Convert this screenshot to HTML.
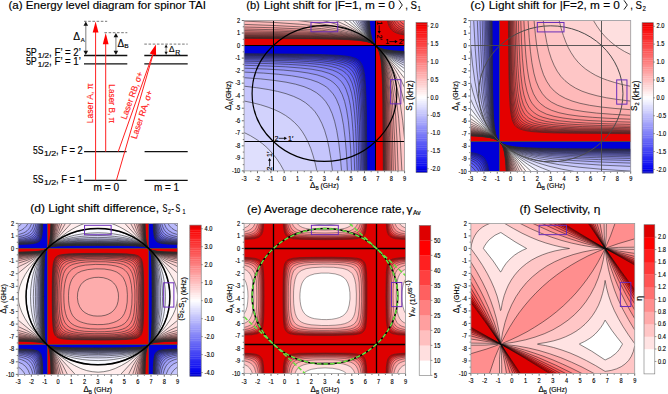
<!DOCTYPE html><html><head><meta charset="utf-8"><style>html,body{margin:0;padding:0;background:#fff}svg{display:block}</style></head><body><svg width="668" height="394" viewBox="0 0 668 394" font-family="Liberation Sans"><style>text{stroke:#000;stroke-width:.15px}.r{stroke:#ff1a1a}</style><rect width="668" height="394" fill="#fff"/><defs><clipPath id="cb"><rect x="244.10" y="20.50" width="160.50" height="150.40"/></clipPath><clipPath id="cc"><rect x="470.60" y="20.60" width="160.10" height="150.80"/></clipPath><clipPath id="cd"><rect x="18.10" y="223.40" width="159.50" height="151.00"/></clipPath><clipPath id="ce"><rect x="244.10" y="223.40" width="161.50" height="150.20"/></clipPath><clipPath id="cf"><rect x="470.90" y="223.40" width="163.80" height="150.00"/></clipPath></defs><g clip-path="url(#cb)"><rect x="244.10" y="45.57" width="131.53" height="125.33" fill="#0000d7"/><rect x="244.10" y="20.50" width="131.53" height="25.07" fill="#0000d7"/><rect x="375.63" y="45.57" width="28.97" height="125.33" fill="#0000d7"/><rect x="375.63" y="20.50" width="28.97" height="25.07" fill="#0000d7"/><g transform="scale(.1)"><path fill="#0606f0" d="M2441 1709h1228l-5-567-3-165-6-135-9-91-11-60-15-45-12-20-12-14-15-13-20-12-47-16-63-11-95-8-133-6-187-4-595-5z"/><path fill="#1313f1" d="M2441 1709h1223l-5-561-4-166-7-130-8-85-11-66-18-48-22-32-17-15-16-9-45-17-70-14-90-8-140-7-175-4-595-5z"/><path fill="#2020f2" d="M2441 1709h1218l-6-561-5-166-6-120-9-85-12-63-17-48-11-20-12-15-17-15-18-11-20-9-30-10-65-12-85-9-135-7-175-5-595-6z"/><path fill="#2d2df3" d="M2441 1709h1212l-7-549-5-161-6-117-10-90-14-70-17-46-12-20-12-15-17-15-17-11-20-9-30-11-70-14-95-10-125-7-175-5-580-6z"/><path fill="#3939f3" d="M2441 1709h1205l-7-526-6-166-7-120-10-90-15-72-19-49-11-17-14-18-33-25-48-20-67-15-93-11-140-8-175-6-560-7z"/><path fill="#4646f4" d="M2441 1709h1197l-8-501-5-166-9-130-10-86-15-71-20-52-10-17-16-20-16-15-23-15-48-20-66-15-91-11-127-9-163-6-570-8z"/><path fill="#5353f5" d="M2441 1709h1188l-9-486-6-166-9-125-11-90-16-70-10-31-12-24-26-36-16-15-22-15-51-22-70-17-90-12-128-9-162-6-550-9z"/><path fill="#6060f6" d="M2441 1709h1177l-10-486-7-151-10-125-12-90-17-70-22-51-14-21-15-18-17-16-23-15-25-13-30-11-65-16-100-14-125-9-155-7-530-10z"/><path fill="#6c6cf6" d="M2441 1709h1164l-11-456-8-161-10-116-13-89-17-70-11-30-14-29-14-22-16-19-17-16-23-15-27-15-28-11-74-19-96-14-130-11-160-8-495-10z"/><path fill="#7979f7" d="M2441 1709h1148l-5-256-7-200-10-151-11-109-15-89-18-67-25-55-31-41-21-19-23-16-53-25-72-20-92-15-120-12-155-9-215-7-275-6z"/><path fill="#8686f8" d="M2441 1709h1129l-6-236-8-188-10-144-12-109-16-90-20-70-25-55-16-25-17-20-22-21-22-16-25-14-33-15-72-21-95-17-115-13-155-10-212-9-248-6z"/><path fill="#9393f9" d="M2441 1709h1106l-7-206-9-175-11-140-14-116-17-90-23-73-27-57-17-25-17-20-24-22-25-18-55-29-70-23-91-19-118-15-146-11-185-10-250-7z"/><path fill="#9f9ff9" d="M2441 1709h1075l-9-211-11-155-12-125-15-106-19-85-24-71-30-59-34-45-21-21-25-19-30-19-30-15-75-26-89-21-111-16-144-14-166-10-230-9z"/><path fill="#acacfa" d="M2441 1709h1033l-10-175-13-151-14-120-17-95-22-86-25-70-32-58-35-45-22-22-25-20-28-19-31-16-74-30-85-22-105-19-135-16-166-14-194-10z"/><path fill="#b9b9fb" d="M2441 1709h974l-12-150-15-126-17-110-19-90-24-80-27-64-30-53-37-49-49-45-59-38-70-32-81-25-94-22-120-19-140-15-180-14z"/><path fill="#c6c6fc" d="M2441 1709h884l-15-115-17-106-20-90-21-75-23-65-28-60-33-56-35-45-47-45-55-40-64-35-76-30-90-27-105-23-120-19-135-16z"/><path fill="#d2d2fc" d="M2441 1709h728l-18-80-21-75-23-71-26-61-30-59-30-49-35-46-40-42-44-38-46-33-55-32-55-26-65-25-75-24-80-20-85-18z"/><path fill="#dfdffd" d="M2441 1709h399l-36-65-38-57-42-53-48-52-50-44-55-40-65-40-65-33z"/><path fill="#0606f0" d="M2441 456h1315v-4l-5-1-18-25-9-20-10-31-11-65-9-105h-1253z"/><path fill="#1313f1" d="M2441 456h1315v-4l-5-1-18-25-10-20-10-31-13-75-9-95h-1250z"/><path fill="#2020f2" d="M2441 456h1315v-3l-5-2-19-25-9-20-11-31-14-70-10-100h-1247z"/><path fill="#2d2df3" d="M2441 456h1315v-3l-5-2-22-30-11-26-9-25-14-75-9-90h-1245z"/><path fill="#3939f3" d="M2441 456h1315v-3l-5-2-22-30-10-20-11-31-15-70-11-95h-1241z"/><path fill="#4646f4" d="M2441 456h1315v-3l-5-2-23-30-14-31-9-25-15-70-11-90h-1238z"/><path fill="#5353f5" d="M2441 456h1315v-3l-5-2-23-30-13-26-12-30-15-65-13-95h-1234z"/><path fill="#6060f6" d="M2441 456h1315v-3l-6-2-23-30-13-26-11-25-19-75-13-90h-1230z"/><path fill="#6c6cf6" d="M2441 456h1315v-2l-6-3-26-35-24-51-21-75-13-85h-1225z"/><path fill="#7979f7" d="M2441 456h1315v-2l-6-3-27-35-25-51-20-65-17-95h-1220z"/><path fill="#8686f8" d="M2441 456h1315v-2l-6-3-28-35-15-26-13-30-21-65-18-90h-1214z"/><path fill="#9393f9" d="M2441 456h1315v-2l-6-3-32-40-29-56-21-60-20-90h-1207z"/><path fill="#9f9ff9" d="M2441 456l1315-2-6-3-26-30-20-31-16-30-25-65-22-90h-1200z"/><path fill="#acacfa" d="M2441 456l1315-2-6-3-30-35-20-31-17-30-29-70-22-80h-1191z"/><path fill="#b9b9fb" d="M2441 456l1315-1-6-4-31-35-22-31-18-30-30-65-28-85h-1180z"/><path fill="#c6c6fc" d="M2441 456l1315-1-6-4-36-40-41-61-34-65-30-80h-1168z"/><path fill="#d2d2fc" d="M2441 456l1315-1-6-4-41-45-44-61-37-65-33-75h-1154z"/><path fill="#dfdffd" d="M2441 456l1315-1-6-4-43-45-48-61-45-70-37-70h-1136z"/><path fill="#ececfe" d="M2441 456l1315-1-5-2-50-52-52-61-49-65-45-70h-1114z"/><path fill="#f9f9ff" d="M2441 456l1315-1-57-54-62-66-57-65-54-65h-1085z"/><path fill="#fff9f9" d="M2441 456h1315l-267-251h-693h-355z"/><path fill="#ffecec" d="M2441 456h1315l-75-68-80-65-80-60-85-58h-995z"/><path fill="#fedfdf" d="M2441 456h1315l-35-32-50-41-95-66-105-59-113-53h-917z"/><path fill="#fed2d2" d="M2441 456h1315l-50-43-50-37-55-33-65-34-70-31-70-25-80-25-86-23h-789z"/><path fill="#fec6c6" d="M2441 456h1315l-50-42-70-45-75-37-90-34-95-27-115-25-135-22-147-19h-538z"/><path fill="#feb9b9" d="M2441 456h1314l-24-22-50-36-45-25-45-20-50-19-55-17-130-30-160-25-200-20-260-18-295-13z"/><path fill="#fdacac" d="M2441 456h1314l-24-22-40-28-35-19-45-20-50-18-55-15-130-27-160-21-210-17-240-13-325-12z"/><path fill="#fd9f9f" d="M2441 456h1314l-24-22-40-26-40-20-35-14-50-17-55-13-120-22-170-19-205-13-260-12-315-8z"/><path fill="#fd9393" d="M2441 456h1314l-19-18-40-26-40-19-35-14-40-12-60-14-120-19-160-15-200-12-260-9-340-8z"/><path fill="#fd8686" d="M2441 456h1314l-19-18-30-19-35-18-40-15-45-13-50-11-125-18-145-12-205-11-270-8-350-7z"/><path fill="#fc7979" d="M2441 456h1314l-19-17-25-17-30-15-40-15-50-13-50-10-115-16-145-11-210-10-290-7-340-5z"/><path fill="#fc6c6c" d="M2441 456h1313l-18-17-25-16-30-14-35-13-80-18-120-16-140-11-215-9-260-6-390-5z"/><path fill="#fc6060" d="M2441 456h1313l-18-17-25-15-35-16-30-9-80-18-115-14-155-10-215-7-640-10z"/><path fill="#fc5353" d="M2441 456h1313l-18-17-20-12-30-14-35-11-90-18-105-11-155-10-195-6-665-9z"/><path fill="#fb4646" d="M2441 456h1313l-18-17-20-11-35-15-30-9-80-15-105-11-160-9-200-6-665-8z"/><path fill="#fb3939" d="M2441 456h1313l-18-16-20-12-55-20-80-15-105-11-160-8-200-6-675-7z"/><path fill="#fb2d2d" d="M2441 456h1313l-18-16-20-11-55-20-70-12-105-11-155-7-205-6-685-6z"/><path fill="#fb2020" d="M2441 456h1312l-17-16-15-9-20-8-35-11-80-14-105-9-145-7-205-4-690-6z"/><path fill="#fa1313" d="M2441 456h1312l-17-16-15-8-25-10-30-9-65-11-110-10-130-5-210-5-710-6z"/><path fill="#fa0606" d="M2441 456h1312l-17-16-15-8-25-10-30-8-75-11-105-8-160-7-210-3-675-5z"/><path fill="#e40000" d="M2441 456h1312l-17-15-15-9-45-14-65-11-110-9-140-6-210-4-710-4z"/><path fill="#0606f0" d="M3756 1709h290v-1194l-112-7-81-11-36-8-25-10-15-8-17-15h-4z"/><path fill="#1313f1" d="M3756 1709h290v-1191l-117-8-76-12-36-9-25-10-15-8-17-15h-4z"/><path fill="#2020f2" d="M3756 1709h290v-1189l-112-8-86-14-36-10-20-8-15-9-18-15h-3z"/><path fill="#2d2df3" d="M3756 1709h290v-1186l-117-9-81-14-36-11-25-11-15-10-13-12h-3z"/><path fill="#3939f3" d="M3756 1709h290v-1183l-107-9-86-15-56-19-20-11-18-16h-3z"/><path fill="#4646f4" d="M3756 1709h290v-1179l-112-11-81-15-56-20-20-12-18-16h-3z"/><path fill="#5353f5" d="M3756 1709h290v-1175l-102-11-81-15-36-11-30-13-20-12-18-16h-3z"/><path fill="#6060f6" d="M3756 1709h290v-1171l-112-13-76-17-31-10-30-13-20-13-18-16h-3z"/><path fill="#6c6cf6" d="M3756 1709h290v-1167l-107-13-76-17-36-12-25-12-25-15-19-17h-2z"/><path fill="#7979f7" d="M3756 1709h290v-1161l-102-15-81-19-30-11-31-14-25-16-19-17h-2z"/><path fill="#8686f8" d="M3756 1709h290v-1155l-97-15-81-21-35-14-31-15-25-16-19-17h-2z"/><path fill="#9393f9" d="M3756 1709h290v-1149l-102-18-81-23-36-15-25-14-25-17-19-17h-2z"/><path fill="#9f9ff9" d="M3756 1709h290v-1141l-97-19-81-26-61-29-30-21-19-17z"/><path fill="#acacfa" d="M3756 1709h290v-1132l-97-22-76-26-35-17-31-17-30-21-20-18z"/><path fill="#b9b9fb" d="M3756 1709h290v-1122l-91-24-82-31-61-33-35-25-20-18z"/><path fill="#c6c6fc" d="M3756 1709h290v-1109l-86-27-82-34-35-19-36-23-30-23-20-18z"/><path fill="#d2d2fc" d="M3756 1709h290v-1095l-86-31-82-39-71-46-50-42z"/><path fill="#dfdffd" d="M3756 1709h290v-1076l-86-39-77-42-71-49-55-47z"/><path fill="#ececfe" d="M3756 1709h290v-1053l-86-48-72-46-71-53-60-53z"/><path fill="#f9f9ff" d="M3756 1709h290v-1023l-81-57-71-55-67-54-71-64z"/><path fill="#fff9f9" d="M3756 1709h290v-982l-290-271z"/><path fill="#ffecec" d="M3756 1709h290v-923l-68-90-71-85-79-85-72-70z"/><path fill="#fedfdf" d="M3756 1709h290v-5v-827l-28-60-34-66-32-55-36-55-41-55-37-45-46-50-36-35z"/><path fill="#fed2d2" d="M3756 1709h290l-1-677-26-100-27-85-30-80-36-81-36-65-41-60-44-55-49-50z"/><path fill="#fec6c6" d="M3756 1709h290v-321l-16-155-17-126-19-120-20-95-21-80-20-66-23-60-25-55-31-55-31-45-32-40-35-35z"/><path fill="#feb9b9" d="M3756 1709h263l-15-291-17-230-24-201-26-150-30-121-21-60-20-45-26-50-26-40-28-35-30-29z"/><path fill="#fdacac" d="M3756 1709h226l-11-296-14-245-19-196-21-150-27-121-16-50-19-50-25-50-22-35-27-35-25-24z"/><path fill="#fd9f9f" d="M3756 1709h199l-9-311-13-256-15-195-18-140-24-121-14-50-16-45-21-45-22-35-22-30-19-20-6-4z"/><path fill="#fd9393" d="M3756 1709h177l-7-311-10-256-14-205-16-145-22-121-13-50-16-45-16-35-20-35-23-30-20-19z"/><path fill="#fd8686" d="M3756 1709h160l-6-316-9-266-11-190-14-155-20-121-12-45-14-45-15-35-20-35-19-25-15-16-5-3z"/><path fill="#fc7979" d="M3756 1709h146l-6-336-7-251-9-195-14-160-17-111-10-45-14-45-15-35-16-30-19-25-14-16-5-3z"/><path fill="#fc6c6c" d="M3756 1709h134l-5-351-7-276-9-180-12-151-16-110-21-80-14-35-16-30-15-20-14-16-5-2z"/><path fill="#fc6060" d="M3756 1709h124l-10-617-9-205-10-141-15-110-20-80-11-30-16-30-14-20-14-16-5-2z"/><path fill="#fc5353" d="M3756 1709h115l-9-637-7-185-10-146-13-110-18-75-11-30-15-30-13-20-14-16-5-2z"/><path fill="#fb4646" d="M3756 1709h108l-9-637-6-190-9-151-13-110-16-70-11-30-15-30-23-30-6-3z"/><path fill="#fb3939" d="M3756 1709h101l-7-637-6-195-9-151-11-100-15-75-10-30-15-30-10-15-13-15-5-3z"/><path fill="#fb2d2d" d="M3756 1709h95l-7-647-5-195-8-151-11-100-15-75-21-50-10-15-13-15-5-3z"/><path fill="#fb2020" d="M3756 1709h90l-6-667-6-195-7-146-11-100-13-60-8-25-12-25-9-15-13-15-5-2z"/><path fill="#fa1313" d="M3756 1709h85l-5-667-5-195-7-136-9-100-15-75-10-30-10-20-19-25-5-2z"/><path fill="#fa0606" d="M3756 1709h81l-6-692-4-200-6-121-10-100-12-60-10-30-9-20-6-10-18-17z"/><path fill="#e40000" d="M3756 1709h77l-4-662-4-200-6-146-9-100-12-65-9-30-9-20-6-10-18-17z"/><path fill="#0606f0" d="M3756 456h290v-251h-290z"/><path fill="#1313f1" d="M3756 456h290v-251h-290z"/><path fill="#2020f2" d="M3756 456h290v-251h-290z"/><path fill="#2d2df3" d="M3756 456h290v-251h-290z"/><path fill="#3939f3" d="M3756 456h290v-251h-290z"/><path fill="#4646f4" d="M3756 456h290v-251h-290z"/><path fill="#5353f5" d="M3756 456h290v-251h-290z"/><path fill="#6060f6" d="M3756 456h290v-251h-290z"/><path fill="#6c6cf6" d="M3756 456h290v-251h-290z"/><path fill="#7979f7" d="M3756 456h290v-251h-290z"/><path fill="#8686f8" d="M3756 456h290v-251h-290z"/><path fill="#9393f9" d="M3756 456h290v-251h-290z"/><path fill="#9f9ff9" d="M3756 456h290v-251h-290z"/><path fill="#acacfa" d="M3756 456h290v-251h-290z"/><path fill="#b9b9fb" d="M3756 456h290v-251h-290z"/><path fill="#c6c6fc" d="M3756 456h290v-251h-290z"/><path fill="#d2d2fc" d="M3756 456h290v-251h-290z"/><path fill="#dfdffd" d="M3756 456h290v-251h-290z"/><path fill="#ececfe" d="M3756 456h290v-251h-290z"/><path fill="#f9f9ff" d="M3756 456h290v-251h-290z"/><path fill="#fff9f9" d="M3756 456h290v-251h-290z"/><path fill="#ffecec" d="M3756 456h290v-251h-290z"/><path fill="#fedfdf" d="M3756 456h290v-251h-290z"/><path fill="#fed2d2" d="M3756 456h290v-251h-290z"/><path fill="#fec6c6" d="M3756 456h290v-251h-290z"/><path fill="#feb9b9" d="M3756 456h290v-251h-290z"/><path fill="#fdacac" d="M3756 456h290v-251h-290z"/><path fill="#fd9f9f" d="M3756 456h290v-251h-290z"/><path fill="#fd9393" d="M3756 456h290v-251h-290z"/><path fill="#fd8686" d="M3756 456h290v-251h-290z"/><path fill="#fc7979" d="M3756 456h290v-251h-290z"/><path fill="#fc6c6c" d="M3756 456h290v-251h-290z"/><path fill="#fc6060" d="M3756 456h290v-240l-13-11h-277z"/><path fill="#fc5353" d="M3756 456h290v-208l-27-18-26-25h-237z"/><path fill="#fb4646" d="M3756 456h290v-183l-26-13-22-15-18-17-17-23h-207z"/><path fill="#fb3939" d="M3756 456h290v-164l-36-15-30-20-21-22-19-30h-184z"/><path fill="#fb2d2d" d="M3756 456h290v-148l-46-17-33-21-27-30-19-35h-165z"/><path fill="#fb2020" d="M3756 456h290v-135l-51-16-20-10-20-14-16-15-12-16-11-20-10-25h-150z"/><path fill="#fa1313" d="M3756 456h290v-124l-60-17-21-10-22-15-15-15-14-19-10-21-11-30h-137z"/><path fill="#fa0606" d="M3756 456h290v-115l-36-7-30-9-25-11-21-14-15-15-15-22-11-23-10-35h-127z"/><path fill="#e40000" d="M3756 456h290v-107l-46-8-30-9-26-12-20-13-16-17-14-23-11-27-9-35h-118z"/></g><path transform="scale(.1)" fill="none" stroke="#2e2e2e" stroke-width="6" d="M3669 1709l-5-577-4-165-6-130-8-86-12-65-17-45-21-30-15-12-20-12-47-16-63-11-95-8-133-6-187-4-595-5M3664 1709l-5-567-4-170-7-125-9-91-13-63-16-42-9-15-15-18-31-22-49-18-67-12-93-8-143-7-172-4-590-5M3659 1709l-6-567-5-170-7-116-9-89-13-61-18-46-12-19-13-15-15-12-20-11-45-17-70-13-90-9-135-7-175-4-585-6M3653 1709l-7-549-5-161-7-127-10-85-13-66-10-29-9-21-13-20-14-15-19-15-18-10-47-17-65-13-96-10-124-7-175-5-580-6M3646 1709l-7-536-6-166-8-120-10-85-15-71-9-25-12-25-13-19-14-16-20-15-17-10-54-19-70-14-90-9-140-8-168-5-552-7M3638 1709l-8-511-6-166-8-125-11-90-16-71-21-50-12-17-16-18-18-15-21-13-50-19-70-15-95-11-115-7-180-6-550-8M3629 1709l-9-501-7-166-9-120-13-95-15-62-20-49-15-22-16-18-17-15-22-13-25-12-29-10-68-15-93-12-118-8-172-7-540-8M3618 1709l-10-486-7-151-10-125-13-95-17-66-11-30-13-25-13-20-18-19-19-16-21-13-25-12-30-10-70-17-100-13-130-9-155-7-515-9M3605 1709l-11-466-8-151-11-125-14-91-20-74-10-25-15-27-15-21-16-18-19-15-22-15-28-13-30-11-70-17-98-14-122-10-165-8-490-10M3589 1709l-5-256-7-200-10-151-11-109-15-89-20-72-25-53-15-23-20-21-23-19-22-14-55-24-70-18-95-15-120-12-155-8-215-7-265-6M3570 1709l-6-236-8-188-10-144-14-124-16-85-21-70-14-30-15-27-17-23-18-19-20-17-25-17-25-13-35-14-75-20-91-16-119-12-155-10-197-8-248-6M3547 1709l-8-221-9-175-12-145-14-111-18-85-25-76-15-31-15-25-17-23-19-20-24-20-23-16-28-15-34-14-70-21-95-18-115-13-150-12-180-8-235-7M3516 1709l-9-211-11-156-13-134-17-108-20-86-25-70-31-57-19-25-20-21-22-19-28-20-60-30-70-23-90-19-110-16-135-13-170-10-225-9M3474 1709l-10-180-13-147-15-124-20-108-22-83-28-69-17-31-18-28-40-45-25-22-25-17-60-32-74-26-81-20-110-19-130-15-151-12-194-10M3415 1709l-14-165-15-127-19-114-21-90-25-78-30-66-35-55-42-47-50-40-58-33-65-27-85-25-95-20-120-18-135-15-165-12M3325 1709l-16-120-18-108-20-93-25-85-28-70-32-62-36-54-44-47-50-42-55-34-65-30-75-27-85-23-95-19-115-18-125-15M3169 1709l-18-80-21-75-23-71-26-61-30-59-30-49-35-46-40-42-44-38-46-33-55-32-55-26-65-25-75-24-80-20-85-18M2840 1709l-36-65-38-57-42-53-48-52-50-44-55-40-65-40-65-33M3756 452l-5-1-18-25-9-20-10-31-11-65-9-105M3756 452l-5-1-18-25-10-20-10-31-13-75-9-95M3756 453l-5-2-19-25-9-20-11-31-14-70-10-100M3756 453l-5-2-22-30-11-26-9-25-14-75-9-90M3756 453l-5-2-22-30-10-20-11-31-15-70-11-95M3756 453l-5-2-23-30-14-31-9-25-15-70-11-90M3756 453l-5-2-23-30-13-26-12-30-15-65-13-95M3756 453l-6-2-23-30-13-26-11-25-19-75-13-90M3756 454l-6-3-26-35-24-51-21-75-13-85M3756 454l-6-3-27-35-25-51-20-65-17-95M3756 454l-6-3-28-35-15-26-13-30-21-65-18-90M3756 454l-6-3-32-40-29-56-21-60-20-90M3756 454l-6-3-26-30-20-31-16-30-25-65-22-90M3756 454l-6-3-30-35-20-31-17-30-29-70-22-80M3756 455l-6-4-31-35-22-31-18-30-30-65-28-85M3756 455l-6-4-36-40-41-61-34-65-30-80M3756 455l-6-4-41-45-44-61-37-65-33-75M3756 455l-6-4-43-45-48-61-45-70-37-70M3756 455l-5-2-50-52-52-61-49-65-45-70M3756 455l-57-54-62-66-57-65-54-65M3756 456l-267-251M3756 456l-75-68-80-65-80-60-85-58M3756 456l-35-32-50-41-95-66-105-59-113-53M3756 456l-50-43-50-37-55-33-65-34-70-31-70-25-80-25-86-23M3756 456l-50-42-70-45-75-37-90-34-95-27-115-25-135-22-147-19M3755 456l-24-22-50-36-45-25-45-20-50-19-55-17-130-30-160-25-200-20-260-18-295-13M3755 456l-24-22-40-28-35-19-45-20-50-18-55-15-130-27-160-21-210-17-240-13-325-12M3755 456l-24-22-40-26-40-20-35-14-50-17-55-13-120-22-170-19-205-13-260-12-315-8M3755 456l-19-18-40-26-40-19-35-14-40-12-60-14-120-19-160-15-200-12-260-9-340-8M3755 456l-19-18-30-19-35-18-40-15-45-13-50-11-125-18-145-12-205-11-270-8-350-7M3755 456l-19-17-25-17-30-15-40-15-50-13-50-10-115-16-145-11-210-10-290-7-340-5M3754 456l-18-17-25-16-30-14-35-13-80-18-120-16-140-11-215-9-260-6-390-5M3754 456l-18-17-25-15-35-16-30-9-80-18-115-14-155-10-215-7-640-10M3754 456l-18-17-20-12-30-14-35-11-90-18-105-11-155-10-195-6-665-9M3754 456l-18-17-20-11-35-15-30-9-80-15-105-11-160-9-200-6-665-8M3754 456l-18-16-20-12-55-20-80-15-105-11-160-8-200-6-675-7M3754 456l-18-16-20-11-55-20-70-12-105-11-155-7-205-6-685-6M3753 456l-17-16-15-9-20-8-35-11-80-14-105-9-145-7-205-4-690-6M3753 456l-17-16-15-8-25-10-30-9-65-11-110-10-130-5-210-5-710-6M3753 456l-17-16-15-8-25-10-30-8-75-11-105-8-160-7-210-3-675-5M3753 456l-17-15-15-9-45-14-65-11-110-9-140-6-210-4-710-4M4046 515l-112-7-81-11-36-8-25-10-15-8-17-15M4046 518l-117-8-76-12-36-9-25-10-15-8-17-15M4046 520l-112-8-86-14-36-10-20-8-15-9-18-15M4046 523l-117-9-81-14-36-11-25-11-15-10-13-12M4046 526l-107-9-86-15-56-19-20-11-18-16M4046 530l-112-11-81-15-56-20-20-12-18-16M4046 534l-102-11-81-15-36-11-30-13-20-12-18-16M4046 538l-112-13-76-17-31-10-30-13-20-13-18-16M4046 542l-107-13-76-17-36-12-25-12-25-15-19-17M4046 548l-102-15-81-19-30-11-31-14-25-16-19-17M4046 554l-97-15-81-21-35-14-31-15-25-16-19-17M4046 560l-102-18-81-23-36-15-25-14-25-17-19-17M4046 568l-97-19-81-26-61-29-30-21-19-17M4046 577l-97-22-76-26-35-17-31-17-30-21-20-18M4046 587l-91-24-82-31-61-33-35-25-20-18M4046 600l-86-27-82-34-35-19-36-23-30-23-20-18M4046 614l-86-31-82-39-71-46-50-42M4046 633l-86-39-77-42-71-49-55-47M4046 656l-86-48-72-46-71-53-60-53M4046 686l-81-57-71-55-67-54-71-64M4046 727l-290-271M4046 786l-68-90-71-85-79-85-72-70M4046 877l-28-60-34-66-32-55-36-55-41-55-37-45-46-50-36-35M4046 1037l-27-105-27-85-30-80-34-76-38-70-41-60-44-55-49-50M4046 1392l-19-184-24-166-26-135-31-120-36-101-20-45-24-45-25-40-25-35-30-35-30-30M4019 1709l-15-291-17-230-24-201-26-150-30-121-21-60-20-45-26-50-26-40-28-35-30-29M3982 1709l-11-296-14-245-19-196-21-150-27-121-16-50-19-50-25-50-22-35-27-35-25-24M3955 1709l-9-311-13-256-15-195-18-140-24-121-14-50-16-45-21-45-22-35-22-30-19-20-6-4M3933 1709l-7-311-10-256-14-205-16-145-22-121-13-50-16-45-16-35-20-35-23-30-20-19M3916 1709l-6-316-9-266-11-190-14-155-20-121-12-45-14-45-15-35-20-35-19-25-15-16-5-3M3902 1709l-6-336-7-251-9-195-14-160-17-111-10-45-14-45-15-35-16-30-19-25-14-16-5-3M3890 1709l-5-351-7-276-9-180-12-151-16-110-21-80-14-35-16-30-15-20-14-16-5-2M3880 1709l-10-617-9-205-10-141-15-110-20-80-11-30-16-30-14-20-14-16-5-2M3871 1709l-9-637-7-185-10-146-13-110-18-75-11-30-15-30-13-20-14-16-5-2M3864 1709l-9-637-6-190-9-151-13-110-16-70-11-30-15-30-23-30-6-3M3857 1709l-7-637-6-195-9-151-11-100-15-75-10-30-15-30-10-15-13-15-5-3M3851 1709l-7-647-5-195-8-151-11-100-15-75-21-50-10-15-13-15-5-3M3846 1709l-6-667-6-195-7-146-11-100-13-60-8-25-12-25-9-15-13-15-5-2M3841 1709l-5-667-5-195-7-136-9-100-15-75-10-30-10-20-19-25-5-2M3837 1709l-6-692-4-200-6-121-10-100-12-60-10-30-9-20-6-10-18-17M3833 1709l-4-662-4-200-6-146-9-100-12-65-9-30-9-20-6-10-18-17M4046 216l-13-11M4046 248l-27-18-26-25M4046 273l-26-13-22-15-18-17-17-23M4046 292l-36-15-30-20-21-22-19-30M4046 308l-46-17-33-21-27-30-19-35M4046 321l-51-16-20-10-20-14-16-15-12-16-11-20-10-25M4046 332l-60-17-21-10-22-15-15-15-14-19-10-21-11-30M4046 341l-36-7-30-9-25-11-21-14-15-15-15-22-11-23-10-35M4046 349l-46-8-30-9-26-12-20-13-16-17-14-23-11-27-9-35"/><path d="M244.10 45.50H404.60" stroke="#000" stroke-width="1"/><path d="M244.10 141.50H404.60" stroke="#000" stroke-width="1"/><path d="M273.50 20.50V170.90" stroke="#000" stroke-width="1"/><path d="M375.50 20.50V170.90" stroke="#000" stroke-width="1"/><ellipse cx="324.46" cy="93.51" rx="72.36" ry="67.81" fill="none" stroke="#000" stroke-width="1.2"/><rect x="310.98" y="22.38" width="26.75" height="9.40" fill="none" stroke="#6a2cb8" stroke-width="1"/><rect x="390.56" y="79.66" width="10.30" height="24.19" fill="none" stroke="#6a2cb8" stroke-width="1"/></g><path d="M244.10 170.90v2.3M250.79 170.90v1.3M257.48 170.90v2.3M264.16 170.90v1.3M270.85 170.90v2.3M277.54 170.90v1.3M284.23 170.90v2.3M290.91 170.90v1.3M297.60 170.90v2.3M304.29 170.90v1.3M310.98 170.90v2.3M317.66 170.90v1.3M324.35 170.90v2.3M331.04 170.90v1.3M337.73 170.90v2.3M344.41 170.90v1.3M351.10 170.90v2.3M357.79 170.90v1.3M364.48 170.90v2.3M371.16 170.90v1.3M377.85 170.90v2.3M384.54 170.90v1.3M391.23 170.90v2.3M397.91 170.90v1.3M404.60 170.90v2.3M244.10 170.90h-2.3M244.10 164.63h-1.3M244.10 158.37h-2.3M244.10 152.10h-1.3M244.10 145.83h-2.3M244.10 139.57h-1.3M244.10 133.30h-2.3M244.10 127.03h-1.3M244.10 120.77h-2.3M244.10 114.50h-1.3M244.10 108.23h-2.3M244.10 101.97h-1.3M244.10 95.70h-2.3M244.10 89.43h-1.3M244.10 83.17h-2.3M244.10 76.90h-1.3M244.10 70.63h-2.3M244.10 64.37h-1.3M244.10 58.10h-2.3M244.10 51.83h-1.3M244.10 45.57h-2.3M244.10 39.30h-1.3M244.10 33.03h-2.3M244.10 26.77h-1.3M244.10 20.50h-2.3" stroke="#444" stroke-width=".8" fill="none"/><rect x="244.10" y="20.50" width="160.50" height="150.40" fill="none" stroke="#999" stroke-width=".8"/><text x="241.58" y="180.90" font-size="6.90" textLength="5.03" lengthAdjust="spacingAndGlyphs">-3</text><text x="254.96" y="180.90" font-size="6.90" textLength="5.03" lengthAdjust="spacingAndGlyphs">-2</text><text x="268.33" y="180.90" font-size="6.90" textLength="5.03" lengthAdjust="spacingAndGlyphs">-1</text><text x="282.65" y="180.90" font-size="6.90" textLength="3.15" lengthAdjust="spacingAndGlyphs">0</text><text x="296.03" y="180.90" font-size="6.90" textLength="3.15" lengthAdjust="spacingAndGlyphs">1</text><text x="309.40" y="180.90" font-size="6.90" textLength="3.15" lengthAdjust="spacingAndGlyphs">2</text><text x="322.78" y="180.90" font-size="6.90" textLength="3.15" lengthAdjust="spacingAndGlyphs">3</text><text x="336.15" y="180.90" font-size="6.90" textLength="3.15" lengthAdjust="spacingAndGlyphs">4</text><text x="349.53" y="180.90" font-size="6.90" textLength="3.15" lengthAdjust="spacingAndGlyphs">5</text><text x="362.90" y="180.90" font-size="6.90" textLength="3.15" lengthAdjust="spacingAndGlyphs">6</text><text x="376.28" y="180.90" font-size="6.90" textLength="3.15" lengthAdjust="spacingAndGlyphs">7</text><text x="389.65" y="180.90" font-size="6.90" textLength="3.15" lengthAdjust="spacingAndGlyphs">8</text><text x="403.03" y="180.90" font-size="6.90" textLength="3.15" lengthAdjust="spacingAndGlyphs">9</text><text x="232.02" y="173.00" font-size="6.90" textLength="8.18" lengthAdjust="spacingAndGlyphs">-10</text><text x="235.17" y="160.47" font-size="6.90" textLength="5.03" lengthAdjust="spacingAndGlyphs">-9</text><text x="235.17" y="147.93" font-size="6.90" textLength="5.03" lengthAdjust="spacingAndGlyphs">-8</text><text x="235.17" y="135.40" font-size="6.90" textLength="5.03" lengthAdjust="spacingAndGlyphs">-7</text><text x="235.17" y="122.87" font-size="6.90" textLength="5.03" lengthAdjust="spacingAndGlyphs">-6</text><text x="235.17" y="110.33" font-size="6.90" textLength="5.03" lengthAdjust="spacingAndGlyphs">-5</text><text x="235.17" y="97.80" font-size="6.90" textLength="5.03" lengthAdjust="spacingAndGlyphs">-4</text><text x="235.17" y="85.27" font-size="6.90" textLength="5.03" lengthAdjust="spacingAndGlyphs">-3</text><text x="235.17" y="72.73" font-size="6.90" textLength="5.03" lengthAdjust="spacingAndGlyphs">-2</text><text x="235.17" y="60.20" font-size="6.90" textLength="5.03" lengthAdjust="spacingAndGlyphs">-1</text><text x="237.05" y="47.67" font-size="6.90" textLength="3.15" lengthAdjust="spacingAndGlyphs">0</text><text x="237.05" y="35.13" font-size="6.90" textLength="3.15" lengthAdjust="spacingAndGlyphs">1</text><text x="237.05" y="22.60" font-size="6.90" textLength="3.15" lengthAdjust="spacingAndGlyphs">2</text><text x="324.4" y="188.4" font-size="7.6" text-anchor="middle" textLength="28.6" lengthAdjust="spacingAndGlyphs"><tspan font-size="8.8">Δ</tspan><tspan font-size="5.4" dy="2.0">B</tspan><tspan dy="-2.0"> (GHz)</tspan></text><text transform="translate(231.4 95.7) rotate(-90)" font-size="7.6" text-anchor="middle" textLength="29.6" lengthAdjust="spacingAndGlyphs"><tspan font-size="8.8">Δ</tspan><tspan font-size="5.4" dy="2.0">A</tspan><tspan dy="-2.0">(GHz)</tspan></text><rect x="416.00" y="22.50" width="11.20" height="2.08" fill="#e40000"/><rect x="416.00" y="24.28" width="11.20" height="2.08" fill="#e40000"/><rect x="416.00" y="26.07" width="11.20" height="2.08" fill="#fa0303"/><rect x="416.00" y="27.85" width="11.20" height="2.08" fill="#fa0a0a"/><rect x="416.00" y="29.63" width="11.20" height="2.08" fill="#fa1010"/><rect x="416.00" y="31.42" width="11.20" height="2.08" fill="#fa1616"/><rect x="416.00" y="33.20" width="11.20" height="2.08" fill="#fb1d1d"/><rect x="416.00" y="34.98" width="11.20" height="2.08" fill="#fb2323"/><rect x="416.00" y="36.77" width="11.20" height="2.08" fill="#fb2929"/><rect x="416.00" y="38.55" width="11.20" height="2.08" fill="#fb3030"/><rect x="416.00" y="40.33" width="11.20" height="2.08" fill="#fb3636"/><rect x="416.00" y="42.12" width="11.20" height="2.08" fill="#fb3d3d"/><rect x="416.00" y="43.90" width="11.20" height="2.08" fill="#fb4343"/><rect x="416.00" y="45.68" width="11.20" height="2.08" fill="#fb4949"/><rect x="416.00" y="47.47" width="11.20" height="2.08" fill="#fc5050"/><rect x="416.00" y="49.25" width="11.20" height="2.08" fill="#fc5656"/><rect x="416.00" y="51.03" width="11.20" height="2.08" fill="#fc5c5c"/><rect x="416.00" y="52.82" width="11.20" height="2.08" fill="#fc6363"/><rect x="416.00" y="54.60" width="11.20" height="2.08" fill="#fc6969"/><rect x="416.00" y="56.38" width="11.20" height="2.08" fill="#fc7070"/><rect x="416.00" y="58.17" width="11.20" height="2.08" fill="#fc7676"/><rect x="416.00" y="59.95" width="11.20" height="2.08" fill="#fc7c7c"/><rect x="416.00" y="61.73" width="11.20" height="2.08" fill="#fd8383"/><rect x="416.00" y="63.52" width="11.20" height="2.08" fill="#fd8989"/><rect x="416.00" y="65.30" width="11.20" height="2.08" fill="#fd8f8f"/><rect x="416.00" y="67.08" width="11.20" height="2.08" fill="#fd9696"/><rect x="416.00" y="68.87" width="11.20" height="2.08" fill="#fd9c9c"/><rect x="416.00" y="70.65" width="11.20" height="2.08" fill="#fda3a3"/><rect x="416.00" y="72.43" width="11.20" height="2.08" fill="#fda9a9"/><rect x="416.00" y="74.22" width="11.20" height="2.08" fill="#fdafaf"/><rect x="416.00" y="76.00" width="11.20" height="2.08" fill="#feb6b6"/><rect x="416.00" y="77.78" width="11.20" height="2.08" fill="#febcbc"/><rect x="416.00" y="79.57" width="11.20" height="2.08" fill="#fec2c2"/><rect x="416.00" y="81.35" width="11.20" height="2.08" fill="#fec9c9"/><rect x="416.00" y="83.13" width="11.20" height="2.08" fill="#fecfcf"/><rect x="416.00" y="84.92" width="11.20" height="2.08" fill="#fed6d6"/><rect x="416.00" y="86.70" width="11.20" height="2.08" fill="#fedcdc"/><rect x="416.00" y="88.48" width="11.20" height="2.08" fill="#fee2e2"/><rect x="416.00" y="90.27" width="11.20" height="2.08" fill="#ffe9e9"/><rect x="416.00" y="92.05" width="11.20" height="2.08" fill="#ffefef"/><rect x="416.00" y="93.83" width="11.20" height="2.08" fill="#fff5f5"/><rect x="416.00" y="95.62" width="11.20" height="2.08" fill="#fffcfc"/><rect x="416.00" y="97.40" width="11.20" height="2.08" fill="#fcfcff"/><rect x="416.00" y="99.18" width="11.20" height="2.08" fill="#f5f5fe"/><rect x="416.00" y="100.97" width="11.20" height="2.08" fill="#efeffe"/><rect x="416.00" y="102.75" width="11.20" height="2.08" fill="#e9e9fe"/><rect x="416.00" y="104.53" width="11.20" height="2.08" fill="#e2e2fd"/><rect x="416.00" y="106.32" width="11.20" height="2.08" fill="#dcdcfd"/><rect x="416.00" y="108.10" width="11.20" height="2.08" fill="#d6d6fd"/><rect x="416.00" y="109.88" width="11.20" height="2.08" fill="#cfcffc"/><rect x="416.00" y="111.67" width="11.20" height="2.08" fill="#c9c9fc"/><rect x="416.00" y="113.45" width="11.20" height="2.08" fill="#c2c2fb"/><rect x="416.00" y="115.23" width="11.20" height="2.08" fill="#bcbcfb"/><rect x="416.00" y="117.02" width="11.20" height="2.08" fill="#b6b6fb"/><rect x="416.00" y="118.80" width="11.20" height="2.08" fill="#afaffa"/><rect x="416.00" y="120.58" width="11.20" height="2.08" fill="#a9a9fa"/><rect x="416.00" y="122.37" width="11.20" height="2.08" fill="#a3a3fa"/><rect x="416.00" y="124.15" width="11.20" height="2.08" fill="#9c9cf9"/><rect x="416.00" y="125.93" width="11.20" height="2.08" fill="#9696f9"/><rect x="416.00" y="127.72" width="11.20" height="2.08" fill="#8f8ff8"/><rect x="416.00" y="129.50" width="11.20" height="2.08" fill="#8989f8"/><rect x="416.00" y="131.28" width="11.20" height="2.08" fill="#8383f8"/><rect x="416.00" y="133.07" width="11.20" height="2.08" fill="#7c7cf7"/><rect x="416.00" y="134.85" width="11.20" height="2.08" fill="#7676f7"/><rect x="416.00" y="136.63" width="11.20" height="2.08" fill="#7070f7"/><rect x="416.00" y="138.42" width="11.20" height="2.08" fill="#6969f6"/><rect x="416.00" y="140.20" width="11.20" height="2.08" fill="#6363f6"/><rect x="416.00" y="141.98" width="11.20" height="2.08" fill="#5c5cf5"/><rect x="416.00" y="143.77" width="11.20" height="2.08" fill="#5656f5"/><rect x="416.00" y="145.55" width="11.20" height="2.08" fill="#5050f5"/><rect x="416.00" y="147.33" width="11.20" height="2.08" fill="#4949f4"/><rect x="416.00" y="149.12" width="11.20" height="2.08" fill="#4343f4"/><rect x="416.00" y="150.90" width="11.20" height="2.08" fill="#3d3df4"/><rect x="416.00" y="152.68" width="11.20" height="2.08" fill="#3636f3"/><rect x="416.00" y="154.47" width="11.20" height="2.08" fill="#3030f3"/><rect x="416.00" y="156.25" width="11.20" height="2.08" fill="#2929f2"/><rect x="416.00" y="158.03" width="11.20" height="2.08" fill="#2323f2"/><rect x="416.00" y="159.82" width="11.20" height="2.08" fill="#1d1df2"/><rect x="416.00" y="161.60" width="11.20" height="2.08" fill="#1616f1"/><rect x="416.00" y="163.38" width="11.20" height="2.08" fill="#1010f1"/><rect x="416.00" y="165.17" width="11.20" height="2.08" fill="#0a0af1"/><rect x="416.00" y="166.95" width="11.20" height="2.08" fill="#0303f0"/><rect x="416.00" y="168.73" width="11.20" height="2.08" fill="#0000d7"/><rect x="416.00" y="170.52" width="11.20" height="2.08" fill="#0000d7"/><rect x="416.00" y="22.50" width="11.20" height="149.80" fill="none" stroke="#777" stroke-width=".6"/><text x="430.50" y="28.27" font-size="6.90" textLength="7.87" lengthAdjust="spacingAndGlyphs">2.0</text><text x="430.50" y="46.10" font-size="6.90" textLength="7.87" lengthAdjust="spacingAndGlyphs">1.5</text><text x="430.50" y="63.93" font-size="6.90" textLength="7.87" lengthAdjust="spacingAndGlyphs">1.0</text><text x="430.50" y="81.77" font-size="6.90" textLength="7.87" lengthAdjust="spacingAndGlyphs">0.5</text><text x="430.50" y="99.60" font-size="6.90" textLength="7.87" lengthAdjust="spacingAndGlyphs">0.0</text><text x="430.50" y="117.43" font-size="6.90" textLength="9.75" lengthAdjust="spacingAndGlyphs">-0.5</text><text x="430.50" y="135.27" font-size="6.90" textLength="9.75" lengthAdjust="spacingAndGlyphs">-1.0</text><text x="430.50" y="153.10" font-size="6.90" textLength="9.75" lengthAdjust="spacingAndGlyphs">-1.5</text><text x="430.50" y="170.93" font-size="6.90" textLength="9.75" lengthAdjust="spacingAndGlyphs">-2.0</text><path d="M427.20 26.07h1.6M427.20 43.90h1.6M427.20 61.73h1.6M427.20 79.57h1.6M427.20 97.40h1.6M427.20 115.23h1.6M427.20 133.07h1.6M427.20 150.90h1.6M427.20 168.73h1.6" stroke="#555" stroke-width=".6"/><g clip-path="url(#cc)"><rect x="470.60" y="141.88" width="29.12" height="29.52" fill="#0000d7"/><rect x="470.60" y="20.60" width="29.12" height="121.28" fill="#0000d7"/><rect x="499.72" y="141.88" width="130.98" height="29.52" fill="#0000d7"/><rect x="499.72" y="20.60" width="130.98" height="121.28" fill="#0000d7"/><g transform="scale(.1)"><path fill="#0606f0" d="M4706 1714h181l-9-55-11-37-15-29-21-24-22-15-28-12-30-9-45-8z"/><path fill="#1313f1" d="M4706 1714h173l-7-41-12-39-13-28-17-22-19-15-27-15-33-11-45-10z"/><path fill="#2020f2" d="M4706 1714h164l-8-39-10-31-15-30-16-20-20-17-25-14-30-11-40-10z"/><path fill="#2d2df3" d="M4706 1714h153l-8-35-11-30-13-25-16-20-20-17-23-13-27-11-35-10z"/><path fill="#3939f3" d="M4706 1714h141l-10-34-10-24-13-22-17-20-17-15-24-14-50-19z"/><path fill="#4646f4" d="M4706 1714h125l-20-49-25-36-17-15-18-12-45-20z"/><path fill="#5353f5" d="M4706 1714h106l-18-40-23-30-30-25-35-18z"/><path fill="#6060f6" d="M4706 1714h83l-14-25-19-25-22-20-28-18z"/><path fill="#6c6cf6" d="M4706 1714h52l-23-30-29-26z"/><path fill="#7979f7" d="M4706 1714h11l-11-12z"/><path fill="#0606f0" d="M4706 1419h291v-4l-5-2-18-24-9-20-9-30-12-66-9-95-5-135-5-196-4-641h-215z"/><path fill="#1313f1" d="M4706 1419h291v-3l-5-3-18-24-10-20-10-30-11-61-10-95-5-115-5-195-6-667h-211z"/><path fill="#2020f2" d="M4706 1419h291v-3l-5-2-19-25-9-20-11-30-14-71-9-100-7-125-4-191-6-646h-207z"/><path fill="#2d2df3" d="M4706 1419h291v-3l-5-2-12-15-10-15-11-25-10-30-14-76-9-95-7-135-5-191-6-626h-202z"/><path fill="#3939f3" d="M4706 1419h291v-3l-5-2-13-15-9-15-21-50-15-71-11-100-8-145-5-186-7-626h-197z"/><path fill="#4646f4" d="M4706 1419h291v-3l-5-2-13-15-10-15-14-30-10-30-15-71-11-95-8-145-6-186-8-621h-191z"/><path fill="#5353f5" d="M4706 1419h291v-3l-5-2-13-15-10-15-13-25-11-30-17-71-14-110-9-145-6-181-8-616h-185z"/><path fill="#6060f6" d="M4706 1419h291l-18-20-14-20-15-30-10-30-17-71-14-105-9-140-7-181-10-616h-177z"/><path fill="#6c6cf6" d="M4706 1419h291l-18-20-14-20-16-30-13-35-18-76-15-105-10-135-8-201-11-591h-168z"/><path fill="#7979f7" d="M4706 1419h291l-19-20-17-25-16-30-12-30-20-81-17-115-12-145-8-196-7-245-5-326h-158z"/><path fill="#8686f8" d="M4706 1419h291l-19-20-18-25-16-30-15-35-14-46-10-45-16-105-14-150-9-191-8-240-5-326h-147z"/><path fill="#9393f9" d="M4706 1419h291l-23-25-18-25-17-30-15-35-15-46-10-40-19-115-15-150-11-181-9-255-6-311h-133z"/><path fill="#9f9ff9" d="M4706 1419h291l-24-25-18-25-20-35-16-35-15-41-15-55-20-110-16-140-14-196-10-245-7-306h-116z"/><path fill="#acacfa" d="M4706 1419h291l-24-25-23-30-21-35-21-46-14-40-15-50-24-120-20-155-14-191-12-230-9-291h-94z"/><path fill="#b9b9fb" d="M4706 1419h291l-29-30-23-30-21-35-21-41-18-45-16-50-15-55-15-70-21-145-19-191-14-235-12-286h-67z"/><path fill="#c6c6fc" d="M4706 1419h291l-29-30-28-35-26-40-24-46-21-50-20-55-31-120-28-160-21-181-17-215-15-281h-31z"/><path fill="#d2d2fc" d="M4706 1419l291-1-29-29-30-35-28-40-22-36-23-45-21-45-35-100-32-120-28-151-24-175-19-188z"/><path fill="#dfdffd" d="M4706 1419h291l-48-50-44-55-40-61-41-75-34-75-31-85-29-95-24-96z"/><path fill="#ececfe" d="M4706 1419h291l-40-40-41-45-41-51-40-55-35-55-32-55-34-65-28-61z"/><path fill="#f9f9ff" d="M4706 1419h291l-76-75-78-86-70-85-67-88z"/><path fill="#fff9f9" d="M4706 1419h291l-291-275z"/><path fill="#ffecec" d="M4706 1419h291l-70-64-65-54-71-54-85-61z"/><path fill="#fedfdf" d="M4706 1419h291l-60-53-75-57-76-48-80-44z"/><path fill="#fed2d2" d="M4706 1419h291l-55-48-75-51-81-44-80-36z"/><path fill="#fec6c6" d="M4706 1419h291l-50-42-70-46-81-39-90-33z"/><path fill="#feb9b9" d="M4706 1419h290l-19-18-30-23-35-23-35-19-81-34-90-28z"/><path fill="#fdacac" d="M4706 1419h290l-19-18-35-26-65-35-76-28-95-26z"/><path fill="#fd9f9f" d="M4706 1419h290l-19-18-30-21-30-18-35-16-76-26-100-23z"/><path fill="#fd9393" d="M4706 1419h290l-19-18-30-20-60-30-81-25-100-20z"/><path fill="#fd8686" d="M4706 1419h290l-19-18-25-16-25-14-35-15-45-15-41-10-100-17z"/><path fill="#fc7979" d="M4706 1419h290l-19-17-25-17-30-15-35-13-81-21-100-16z"/><path fill="#fc6c6c" d="M4706 1419h289l-18-17-25-16-30-14-30-11-81-20-105-15z"/><path fill="#fc6060" d="M4706 1419h289l-18-17-25-15-35-16-30-10-76-16-105-13z"/><path fill="#fc5353" d="M4706 1419h289l-18-17-20-12-30-14-30-10-76-16-115-14z"/><path fill="#fb4646" d="M4706 1419h289l-18-17-20-12-30-13-35-10-81-16-105-11z"/><path fill="#fb3939" d="M4706 1419h289l-18-16-20-12-55-20-81-15-115-12z"/><path fill="#fb2d2d" d="M4706 1419h289l-18-16-20-12-25-10-35-10-86-14-105-9z"/><path fill="#fb2020" d="M4706 1419h288l-17-16-15-9-20-8-35-11-80-14-121-10z"/><path fill="#fa1313" d="M4706 1419h288l-17-16-15-8-20-9-35-10-86-14-115-8z"/><path fill="#fa0606" d="M4706 1419h288l-17-16-15-8-25-10-35-9-75-11-121-9z"/><path fill="#e40000" d="M4706 1419h288l-17-15-15-9-25-9-35-9-81-11-115-7z"/><path fill="#0606f0" d="M4997 1714h1310v-223l-713-5-210-4-136-5-105-9-65-11-46-15-15-8-15-14-5-1z"/><path fill="#1313f1" d="M4997 1714h1310v-219l-677-5-211-4-156-6-105-8-70-12-31-8-25-10-15-8-15-14-5-1z"/><path fill="#2020f2" d="M4997 1714h1310v-215l-713-6-205-5-131-6-105-9-65-11-36-11-20-8-15-9-15-14-5-1z"/><path fill="#2d2df3" d="M4997 1714h1310v-211l-687-6-206-5-141-6-110-10-75-13-51-17-20-11-15-15-5-1z"/><path fill="#3939f3" d="M4997 1714h1310v-206l-672-6-206-6-146-6-105-10-80-13-36-11-25-10-20-11-15-15-5-1z"/><path fill="#4646f4" d="M4997 1714h1310v-201l-677-7-201-5-156-9-105-11-75-14-56-20-20-12-15-15-5-1z"/><path fill="#5353f5" d="M4997 1714h1310v-195l-667-7-201-6-156-9-100-11-80-15-35-11-31-13-20-12-15-15-5-1z"/><path fill="#6060f6" d="M4997 1714h1310v-187l-667-9-196-7-151-9-120-14-75-17-30-10-31-13-20-13-15-14-5-2z"/><path fill="#6c6cf6" d="M4997 1714h1310v-179l-642-10-216-8-151-10-115-14-75-17-30-10-36-15-25-15-15-15-5-2z"/><path fill="#7979f7" d="M4997 1714h1310v-170l-356-5-296-6-191-8-161-12-115-16-85-20-30-11-31-14-25-16-15-15-5-2z"/><path fill="#8686f8" d="M4997 1714h1310v-159l-346-5-286-8-206-9-146-12-115-16-50-10-45-12-30-11-36-17-30-19-15-15-5-2z"/><path fill="#9393f9" d="M4997 1714h1310v-145l-341-7-256-7-201-10-171-15-120-17-90-23-40-14-31-14-40-26-15-15-5-2z"/><path fill="#9f9ff9" d="M4997 1714h1310v-129l-346-8-256-9-196-12-155-15-126-20-95-26-40-15-36-17-35-23-25-21z"/><path fill="#acacfa" d="M4997 1714h1310v-109l-321-9-256-11-206-14-165-19-121-22-55-14-45-15-40-16-36-18-40-27-25-21z"/><path fill="#b9b9fb" d="M4997 1714h1310v-83l-306-11-261-14-211-18-155-21-126-25-55-16-45-16-45-20-35-19-46-30-25-22z"/><path fill="#c6c6fc" d="M4997 1714h1310v-50l-301-13-256-18-201-21-155-25-131-30-50-16-55-21-40-18-45-25-36-24-40-34z"/><path fill="#d2d2fc" d="M4997 1714h1310v-3l-291-18-226-21-196-25-165-31-75-18-61-18-55-19-60-24-50-25-50-30-51-37-30-26z"/><path fill="#dfdffd" d="M4997 1714h742l-125-23-125-29-105-31-96-34-80-35-80-44-76-52-54-47z"/><path fill="#ececfe" d="M4997 1714h510l-83-32-70-30-66-31-70-39-60-37-55-38-51-39-54-49z"/><path fill="#f9f9ff" d="M4997 1714h388l-112-73-95-69-95-77-86-76z"/><path fill="#fff9f9" d="M4997 1714h314l-314-295z"/><path fill="#ffecec" d="M4997 1714h263l-58-75-68-80-70-75-67-65z"/><path fill="#fedfdf" d="M4997 1714h227l-48-80-57-80-58-70-64-65z"/><path fill="#fed2d2" d="M4997 1714h199l-41-85-44-75-57-75-50-55-7-5z"/><path fill="#fec6c6" d="M4997 1714h177l-35-90-39-75-25-40-27-35-44-50-7-5z"/><path fill="#feb9b9" d="M4997 1714h160l-31-95-37-80-42-65-43-50-7-4z"/><path fill="#fdacac" d="M4997 1714h146l-27-95-32-80-19-35-20-30-23-30-20-21-5-3z"/><path fill="#fd9f9f" d="M4997 1714h134l-21-90-14-45-16-40-20-40-19-30-20-25-19-21-5-3z"/><path fill="#fd9393" d="M4997 1714h124l-21-100-26-80-14-30-20-35-19-25-18-20-6-4z"/><path fill="#fd8686" d="M4997 1714h115l-18-100-24-80-15-35-20-35-19-25-14-16-5-3z"/><path fill="#fc7979" d="M4997 1714h107l-18-110-21-75-14-35-17-30-18-25-14-16-5-3z"/><path fill="#fc6c6c" d="M4997 1714h101l-17-115-20-75-17-40-14-25-14-20-14-16-5-2z"/><path fill="#fc6060" d="M4997 1714h95l-14-105-9-45-10-40-14-35-15-30-14-20-14-16-5-2z"/><path fill="#fc5353" d="M4997 1714h90l-13-110-9-45-10-40-11-30-15-30-13-20-14-16-5-2z"/><path fill="#fb4646" d="M4997 1714h85l-12-110-16-80-13-40-12-25-14-20-13-16-5-2z"/><path fill="#fb3939" d="M4997 1714h81l-12-120-16-80-10-30-15-30-22-30-6-3z"/><path fill="#fb2d2d" d="M4997 1714h77l-10-110-15-85-11-35-13-30-23-30-5-3z"/><path fill="#fb2020" d="M4997 1714h74l-10-120-16-85-9-30-12-25-22-30-5-2z"/><path fill="#fa1313" d="M4997 1714h70l-8-115-14-85-10-35-11-25-9-15-13-15-5-2z"/><path fill="#fa0606" d="M4997 1714h68l-9-120-12-80-8-30-10-25-12-20-12-15-5-2z"/><path fill="#e40000" d="M4997 1714h65l-8-120-13-85-10-35-11-25-18-24-5-3z"/><path fill="#0606f0" d="M4997 1419h1310v-1213h-1310z"/><path fill="#1313f1" d="M4997 1419h1310v-1213h-1310z"/><path fill="#2020f2" d="M4997 1419h1310v-1213h-1310z"/><path fill="#2d2df3" d="M4997 1419h1310v-1213h-1310z"/><path fill="#3939f3" d="M4997 1419h1310v-1213h-1310z"/><path fill="#4646f4" d="M4997 1419h1310v-1213h-1310z"/><path fill="#5353f5" d="M4997 1419h1310v-1213h-1310z"/><path fill="#6060f6" d="M4997 1419h1310v-1213h-1310z"/><path fill="#6c6cf6" d="M4997 1419h1310v-1213h-1310z"/><path fill="#7979f7" d="M4997 1419h1310v-1213h-1310z"/><path fill="#8686f8" d="M4997 1419h1310v-1213h-1310z"/><path fill="#9393f9" d="M4997 1419h1310v-1213h-1310z"/><path fill="#9f9ff9" d="M4997 1419h1310v-1213h-1310z"/><path fill="#acacfa" d="M4997 1419h1310v-1213h-1310z"/><path fill="#b9b9fb" d="M4997 1419h1310v-1213h-1310z"/><path fill="#c6c6fc" d="M4997 1419h1310v-1213h-1310z"/><path fill="#d2d2fc" d="M4997 1419h1310v-1213h-1310z"/><path fill="#dfdffd" d="M4997 1419h1310v-1213h-1310z"/><path fill="#ececfe" d="M4997 1419h1310v-1213h-1310z"/><path fill="#f9f9ff" d="M4997 1419h1310v-1213h-1310z"/><path fill="#fff9f9" d="M4997 1419h1310v-1213h-1310z"/><path fill="#ffecec" d="M4997 1419h1310v-1213h-1310z"/><path fill="#fedfdf" d="M4997 1419h1310v-1213h-1310z"/><path fill="#fed2d2" d="M4997 1419h1310v-873l-60-30-57-34-49-35-50-42-44-44-41-48-37-52-34-55h-938z"/><path fill="#fec6c6" d="M4997 1419h1310v-556l-85-18-76-20-70-22-60-22-60-28-50-29-48-32-42-35-36-36-36-44-33-50-28-50-25-56-24-65-22-70-20-80h-595z"/><path fill="#feb9b9" d="M4997 1419h1310v-408l-130-16-111-17-95-20-81-22-70-24-65-31-55-34-50-40-41-43-37-52-32-60-27-65-24-75-21-85-19-106-16-115h-436z"/><path fill="#fdacac" d="M4997 1419h1310v-322l-146-11-125-13-105-14-87-16-79-19-65-21-58-25-53-31-30-22-25-22-23-25-22-29-36-62-32-80-27-95-20-108-18-138-15-160h-344z"/><path fill="#fd9f9f" d="M4997 1419h1310v-266l-178-10-138-10-131-14-100-15-85-19-71-21-60-26-49-30-26-21-24-24-21-26-20-29-32-66-26-80-22-100-17-120-14-146-12-190h-284z"/><path fill="#fd9393" d="M4997 1419h1310v-227l-211-8-155-10-131-11-110-14-86-16-75-21-60-25-50-31-25-21-21-22-19-25-19-30-28-65-23-86-19-105-15-130-12-166-9-200h-242z"/><path fill="#fd8686" d="M4997 1419h1310v-198l-226-7-170-8-141-10-119-13-89-15-77-20-61-25-48-30-22-20-21-23-15-22-17-30-13-30-14-40-20-86-16-107-13-138-9-170-8-221h-211z"/><path fill="#fc7979" d="M4997 1419h1310v-175l-231-6-201-7-145-9-121-12-90-14-75-18-60-24-46-28-20-18-20-23-15-22-16-30-24-68-19-87-14-116-11-145-9-180-6-231h-187z"/><path fill="#fc6c6c" d="M4997 1419h1310v-157l-462-12-150-8-121-11-91-13-79-18-55-22-26-14-20-15-20-19-17-22-16-25-12-26-21-64-17-90-12-106-10-148-8-192-6-251h-167z"/><path fill="#fc6060" d="M4997 1419h1310v-143l-482-10-161-8-125-10-95-13-70-16-54-21-42-26-19-19-16-19-25-46-20-65-17-90-11-116-9-150-7-205-5-256h-152z"/><path fill="#fc5353" d="M4997 1419h1310v-131l-507-9-150-6-131-9-85-11-75-15-58-20-23-12-20-14-20-19-15-19-15-26-10-23-19-67-13-80-11-116-8-150-6-205-5-281h-139z"/><path fill="#fb4646" d="M4997 1419h1310v-120l-517-9-176-6-115-8-95-11-71-14-52-18-23-12-20-14-15-14-16-20-14-24-10-23-18-63-13-85-10-110-7-166-10-496h-128z"/><path fill="#fb3939" d="M4997 1419h1310v-112l-542-7-176-6-115-8-90-9-71-14-55-19-20-11-19-15-16-15-14-20-21-45-17-65-12-90-9-120-6-161-8-496h-119z"/><path fill="#fb2d2d" d="M4997 1419h1310v-104l-533-6-174-5-136-8-95-9-73-14-48-15-20-11-20-14-16-15-14-19-12-21-10-25-15-60-12-90-7-110-7-166-7-521h-111z"/><path fill="#fb2020" d="M4997 1419h1310v-98l-572-6-176-5-122-6-93-10-61-11-50-16-20-10-19-14-26-30-11-20-10-25-14-57-12-88-8-125-5-158-7-534h-104z"/><path fill="#fa1313" d="M4997 1419h1310v-92l-572-5-171-5-135-6-91-8-70-12-50-16-35-22-25-30-11-20-10-25-14-64-10-88-7-113-5-166-6-541h-98z"/><path fill="#fa0606" d="M4997 1419h1310v-87l-572-5-177-3-139-7-101-8-61-10-48-16-19-10-17-12-13-13-12-16-19-44-12-55-10-85-7-120-5-166-6-556h-92z"/><path fill="#e40000" d="M4997 1419h1310v-82l-582-5-186-3-130-6-101-8-65-11-48-16-32-20-14-15-10-15-17-40-13-65-9-80-6-125-4-161-6-561h-87z"/></g><path transform="scale(.1)" fill="none" stroke="#2e2e2e" stroke-width="6" d="M4887 1714l-8-50-12-40-15-30-15-20-21-16-29-14-34-10-47-9M4879 1714l-7-41-12-39-13-28-17-22-19-15-27-15-33-11-45-10M4870 1714l-8-39-10-31-15-30-16-20-20-17-25-14-30-11-40-10M4859 1714l-8-35-11-30-13-25-16-20-20-17-23-13-27-11-35-10M4847 1714l-10-34-10-24-13-22-17-20-17-15-24-14-50-19M4831 1714l-20-49-25-36-17-15-18-12-45-20M4812 1714l-18-40-23-30-30-25-35-18M4789 1714l-14-25-19-25-22-20-28-18M4758 1714l-23-30-29-26M4717 1714l-11-12M4997 1415l-5-2-18-24-9-20-9-30-12-66-9-95-5-135-5-196-4-641M4997 1416l-5-3-18-24-10-20-10-30-11-61-10-95-5-115-5-195-6-667M4997 1416l-5-2-19-25-9-20-11-30-14-71-9-100-7-125-4-191-6-646M4997 1416l-5-2-22-30-11-25-10-30-14-76-9-95-7-135-5-191-6-626M4997 1416l-5-2-22-30-21-50-15-71-10-95-9-145-5-186-7-631M4997 1416l-5-2-23-30-14-30-10-30-15-71-11-95-8-145-6-186-8-621M4997 1416l-5-2-23-30-13-25-11-30-17-71-14-110-9-145-6-181-8-616M4997 1417l-5-3-13-15-14-20-15-30-10-30-17-71-14-105-9-140-7-181-10-616M4997 1417l-5-3-13-15-14-20-16-30-10-25-10-36-10-45-15-105-11-140-8-196-6-250-5-346M4997 1417l-6-3-27-35-14-25-17-40-19-76-16-105-13-150-9-196-7-250-5-331M4997 1417l-5-2-14-16-18-25-16-30-15-35-14-46-10-45-16-105-14-150-9-191-8-240-5-326M4997 1417l-5-2-14-16-19-25-20-35-15-35-15-46-10-40-19-115-15-150-11-181-9-255-6-311M4997 1417l-6-3-18-20-18-25-20-35-16-35-15-41-15-55-20-110-16-140-14-196-10-245-7-306M4997 1418l-5-3-19-21-23-30-21-35-19-41-16-45-15-50-24-120-20-155-14-191-12-230-9-291M4997 1418l-5-3-19-21-28-35-21-35-21-41-18-45-16-50-15-55-15-70-21-145-19-191-14-235-12-286M4997 1418l-6-4-23-25-28-35-26-40-24-46-21-50-20-55-31-120-28-160-21-181-17-215-15-281M4997 1418l-29-29-30-35-28-40-22-36-23-45-21-45-35-100-32-120-28-151-24-175-19-188M4997 1418l-6-4-42-45-44-55-40-61-41-75-34-75-31-85-29-95-24-96M4997 1418l-35-34-46-50-41-51-40-55-35-55-32-55-34-65-28-61M4997 1419l-76-75-78-86-70-85-67-88M4997 1419l-291-275M4997 1419l-70-64-65-54-71-54-85-61M4997 1419l-60-53-75-57-76-48-80-44M4997 1419l-55-48-75-51-81-44-80-36M4997 1419l-50-42-70-46-81-39-90-33M4996 1419l-19-18-30-23-35-23-35-19-81-34-90-28M4996 1419l-19-18-35-26-65-35-76-28-95-26M4996 1419l-19-18-30-21-30-18-35-16-76-26-100-23M4996 1419l-19-18-30-20-60-30-81-25-100-20M4996 1419l-19-18-25-16-25-14-35-15-45-15-41-10-100-17M4996 1419l-19-17-25-17-30-15-35-13-81-21-100-16M4995 1419l-18-17-25-16-30-14-30-11-81-20-105-15M4995 1419l-18-17-25-15-35-16-30-10-76-16-105-13M4995 1419l-18-17-20-12-30-14-30-10-76-16-115-14M4995 1419l-18-17-20-12-30-13-35-10-81-16-105-11M4995 1419l-18-16-20-12-55-20-81-15-115-12M4995 1419l-18-16-20-12-25-10-35-10-86-14-105-9M4994 1419l-17-16-15-9-20-8-35-11-80-14-121-10M4994 1419l-17-16-15-8-20-9-35-10-86-14-115-8M4994 1419l-17-16-15-8-25-10-35-9-75-11-121-9M4994 1419l-17-15-15-9-25-9-35-9-81-11-115-7M6307 1491l-713-5-210-4-136-5-105-9-65-11-46-15-15-8-16-15M6307 1495l-677-5-211-4-156-6-105-8-70-12-31-8-25-10-15-8-17-15M6307 1499l-713-6-205-5-131-6-105-9-65-11-36-11-20-8-15-9-17-15M6307 1503l-687-6-206-5-141-6-110-10-75-13-36-11-25-11-15-10-12-12M6307 1508l-687-7-206-5-151-8-105-10-65-13-56-19-20-11-17-16M6307 1513l-677-7-201-5-156-9-105-11-75-14-56-20-20-12-17-16M6307 1519l-667-7-201-6-156-9-100-11-80-15-35-11-31-13-20-12-17-16M6307 1527l-667-9-196-7-151-9-120-14-75-17-30-10-31-13-20-13-18-16M6307 1535l-642-10-216-8-151-10-115-14-75-17-30-10-36-15-25-15-18-17M6307 1544l-356-5-296-6-191-8-161-12-115-16-85-20-30-11-31-14-25-16-18-17M6307 1555l-346-5-286-8-206-9-146-12-115-16-50-10-45-12-40-16-31-15-25-16-18-17M6307 1569l-341-7-256-7-201-10-171-15-125-18-50-12-45-13-40-16-31-15-30-20-18-17M6307 1585l-346-8-256-9-196-12-155-15-126-20-95-26-40-15-36-17-40-27-18-17M6307 1605l-321-9-256-11-206-14-165-19-121-22-55-14-45-15-40-16-36-18-40-27-24-21M6307 1631l-306-11-261-14-211-18-155-21-126-25-55-16-45-16-45-20-35-19-46-30-24-22M6307 1664l-301-13-256-18-201-21-155-25-131-30-50-16-55-21-40-18-45-25-46-32-29-26M6307 1711l-291-18-226-21-196-25-165-31-75-18-61-18-55-19-60-24-50-25-50-30-51-37-29-26M5739 1714l-125-23-125-29-105-31-96-34-80-35-80-44-76-52-54-47M5507 1714l-83-32-70-30-66-31-70-39-60-37-55-38-51-39-54-49M5385 1714l-112-73-95-69-95-77-86-76M5311 1714l-314-295M5260 1714l-58-75-68-80-70-75-67-65M5224 1714l-48-80-57-80-58-70-64-65M5196 1714l-41-85-44-75-57-75-50-55-7-5M5174 1714l-35-90-39-75-25-40-27-35-44-50-7-5M5157 1714l-31-95-37-80-42-65-43-50-7-4M5143 1714l-27-95-32-80-19-35-20-30-23-30-20-21-5-3M5131 1714l-21-90-14-45-16-40-20-40-19-30-20-25-19-21-5-3M5121 1714l-21-100-26-80-14-30-20-35-19-25-18-20-6-4M5112 1714l-18-100-24-80-15-35-20-35-19-25-14-16-5-3M5104 1714l-18-110-21-75-14-35-17-30-18-25-14-16-5-3M5098 1714l-17-115-20-75-17-40-14-25-14-20-14-16-5-2M5092 1714l-14-105-9-45-10-40-14-35-15-30-14-20-14-16-5-2M5087 1714l-13-110-9-45-10-40-11-30-15-30-13-20-14-16-5-2M5082 1714l-12-110-16-80-13-40-12-25-14-20-13-16-5-2M5078 1714l-12-120-16-80-10-30-15-30-22-30-6-3M5074 1714l-10-110-15-85-11-35-13-30-23-30-5-3M5071 1714l-10-120-16-85-9-30-12-25-22-30-5-2M5067 1714l-8-115-14-85-10-35-11-25-9-15-13-15-5-2M5065 1714l-9-120-12-80-8-30-10-25-12-20-12-15-5-2M5062 1714l-8-120-13-85-10-35-11-25-18-24-5-3M6307 546l-60-30-57-34-49-35-50-42-44-44-41-48-37-52-34-55M6307 863l-85-18-76-20-70-22-60-22-60-28-50-29-48-32-42-35-36-36-36-44-33-50-28-50-25-56-24-65-22-70-20-80M6307 1011l-130-16-111-17-95-20-81-22-70-24-65-31-55-34-50-40-41-43-37-52-32-60-27-65-24-75-21-85-19-106-16-115M6307 1097l-166-13-130-14-114-17-97-20-80-23-67-27-59-32-50-39-41-44-37-56-31-65-25-75-22-90-19-110-15-124-13-142M6307 1153l-181-10-160-12-126-15-110-18-82-20-74-26-60-31-50-38-40-46-35-58-28-67-22-80-20-105-15-115-12-136-11-170M6307 1192l-218-9-165-10-134-12-110-15-91-19-74-24-61-30-47-35-20-20-20-25-32-55-26-70-21-86-16-100-14-133-10-148-9-195M6307 1221l-241-7-176-9-150-11-110-14-91-17-75-22-58-28-23-15-24-20-36-42-15-24-15-31-23-68-19-86-14-105-13-140-9-171-7-205M6307 1244l-236-6-206-8-150-10-119-12-92-15-75-20-35-14-25-13-25-17-20-16-19-20-17-22-27-53-22-70-16-80-15-121-10-139-8-181-6-221M6307 1262l-266-6-211-7-155-9-121-11-95-15-70-19-56-25-40-30-20-22-14-20-26-53-20-70-15-86-11-107-10-145-7-190-6-241M6307 1276l-482-10-161-8-125-10-100-14-70-16-31-11-28-14-22-13-20-17-18-20-14-20-24-50-19-70-14-85-11-121-8-145-11-446M6307 1288l-512-9-155-7-126-9-100-13-70-16-53-21-23-13-20-17-15-16-15-21-12-23-12-30-17-65-14-90-10-121-7-145-10-466M6307 1299l-527-9-173-7-118-8-98-12-68-14-52-21-38-25-15-15-15-21-13-24-10-25-17-67-12-83-10-116-7-160-9-486M6307 1307l-552-8-169-5-122-8-100-12-66-15-50-20-35-26-15-17-12-18-12-25-9-25-16-70-11-85-9-126-6-160-7-481M6307 1315l-547-7-171-5-140-8-95-10-66-14-49-18-21-12-16-13-14-15-15-22-20-48-14-65-10-85-8-115-6-161-7-511M6307 1321l-572-6-176-5-122-6-98-10-66-13-48-18-17-10-19-15-14-15-13-20-19-48-13-62-10-85-7-118-5-150-7-534M6307 1327l-582-6-176-4-130-7-91-8-70-14-45-16-20-12-15-12-13-15-12-18-17-42-13-59-10-88-7-113-5-166-6-541M6307 1332l-577-5-172-3-144-7-97-8-64-12-50-16-33-23-24-30-18-44-13-61-9-80-6-120-5-166-6-551M6307 1337l-582-5-186-3-130-6-101-8-65-11-48-16-32-20-14-15-10-15-17-40-13-65-9-80-6-125-4-161-6-561"/><path d="M470.60 45.50H630.70" stroke="#4a4a4a" stroke-width="0.9"/><path d="M470.60 141.50H630.70" stroke="#4a4a4a" stroke-width="0.9"/><path d="M499.50 20.60V171.40" stroke="#4a4a4a" stroke-width="0.9"/><path d="M601.50 20.60V171.40" stroke="#4a4a4a" stroke-width="0.9"/><ellipse cx="550.76" cy="93.81" rx="72.18" ry="67.99" fill="none" stroke="#4a4a4a" stroke-width="1"/><rect x="537.31" y="22.48" width="26.68" height="9.43" fill="none" stroke="#6a2cb8" stroke-width="1"/><rect x="616.69" y="79.91" width="10.27" height="24.25" fill="none" stroke="#6a2cb8" stroke-width="1"/></g><path d="M470.60 171.40v2.3M477.27 171.40v1.3M483.94 171.40v2.3M490.61 171.40v1.3M497.28 171.40v2.3M503.95 171.40v1.3M510.62 171.40v2.3M517.30 171.40v1.3M523.97 171.40v2.3M530.64 171.40v1.3M537.31 171.40v2.3M543.98 171.40v1.3M550.65 171.40v2.3M557.32 171.40v1.3M563.99 171.40v2.3M570.66 171.40v1.3M577.33 171.40v2.3M584.00 171.40v1.3M590.68 171.40v2.3M597.35 171.40v1.3M604.02 171.40v2.3M610.69 171.40v1.3M617.36 171.40v2.3M624.03 171.40v1.3M630.70 171.40v2.3M470.60 171.40h-2.3M470.60 165.12h-1.3M470.60 158.83h-2.3M470.60 152.55h-1.3M470.60 146.27h-2.3M470.60 139.98h-1.3M470.60 133.70h-2.3M470.60 127.42h-1.3M470.60 121.13h-2.3M470.60 114.85h-1.3M470.60 108.57h-2.3M470.60 102.28h-1.3M470.60 96.00h-2.3M470.60 89.72h-1.3M470.60 83.43h-2.3M470.60 77.15h-1.3M470.60 70.87h-2.3M470.60 64.58h-1.3M470.60 58.30h-2.3M470.60 52.02h-1.3M470.60 45.73h-2.3M470.60 39.45h-1.3M470.60 33.17h-2.3M470.60 26.88h-1.3M470.60 20.60h-2.3" stroke="#444" stroke-width=".8" fill="none"/><rect x="470.60" y="20.60" width="160.10" height="150.80" fill="none" stroke="#999" stroke-width=".8"/><text x="468.08" y="181.40" font-size="6.90" textLength="5.03" lengthAdjust="spacingAndGlyphs">-3</text><text x="481.43" y="181.40" font-size="6.90" textLength="5.03" lengthAdjust="spacingAndGlyphs">-2</text><text x="494.77" y="181.40" font-size="6.90" textLength="5.03" lengthAdjust="spacingAndGlyphs">-1</text><text x="509.05" y="181.40" font-size="6.90" textLength="3.15" lengthAdjust="spacingAndGlyphs">0</text><text x="522.39" y="181.40" font-size="6.90" textLength="3.15" lengthAdjust="spacingAndGlyphs">1</text><text x="535.73" y="181.40" font-size="6.90" textLength="3.15" lengthAdjust="spacingAndGlyphs">2</text><text x="549.08" y="181.40" font-size="6.90" textLength="3.15" lengthAdjust="spacingAndGlyphs">3</text><text x="562.42" y="181.40" font-size="6.90" textLength="3.15" lengthAdjust="spacingAndGlyphs">4</text><text x="575.76" y="181.40" font-size="6.90" textLength="3.15" lengthAdjust="spacingAndGlyphs">5</text><text x="589.10" y="181.40" font-size="6.90" textLength="3.15" lengthAdjust="spacingAndGlyphs">6</text><text x="602.44" y="181.40" font-size="6.90" textLength="3.15" lengthAdjust="spacingAndGlyphs">7</text><text x="615.78" y="181.40" font-size="6.90" textLength="3.15" lengthAdjust="spacingAndGlyphs">8</text><text x="629.13" y="181.40" font-size="6.90" textLength="3.15" lengthAdjust="spacingAndGlyphs">9</text><text x="458.52" y="173.50" font-size="6.90" textLength="8.18" lengthAdjust="spacingAndGlyphs">-10</text><text x="461.67" y="160.93" font-size="6.90" textLength="5.03" lengthAdjust="spacingAndGlyphs">-9</text><text x="461.67" y="148.37" font-size="6.90" textLength="5.03" lengthAdjust="spacingAndGlyphs">-8</text><text x="461.67" y="135.80" font-size="6.90" textLength="5.03" lengthAdjust="spacingAndGlyphs">-7</text><text x="461.67" y="123.23" font-size="6.90" textLength="5.03" lengthAdjust="spacingAndGlyphs">-6</text><text x="461.67" y="110.67" font-size="6.90" textLength="5.03" lengthAdjust="spacingAndGlyphs">-5</text><text x="461.67" y="98.10" font-size="6.90" textLength="5.03" lengthAdjust="spacingAndGlyphs">-4</text><text x="461.67" y="85.53" font-size="6.90" textLength="5.03" lengthAdjust="spacingAndGlyphs">-3</text><text x="461.67" y="72.97" font-size="6.90" textLength="5.03" lengthAdjust="spacingAndGlyphs">-2</text><text x="461.67" y="60.40" font-size="6.90" textLength="5.03" lengthAdjust="spacingAndGlyphs">-1</text><text x="463.55" y="47.83" font-size="6.90" textLength="3.15" lengthAdjust="spacingAndGlyphs">0</text><text x="463.55" y="35.27" font-size="6.90" textLength="3.15" lengthAdjust="spacingAndGlyphs">1</text><text x="463.55" y="22.70" font-size="6.90" textLength="3.15" lengthAdjust="spacingAndGlyphs">2</text><text x="550.7" y="188.4" font-size="7.6" text-anchor="middle" textLength="28.6" lengthAdjust="spacingAndGlyphs"><tspan font-size="8.8">Δ</tspan><tspan font-size="5.4" dy="2.0">B</tspan><tspan dy="-2.0"> (GHz)</tspan></text><text transform="translate(457.6 96.0) rotate(-90)" font-size="7.6" text-anchor="middle" textLength="29.6" lengthAdjust="spacingAndGlyphs"><tspan font-size="8.8">Δ</tspan><tspan font-size="5.4" dy="2.0">A</tspan><tspan dy="-2.0"> (GHz)</tspan></text><rect x="642.10" y="22.70" width="11.20" height="2.09" fill="#e40000"/><rect x="642.10" y="24.49" width="11.20" height="2.09" fill="#e40000"/><rect x="642.10" y="26.28" width="11.20" height="2.09" fill="#fa0303"/><rect x="642.10" y="28.07" width="11.20" height="2.09" fill="#fa0a0a"/><rect x="642.10" y="29.86" width="11.20" height="2.09" fill="#fa1010"/><rect x="642.10" y="31.65" width="11.20" height="2.09" fill="#fa1616"/><rect x="642.10" y="33.44" width="11.20" height="2.09" fill="#fb1d1d"/><rect x="642.10" y="35.23" width="11.20" height="2.09" fill="#fb2323"/><rect x="642.10" y="37.01" width="11.20" height="2.09" fill="#fb2929"/><rect x="642.10" y="38.80" width="11.20" height="2.09" fill="#fb3030"/><rect x="642.10" y="40.59" width="11.20" height="2.09" fill="#fb3636"/><rect x="642.10" y="42.38" width="11.20" height="2.09" fill="#fb3d3d"/><rect x="642.10" y="44.17" width="11.20" height="2.09" fill="#fb4343"/><rect x="642.10" y="45.96" width="11.20" height="2.09" fill="#fb4949"/><rect x="642.10" y="47.75" width="11.20" height="2.09" fill="#fc5050"/><rect x="642.10" y="49.54" width="11.20" height="2.09" fill="#fc5656"/><rect x="642.10" y="51.33" width="11.20" height="2.09" fill="#fc5c5c"/><rect x="642.10" y="53.12" width="11.20" height="2.09" fill="#fc6363"/><rect x="642.10" y="54.91" width="11.20" height="2.09" fill="#fc6969"/><rect x="642.10" y="56.70" width="11.20" height="2.09" fill="#fc7070"/><rect x="642.10" y="58.49" width="11.20" height="2.09" fill="#fc7676"/><rect x="642.10" y="60.28" width="11.20" height="2.09" fill="#fc7c7c"/><rect x="642.10" y="62.06" width="11.20" height="2.09" fill="#fd8383"/><rect x="642.10" y="63.85" width="11.20" height="2.09" fill="#fd8989"/><rect x="642.10" y="65.64" width="11.20" height="2.09" fill="#fd8f8f"/><rect x="642.10" y="67.43" width="11.20" height="2.09" fill="#fd9696"/><rect x="642.10" y="69.22" width="11.20" height="2.09" fill="#fd9c9c"/><rect x="642.10" y="71.01" width="11.20" height="2.09" fill="#fda3a3"/><rect x="642.10" y="72.80" width="11.20" height="2.09" fill="#fda9a9"/><rect x="642.10" y="74.59" width="11.20" height="2.09" fill="#fdafaf"/><rect x="642.10" y="76.38" width="11.20" height="2.09" fill="#feb6b6"/><rect x="642.10" y="78.17" width="11.20" height="2.09" fill="#febcbc"/><rect x="642.10" y="79.96" width="11.20" height="2.09" fill="#fec2c2"/><rect x="642.10" y="81.75" width="11.20" height="2.09" fill="#fec9c9"/><rect x="642.10" y="83.54" width="11.20" height="2.09" fill="#fecfcf"/><rect x="642.10" y="85.33" width="11.20" height="2.09" fill="#fed6d6"/><rect x="642.10" y="87.11" width="11.20" height="2.09" fill="#fedcdc"/><rect x="642.10" y="88.90" width="11.20" height="2.09" fill="#fee2e2"/><rect x="642.10" y="90.69" width="11.20" height="2.09" fill="#ffe9e9"/><rect x="642.10" y="92.48" width="11.20" height="2.09" fill="#ffefef"/><rect x="642.10" y="94.27" width="11.20" height="2.09" fill="#fff5f5"/><rect x="642.10" y="96.06" width="11.20" height="2.09" fill="#fffcfc"/><rect x="642.10" y="97.85" width="11.20" height="2.09" fill="#fcfcff"/><rect x="642.10" y="99.64" width="11.20" height="2.09" fill="#f5f5fe"/><rect x="642.10" y="101.43" width="11.20" height="2.09" fill="#efeffe"/><rect x="642.10" y="103.22" width="11.20" height="2.09" fill="#e9e9fe"/><rect x="642.10" y="105.01" width="11.20" height="2.09" fill="#e2e2fd"/><rect x="642.10" y="106.80" width="11.20" height="2.09" fill="#dcdcfd"/><rect x="642.10" y="108.59" width="11.20" height="2.09" fill="#d6d6fd"/><rect x="642.10" y="110.38" width="11.20" height="2.09" fill="#cfcffc"/><rect x="642.10" y="112.16" width="11.20" height="2.09" fill="#c9c9fc"/><rect x="642.10" y="113.95" width="11.20" height="2.09" fill="#c2c2fb"/><rect x="642.10" y="115.74" width="11.20" height="2.09" fill="#bcbcfb"/><rect x="642.10" y="117.53" width="11.20" height="2.09" fill="#b6b6fb"/><rect x="642.10" y="119.32" width="11.20" height="2.09" fill="#afaffa"/><rect x="642.10" y="121.11" width="11.20" height="2.09" fill="#a9a9fa"/><rect x="642.10" y="122.90" width="11.20" height="2.09" fill="#a3a3fa"/><rect x="642.10" y="124.69" width="11.20" height="2.09" fill="#9c9cf9"/><rect x="642.10" y="126.48" width="11.20" height="2.09" fill="#9696f9"/><rect x="642.10" y="128.27" width="11.20" height="2.09" fill="#8f8ff8"/><rect x="642.10" y="130.06" width="11.20" height="2.09" fill="#8989f8"/><rect x="642.10" y="131.85" width="11.20" height="2.09" fill="#8383f8"/><rect x="642.10" y="133.64" width="11.20" height="2.09" fill="#7c7cf7"/><rect x="642.10" y="135.43" width="11.20" height="2.09" fill="#7676f7"/><rect x="642.10" y="137.21" width="11.20" height="2.09" fill="#7070f7"/><rect x="642.10" y="139.00" width="11.20" height="2.09" fill="#6969f6"/><rect x="642.10" y="140.79" width="11.20" height="2.09" fill="#6363f6"/><rect x="642.10" y="142.58" width="11.20" height="2.09" fill="#5c5cf5"/><rect x="642.10" y="144.37" width="11.20" height="2.09" fill="#5656f5"/><rect x="642.10" y="146.16" width="11.20" height="2.09" fill="#5050f5"/><rect x="642.10" y="147.95" width="11.20" height="2.09" fill="#4949f4"/><rect x="642.10" y="149.74" width="11.20" height="2.09" fill="#4343f4"/><rect x="642.10" y="151.53" width="11.20" height="2.09" fill="#3d3df4"/><rect x="642.10" y="153.32" width="11.20" height="2.09" fill="#3636f3"/><rect x="642.10" y="155.11" width="11.20" height="2.09" fill="#3030f3"/><rect x="642.10" y="156.90" width="11.20" height="2.09" fill="#2929f2"/><rect x="642.10" y="158.69" width="11.20" height="2.09" fill="#2323f2"/><rect x="642.10" y="160.47" width="11.20" height="2.09" fill="#1d1df2"/><rect x="642.10" y="162.26" width="11.20" height="2.09" fill="#1616f1"/><rect x="642.10" y="164.05" width="11.20" height="2.09" fill="#1010f1"/><rect x="642.10" y="165.84" width="11.20" height="2.09" fill="#0a0af1"/><rect x="642.10" y="167.63" width="11.20" height="2.09" fill="#0303f0"/><rect x="642.10" y="169.42" width="11.20" height="2.09" fill="#0000d7"/><rect x="642.10" y="171.21" width="11.20" height="2.09" fill="#0000d7"/><rect x="642.10" y="22.70" width="11.20" height="150.30" fill="none" stroke="#777" stroke-width=".6"/><text x="656.50" y="28.48" font-size="6.90" textLength="7.87" lengthAdjust="spacingAndGlyphs">2.0</text><text x="656.50" y="46.37" font-size="6.90" textLength="7.87" lengthAdjust="spacingAndGlyphs">1.5</text><text x="656.50" y="64.26" font-size="6.90" textLength="7.87" lengthAdjust="spacingAndGlyphs">1.0</text><text x="656.50" y="82.16" font-size="6.90" textLength="7.87" lengthAdjust="spacingAndGlyphs">0.5</text><text x="656.50" y="100.05" font-size="6.90" textLength="7.87" lengthAdjust="spacingAndGlyphs">0.0</text><text x="656.50" y="117.94" font-size="6.90" textLength="9.75" lengthAdjust="spacingAndGlyphs">-0.5</text><text x="656.50" y="135.84" font-size="6.90" textLength="9.75" lengthAdjust="spacingAndGlyphs">-1.0</text><text x="656.50" y="153.73" font-size="6.90" textLength="9.75" lengthAdjust="spacingAndGlyphs">-1.5</text><text x="656.50" y="171.62" font-size="6.90" textLength="9.75" lengthAdjust="spacingAndGlyphs">-2.0</text><path d="M653.30 26.28h1.6M653.30 44.17h1.6M653.30 62.06h1.6M653.30 79.96h1.6M653.30 97.85h1.6M653.30 115.74h1.6M653.30 133.64h1.6M653.30 151.53h1.6M653.30 169.42h1.6" stroke="#555" stroke-width=".6"/><g clip-path="url(#cd)"><rect x="18.10" y="344.84" width="29.02" height="29.56" fill="#0000d7"/><rect x="18.10" y="248.57" width="29.02" height="96.28" fill="#0000d7"/><rect x="18.10" y="223.40" width="29.02" height="25.17" fill="#0000d7"/><rect x="47.12" y="344.84" width="101.69" height="29.56" fill="#0000d7"/><rect x="47.12" y="248.57" width="101.69" height="96.28" fill="#0000d7"/><rect x="47.12" y="223.40" width="101.69" height="25.17" fill="#0000d7"/><rect x="148.81" y="344.84" width="28.79" height="29.56" fill="#0000d7"/><rect x="148.81" y="248.57" width="28.79" height="96.28" fill="#0000d7"/><rect x="148.81" y="223.40" width="28.79" height="25.17" fill="#0000d7"/><g transform="scale(.1)"><path fill="#0606f0" d="M181 3744h247l-3-95-5-65-9-39-5-11-10-14-20-12-37-9-53-6-105-3z"/><path fill="#1313f1" d="M181 3744h244l-3-105-6-56-10-39-14-20-11-9-15-6-35-8-60-6-90-3z"/><path fill="#2020f2" d="M181 3744h242l-4-95-6-60-9-35-7-15-8-10-23-15-40-10-52-5-93-4z"/><path fill="#2d2df3" d="M181 3744h239l-4-87-6-58-9-39-8-16-8-10-22-15-35-10-52-7-95-4z"/><path fill="#3939f3" d="M181 3744h235l-4-90-6-51-10-39-15-25-22-15-38-12-60-7-80-4z"/><path fill="#4646f4" d="M181 3744h231l-4-85-7-55-13-40-17-24-25-14-35-10-60-7-70-4z"/><path fill="#5353f5" d="M181 3744h227l-6-85-7-50-11-35-8-15-10-11-25-16-35-11-55-7-70-4z"/><path fill="#6060f6" d="M181 3744h221l-6-82-8-48-12-36-18-24-24-15-33-11-50-8-70-5z"/><path fill="#6c6cf6" d="M181 3744h215l-6-70-9-51-12-34-18-26-25-17-35-11-45-8-65-6z"/><path fill="#7979f7" d="M181 3744h207l-7-68-9-47-12-30-19-26-25-18-32-11-48-10-55-5z"/><path fill="#8686f8" d="M181 3744h197l-7-60-10-45-15-34-20-24-25-17-28-10-42-10-50-6z"/><path fill="#9393f9" d="M181 3744h185l-9-60-11-38-15-30-19-22-22-15-29-13-35-9-45-7z"/><path fill="#9f9ff9" d="M181 3744h170l-10-49-10-31-15-30-15-19-20-16-30-15-32-10-38-8z"/><path fill="#acacfa" d="M181 3744h148l-8-33-10-27-13-25-17-22-20-17-20-12-25-11-35-10z"/><path fill="#b9b9fb" d="M181 3744h117l-17-43-25-36-32-26-43-20z"/><path fill="#c6c6fc" d="M181 3744h69l-14-23-15-19-19-18-21-15z"/><path fill="#0606f0" d="M181 3448h290v-4l-11-11-6-15-6-25-5-45-4-135-2-246 2-246 4-135 5-45 6-25 6-15 11-11v-4h-290z"/><path fill="#1313f1" d="M181 3448h290v-3l-11-12-9-25-9-60-5-130-1-251 1-251 5-130 9-60 9-25 11-11v-4h-290z"/><path fill="#2020f2" d="M181 3448h290v-3l-11-12-7-15-5-20-6-45-6-120-2-266 2-266 6-120 6-45 5-20 7-15 11-12v-3h-290z"/><path fill="#2d2df3" d="M181 3448h290v-3l-12-12-10-25-5-30-5-40-5-140-2-231 2-231 5-140 5-40 5-30 10-25 12-12v-3h-290z"/><path fill="#3939f3" d="M181 3448h290v-3l-12-12-10-25-11-65-5-130-3-246 3-246 5-130 11-65 10-25 12-12v-3h-290z"/><path fill="#4646f4" d="M181 3448h290v-3l-12-12-11-25-6-25-5-40-7-145-2-231 2-231 7-145 5-40 6-25 11-25 12-12v-3h-290z"/><path fill="#5353f5" d="M181 3448h290v-3l-12-12-11-25-8-35-6-45-6-135-2-226 2-226 6-135 6-45 8-35 11-25 12-12v-3h-290z"/><path fill="#6060f6" d="M181 3448h290v-2l-12-13-12-25-9-35-5-40-7-145-3-221 3-221 7-145 5-40 9-35 12-25 12-13v-2h-290z"/><path fill="#6c6cf6" d="M181 3448h290v-2l-16-18-11-25-7-30-7-50-7-135-3-221 3-221 7-135 7-50 7-30 11-25 16-18v-2h-290z"/><path fill="#7979f7" d="M181 3448h290l-16-20-11-25-9-35-7-40-8-145-3-216 3-216 8-145 7-40 9-35 11-25 16-20h-290z"/><path fill="#8686f8" d="M181 3448h290l-16-20-12-25-10-35-8-50-8-125-4-226 4-226 8-125 8-50 10-35 12-25 16-20h-290z"/><path fill="#9393f9" d="M181 3448h290l-17-20-14-30-10-35-7-40-6-55-5-80-4-221 4-221 5-80 6-55 7-40 10-35 14-30 17-20h-290z"/><path fill="#9f9ff9" d="M181 3448h290l-17-20-16-30-10-35-10-50-6-55-5-80-4-211 4-211 5-80 6-55 10-50 10-35 16-30 17-20h-290z"/><path fill="#acacfa" d="M181 3448h290l-18-20-18-35-11-35-10-50-7-55-5-75-5-211 5-211 5-75 7-55 10-50 11-35 18-35 18-20h-290z"/><path fill="#b9b9fb" d="M181 3448h290l-18-20-20-35-14-40-10-50-9-65-6-75-5-196 5-196 6-75 9-65 10-50 14-40 20-35 18-20h-290z"/><path fill="#c6c6fc" d="M181 3448h290l-22-25-20-35-15-40-12-50-9-65-7-80-6-186 6-185 7-81 9-65 12-50 15-40 20-35 22-25h-290z"/><path fill="#d2d2fc" d="M181 3448h290l-23-25-24-40-16-40-14-55-11-65-8-75-5-91-1-90 1-90 5-90 8-76 11-65 14-55 16-40 24-40 23-25h-290z"/><path fill="#dfdffd" d="M181 3448h290l-27-30-25-40-20-45-16-55-13-65-8-70-6-86-2-90 2-90 6-85 8-71 13-65 16-55 20-45 25-40 27-30h-290z"/><path fill="#ececfe" d="M181 3448h290l-32-35-27-40-24-50-19-55-15-65-11-70-7-86-3-80 3-80 7-85 11-71 15-65 19-55 24-50 27-40 32-35h-290z"/><path fill="#f9f9ff" d="M181 3448h290l-37-40-36-50-24-45-25-60-19-65-13-66-9-75-3-80 3-80 9-75 13-66 19-65 25-60 24-45 36-50 37-40h-290z"/><path fill="#fff9f9" d="M181 3448h290l-48-50-39-50-36-55-33-65-23-60-18-71-10-65-3-65 3-65 10-65 18-71 23-60 33-65 36-55 39-50 48-50h-290z"/><path fill="#ffecec" d="M181 3448h290l-65-65-63-70-52-65-39-60-32-61-21-55-12-50-4-55 4-55 12-50 21-55 32-61 39-60 52-65 63-70 65-65h-290z"/><path fill="#fedfdf" d="M181 3448h290l-115-103-175-144zM181 2731v2l170-140 120-107h-290z"/><path fill="#fed2d2" d="M181 3448h290l-55-47-70-50-80-46-85-40zM181 2666v3l65-30 90-50 75-52 60-51h-290z"/><path fill="#fec6c6" d="M181 3448h290l-25-22-35-26-60-35-80-35-90-28zM181 2631l30-7 50-16 85-36 65-38 35-26 25-22h-290z"/><path fill="#feb9b9" d="M181 3448h289l-19-17-35-25-60-31-40-15-45-14-90-20zM181 2606v2l20-4 65-14 50-16 40-15 60-31 35-24 19-18h-289z"/><path fill="#fdacac" d="M181 3448h289l-19-17-30-20-30-15-35-15-75-21-100-17zM181 2591l100-17 75-21 35-14 30-16 30-20 19-17h-289z"/><path fill="#fd9f9f" d="M181 3448h289l-14-13-30-20-30-14-30-11-80-20-105-14zM181 2576v2l10-1 90-12 85-21 30-11 30-14 30-20 14-13h-289z"/><path fill="#fd9393" d="M181 3448h289l-14-13-25-16-30-13-30-11-75-16-115-13zM181 2566v2l95-10 55-9 40-10 30-11 30-13 25-16 14-13h-289z"/><path fill="#fd8686" d="M181 3448h289l-14-13-25-15-55-20-80-15-115-11zM181 2556v4l75-6 55-7 50-9 35-10 35-14 25-15 14-13h-289z"/><path fill="#fc7979" d="M181 3448h288l-13-12-25-15-30-11-30-8-75-12-115-10zM181 2551v3l85-7 100-14 35-9 30-11 25-15 13-12h-288z"/><path fill="#fc6c6c" d="M181 3448h288l-13-12-20-11-25-10-35-9-75-12-120-8zM181 2546v2l95-6 100-13 35-10 25-10 20-11 13-12h-288z"/><path fill="#fc6060" d="M181 3448h288l-13-12-20-11-50-15-75-11-130-8zM181 2541v2l90-4 100-12 35-8 30-10 20-11 13-12h-288z"/><path fill="#fc5353" d="M181 3448h288l-13-12-20-10-55-15-80-10-120-6zM181 2536v3l95-4 105-12 55-15 20-10 13-12h-288z"/><path fill="#fb4646" d="M181 3448h287l-12-12-10-5-25-10-30-7-80-9-130-7zM181 2531v5l60-2 80-5 55-7 40-8 20-7 20-9 12-12h-287z"/><path fill="#fb3939" d="M181 3448h287l-12-11-10-6-30-10-25-5-85-9-125-6zM181 2531v2l110-5 95-9 30-6 25-8 15-8 12-11h-287z"/><path fill="#fb2d2d" d="M181 3448h287l-12-11-15-7-25-8-30-6-70-7-135-5zM181 2526v4l65-2 80-4 55-5 30-6 30-9 15-7 12-11h-287z"/><path fill="#fb2020" d="M181 3448h287l-12-11-10-5-20-7-30-6-85-8-130-5zM181 2526v2l105-4 95-7 30-5 30-8 15-7 12-11h-287z"/><path fill="#fa1313" d="M181 3448h287l-12-11-15-7-45-10-90-8-125-3zM181 2521v4l65-1 95-4 50-5 50-11 15-7 12-11h-287z"/><path fill="#fa0606" d="M181 3448h286l-11-11-15-6-45-10-75-6-140-4zM181 2521v3l80-2 130-8 50-11 15-6 11-11h-286z"/><path fill="#e40000" d="M181 3448h286l-11-10-15-7-50-10-80-5-130-4zM181 2521l120-2 90-6 50-10 15-6 11-11h-286z"/><path fill="#0606f0" d="M181 2440v4h20l85-3 45-4 40-9 24-13 14-20 8-30 6-50 4-81h-246z"/><path fill="#1313f1" d="M181 2440v2l60-2 85-6 41-9 24-14 15-21 10-35 5-51 3-70h-243z"/><path fill="#2020f2" d="M181 2435v4l85-3 50-4 40-8 28-14 10-10 7-12 10-31 6-42 5-81h-241z"/><path fill="#2d2df3" d="M181 2435l75-2 65-6 35-9 24-13 16-20 11-30 7-51 4-70h-237z"/><path fill="#3939f3" d="M181 2430v3l45-2 80-7 42-9 28-15 16-20 10-30 8-51 5-65h-234z"/><path fill="#4646f4" d="M181 2425v4h10l108-9 43-10 28-15 16-20 11-30 9-51 4-60h-229z"/><path fill="#5353f5" d="M181 2420v5l111-10 42-10 28-15 17-20 12-29 9-47 5-60h-224z"/><path fill="#6060f6" d="M181 2415v4l20-1 90-10 40-11 25-15 18-22 12-30 8-41 6-55h-219z"/><path fill="#6c6cf6" d="M181 2410v3l38-3 67-9 35-11 25-15 18-20 12-26 10-42 7-53h-212z"/><path fill="#7979f7" d="M181 2405l55-5 50-10 28-10 23-15 18-20 12-25 10-36 7-50h-203z"/><path fill="#8686f8" d="M181 2395l48-5 42-9 30-11 24-15 18-20 13-26 10-33 8-42h-193z"/><path fill="#9393f9" d="M181 2380v4l70-13 31-11 25-15 19-20 15-25 10-27 9-39h-179z"/><path fill="#9f9ff9" d="M181 2365v3l58-13 27-11 25-16 15-15 15-21 10-23 11-35h-161z"/><path fill="#acacfa" d="M181 2345v2l10-3 35-11 20-10 21-14 17-15 12-15 11-20 10-25h-136z"/><path fill="#b9b9fb" d="M181 2315l30-13 30-19 20-20 20-29h-100z"/><path fill="#c6c6fc" d="M181 2264l20-13 18-17h-38z"/><path fill="#0606f0" d="M471 3744h1017v-296h-4l-11 11-20 7-30 5-45 4-155 4-241 2-245-2-156-4-45-4-30-5-20-7-11-11h-4z"/><path fill="#1313f1" d="M471 3744h1017v-296h-4l-11 11-20 7-30 6-45 4-145 5-251 1-255-1-146-5-45-4-30-6-20-7-11-11h-4z"/><path fill="#2020f2" d="M471 3744h1017v-296h-4l-11 11-15 6-30 7-45 5-140 5-261 1-265-1-141-5-45-5-30-7-15-6-11-11h-4z"/><path fill="#2d2df3" d="M471 3744h1017v-296h-3l-12 11-15 7-25 6-50 6-125 5-276 2-275-2-131-5-50-6-25-6-15-7-11-11h-4z"/><path fill="#3939f3" d="M471 3744h1017v-296h-3l-12 11-30 11-75 10-145 5-241 2-240-2-151-5-75-10-30-11-12-11h-3z"/><path fill="#4646f4" d="M471 3744h1017v-296h-3l-12 12-30 11-70 10-140 6-251 2-255-2-141-6-70-10-30-11-12-12h-3z"/><path fill="#5353f5" d="M471 3744h1017v-296l-5 2-10 10-25 10-30 7-45 5-155 7-241 2-235-2-156-7-45-5-30-7-25-10-10-10-5-2z"/><path fill="#6060f6" d="M471 3744h1017v-296l-5 2-10 10-30 12-40 8-40 5-140 6-241 3-235-2-146-7-45-5-40-8-30-12-10-10-5-2z"/><path fill="#6c6cf6" d="M471 3744h1017v-296l-5 2-10 10-25 11-40 10-45 6-155 7-226 3-230-3-156-7-45-6-40-10-25-11-10-10-5-2z"/><path fill="#7979f7" d="M471 3744h1017v-296l-25 18-25 9-30 7-55 8-140 7-236 3-230-3-141-7-55-8-30-7-25-9-25-18z"/><path fill="#8686f8" d="M471 3744h1017v-296l-25 18-25 10-40 10-40 5-150 10-226 2-230-2-151-10-40-5-40-10-25-10-25-18z"/><path fill="#9393f9" d="M471 3744h1017v-296l-25 19-25 10-35 10-55 8-150 10-216 3-215-3-85-4-71-6-55-8-35-10-25-10-25-19z"/><path fill="#9f9ff9" d="M471 3744h1017v-296l-25 19-30 13-40 11-40 6-75 8-80 4-216 4-220-4-80-4-76-8-40-6-40-11-30-13-25-19z"/><path fill="#acacfa" d="M471 3744h1017v-296l-25 19-30 15-35 10-55 10-70 8-80 5-211 4-210-4-80-5-76-8-55-10-35-10-30-15-25-19z"/><path fill="#b9b9fb" d="M471 3744h1017v-296l-30 23-30 14-40 12-50 10-70 9-75 5-211 5-210-5-80-5-71-9-50-10-40-12-30-14-30-23z"/><path fill="#c6c6fc" d="M471 3744h1017v-296l-30 24-40 19-45 14-50 10-60 8-91 7-190 5-195-5-90-7-61-8-50-10-45-14-40-19-30-24z"/><path fill="#d2d2fc" d="M471 3744h1017v-296l-30 24-35 19-45 17-55 13-70 11-81 7-95 5-95 1-95-1-95-4-85-8-66-10-60-14-45-17-35-19-30-24z"/><path fill="#dfdffd" d="M471 3744h1017v-296l-35 28-35 20-50 20-55 15-65 12-81 9-85 5-100 3-100-2-85-6-70-7-75-13-61-16-50-20-35-20-35-28z"/><path fill="#ececfe" d="M471 3744h1017v-296l-40 33-45 26-55 23-55 16-70 15-76 10-80 6-85 2-85-2-85-6-75-10-70-15-56-16-55-23-45-26-40-33z"/><path fill="#f9f9ff" d="M471 3744h1017v-296l-45 38-50 31-50 25-65 23-65 17-76 13-75 8-80 3-85-3-75-8-75-13-65-17-66-23-50-25-50-31-45-38z"/><path fill="#fff9f9" d="M471 3744h1017v-296l-50 44-55 39-60 34-70 32-70 23-66 15-70 10-70 3-65-3-70-10-65-15-70-23-71-32-60-34-55-39-50-44z"/><path fill="#ffecec" d="M471 3744h1017v-296l-70 64-75 60-70 49-60 35-61 29-60 21-55 11-55 5-60-5-55-11-60-21-60-29-60-35-71-49-75-60-70-64z"/><path fill="#fedfdf" d="M471 3744h281l-175-190-106-105zM1207 3744h281v-295l-105 105z"/><path fill="#fed2d2" d="M471 3744h203l-45-90-47-75-54-70-57-60zM1285 3744h203v-295l-57 60-54 70-47 75z"/><path fill="#fec6c6" d="M471 3744h161l-33-100-36-75-42-65-25-31-25-24zM1327 3744h161v-295l-25 24-25 31-42 65-36 75z"/><path fill="#feb9b9" d="M471 3744h134l-22-95-29-80-20-40-19-30-20-26-24-24zM1354 3744h134v-295l-24 24-19 26-19 30-21 40-28 80z"/><path fill="#fdacac" d="M471 3744h115l-18-100-24-80-15-35-20-35-19-26-19-19zM1374 3744h114v-295l-19 19-19 26-20 35-15 35-24 80z"/><path fill="#fd9f9f" d="M471 3744h100l-16-115-20-75-12-30-19-35-14-21-19-18zM1388 3744h100v-294l-19 18-14 21-19 35-12 30-19 75z"/><path fill="#fd9393" d="M471 3744h89l-12-110-9-45-10-40-11-30-15-30-13-21-19-18zM1399 3744h89v-294l-18 18-14 21-15 30-11 30-10 40-8 45z"/><path fill="#fd8686" d="M471 3744h80l-11-120-15-75-11-35-15-31-14-20-14-13zM1408 3744h80v-294l-14 13-14 20-14 31-12 35-14 75z"/><path fill="#fc7979" d="M471 3744h73l-10-120-15-85-9-30-12-26-13-20-14-13zM1415 3744h73v-294l-14 13-13 20-11 26-10 30-15 85z"/><path fill="#fc6c6c" d="M471 3744h67l-8-120-12-80-8-30-10-25-11-21-18-18zM1421 3744h67v-294l-17 18-11 21-10 25-8 30-13 80z"/><path fill="#fc6060" d="M471 3744h62l-8-130-11-75-9-35-11-26-10-15-13-12zM1426 3744h62v-293l-13 12-10 15-10 26-10 35-11 75z"/><path fill="#fc5353" d="M471 3744h58l-6-115-10-85-8-35-9-26-12-20-13-12zM1431 3744h57v-293l-13 12-11 20-10 26-8 35-9 85z"/><path fill="#fb4646" d="M471 3744h54l-6-130-10-80-5-25-11-31-9-15-13-12zM1434 3744h54v-293l-13 12-8 15-11 31-6 25-9 80z"/><path fill="#fb3939" d="M471 3744h50l-4-115-9-90-4-25-10-31-10-20-13-12zM1438 3744h50v-293l-12 12-11 20-9 31-5 25-9 90z"/><path fill="#fb2d2d" d="M471 3744h48l-5-130-9-85-6-30-10-26-6-10-12-11zM1441 3744h47v-292l-12 11-6 10-9 26-7 30-8 85z"/><path fill="#fb2020" d="M471 3744h45l-4-125-8-90-6-30-9-26-6-10-12-11zM1443 3744h45v-292l-12 11-6 10-8 26-7 30-7 90z"/><path fill="#fa1313" d="M471 3744h43l-5-135-6-75-5-30-9-31-6-10-12-11zM1446 3744h42v-292l-12 11-5 10-10 31-5 30-6 75z"/><path fill="#fa0606" d="M471 3744h40l-3-135-8-90-12-46-5-10-12-11zM1448 3744h40v-292l-11 11-6 10-12 46-7 90z"/><path fill="#e40000" d="M471 3744h39l-5-150-5-70-6-30-6-21-6-10-11-11zM1450 3744h38v-292l-11 11-6 10-6 21-5 30-6 70z"/><path fill="#0606f0" d="M471 3448h1017v-962h-1017z"/><path fill="#1313f1" d="M471 3448h1017v-962h-1017z"/><path fill="#2020f2" d="M471 3448h1017v-962h-1017z"/><path fill="#2d2df3" d="M471 3448h1017v-962h-1017z"/><path fill="#3939f3" d="M471 3448h1017v-962h-1017z"/><path fill="#4646f4" d="M471 3448h1017v-962h-1017z"/><path fill="#5353f5" d="M471 3448h1017v-962h-1017z"/><path fill="#6060f6" d="M471 3448h1017v-962h-1017z"/><path fill="#6c6cf6" d="M471 3448h1017v-962h-1017z"/><path fill="#7979f7" d="M471 3448h1017v-962h-1017z"/><path fill="#8686f8" d="M471 3448h1017v-962h-1017z"/><path fill="#9393f9" d="M471 3448h1017v-962h-1017z"/><path fill="#9f9ff9" d="M471 3448h1017v-962h-1017z"/><path fill="#acacfa" d="M471 3448h1017v-962h-1017z"/><path fill="#b9b9fb" d="M471 3448h1017v-962h-1017z"/><path fill="#c6c6fc" d="M471 3448h1017v-962h-1017z"/><path fill="#d2d2fc" d="M471 3448h1017v-962h-1017z"/><path fill="#dfdffd" d="M471 3448h1017v-962h-1017z"/><path fill="#ececfe" d="M471 3448h1017v-962h-1017z"/><path fill="#f9f9ff" d="M471 3448h1017v-962h-1017z"/><path fill="#fff9f9" d="M471 3448h1017v-962h-1017z"/><path fill="#ffecec" d="M471 3448h1017v-962h-1017z"/><path fill="#fedfdf" d="M471 3448h1017v-962h-1017z"/><path fill="#fed2d2" d="M471 3448h1017v-962h-1017z"/><path fill="#fec6c6" d="M471 3448h1017v-962h-1017z"/><path fill="#feb9b9" d="M471 3448h1017v-962h-1017z"/><path fill="#fdacac" d="M471 3448h1017v-962h-1017z"/><path fill="#fd9f9f" d="M471 3448h1017v-962h-1017zM932 3158l-45-12-37-19-30-25-23-34-16-41-7-50 3-50 13-45 17-33 23-27 32-23 35-14 45-10 45-2 45 4 45 13 33 17 27 23 21 27 14 32 11 42 2 41-4 40-11 40-16 30-20 25-24 20-28 15-30 11-40 7-40 1z"/><path fill="#fd9393" d="M471 3448h1017v-962h-1017zM912 3243l-40-5-35-9-30-10-25-12-21-14-21-20-15-20-13-26-12-35-9-40-5-45-1-50 2-45 7-45 9-35 14-35 25-37 33-29 42-20 60-15 80-8 85 2 68 11 32 10 25 10 37 25 29 33 20 43 15 55 6 70-2 75-11 65-18 50-20 31-25 25-31 19-35 14-46 12-54 7-60 1z"/><path fill="#fd8686" d="M471 3448h1017v-962h-1017zM907 3288l-90-11-36-9-34-13-25-15-21-17-19-25-14-25-13-40-10-51-5-60-2-65 3-65 7-55 10-45 15-41 14-22 14-18 17-15 19-12 25-11 25-9 66-13 104-7 110 3 45 5 45 8 36 11 24 10 17 10 19 15 15 16 13 19 12 25 8 26 13 60 7 95-3 100-11 75-9 33-12 28-19 30-24 24-30 18-41 15-55 11-63 7-72 2z"/><path fill="#fc7979" d="M471 3448h1017v-962h-1017zM972 3318l-125-5-50-7-45-9-35-12-25-14-22-18-19-25-16-35-13-50-8-61-4-70-1-85 5-80 9-60 13-51 12-25 13-20 16-16 18-14 18-10 26-10 68-15 50-5 65-4 135 1 105 10 41 8 32 10 38 21 17 14 13 16 11 19 11 25 14 61 10 100v125l-9 100-7 38-10 33-18 35-21 25-28 20-33 14-45 12-61 8-70 5z"/><path fill="#fc6c6c" d="M471 3448h1017v-962h-1017zM847 3333l-58-5-42-7-35-8-30-12-21-13-21-20-14-20-12-30-13-50-8-76-4-90 1-100 4-80 8-61 13-50 16-33 13-17 18-16 20-12 25-10 65-15 90-8 150-3 135 7 51 6 35 7 30 10 28 14 17 13 15 16 10 16 11 25 15 60 9 90 2 136-6 125-6 46-8 35-10 30-12 24-20 23-25 18-36 15-49 11-71 8-85 4-100 1z"/><path fill="#fc6060" d="M471 3448h1017v-962h-1017zM842 3348l-106-10-44-10-28-10-23-13-17-17-14-20-13-30-12-55-8-81-3-105 1-115 5-85 8-61 11-45 17-35 12-15 18-15 18-10 27-10 71-14 95-7 170-2 145 7 51 6 35 7 30 10 25 13 15 12 15 17 10 18 10 26 12 62 8 91 2 155-6 136-6 47-7 33-10 30-13 25-20 23-28 17-37 13-45 9-71 7-90 4h-110z"/><path fill="#fc5353" d="M471 3448h1017v-962h-1017zM807 3358l-100-10-40-10-25-10-21-13-15-17-15-25-8-25-12-62-6-84-3-125 2-125 5-81 7-57 11-43 19-35 13-15 17-12 21-10 27-8 78-12 115-6 175-1 146 7 45 6 35 7 30 9 25 14 15 14 12 17 10 20 8 25 11 70 7 111 1 165-8 136-6 45-6 30-9 25-14 25-20 20-27 15-39 12-53 8-78 6-110 3h-115z"/><path fill="#fb4646" d="M471 3448h1017v-962h-1017zM817 3368l-115-9-35-7-29-9-22-11-16-14-14-20-10-25-12-55-8-87-3-124 1-135 4-95 7-71 11-47 15-32 14-16 16-12 20-9 26-8 71-11 99-6 195-2 166 6 50 5 41 7 32 10 22 11 15 13 12 16 10 20 8 25 10 61 6 100 2 180-5 151-6 50-7 40-10 30-10 19-20 21-27 15-33 10-55 9-86 6-95 3h-125z"/><path fill="#fb3939" d="M471 3448h1017v-962h-1017zM942 3378l-180-5-95-10-36-9-22-11-19-15-14-20-8-20-7-25-9-65-5-101-2-130 2-130 5-101 9-65 7-25 8-20 10-15 10-11 15-11 20-9 56-12 85-8 200-4 206 4 105 9 31 7 29 11 15 9 15 15 17 30 12 55 8 81 4 180-4 191-9 100-8 35-10 25-15 21-20 16-30 12-35 8-55 6-71 4z"/><path fill="#fb2d2d" d="M471 3448h1017v-962h-1017zM862 3383l-145-6-45-5-41-8-25-9-18-12-16-20-10-20-11-45-8-85-3-126v-160l2-105 6-81 8-50 6-20 10-20 11-15 13-11 18-9 22-7 66-11 105-6 225-2 186 5 55 5 39 6 31 9 20 10 13 11 12 15 9 20 6 20 10 65 5 91 2 200-4 171-10 90-8 33-10 22-17 20-23 14-35 11-40 6-65 6-101 3z"/><path fill="#fb2020" d="M471 3448h1017v-962h-1017zM857 3388l-142-5-52-5-32-5-29-10-18-10-15-15-13-25-11-50-7-85-4-136v-170l3-106 6-80 9-50 14-35 12-15 14-10 19-9 23-6 68-9 95-5 235-2 191 5 55 4 40 5 26 7 24 10 13 10 12 14 8 16 7 21 10 64 5 87 2 214-4 186-9 90-9 35-10 20-15 18-21 12-32 10-47 7-65 5-101 3z"/><path fill="#fa1313" d="M471 3448h1017v-962h-1017zM917 3393l-190-4-96-10-25-6-25-11-15-14-12-20-13-46-7-69-4-111-1-170 2-139 5-99 8-58 12-36 10-14 10-10 17-10 18-7 51-9 90-6 230-3 231 3 100 8 35 7 25 10 15 11 9 11 9 15 7 20 9 60 5 80 3 211-3 201-9 104-5 26-10 26-14 19-21 14-30 10-34 6-58 5-84 3z"/><path fill="#fa0606" d="M471 3448h1017v-962h-1017zM727 3393l-91-7-30-6-20-7-16-10-14-15-10-19-7-26-8-65-4-111-2-175 2-165 4-91 5-48 10-42 13-25 12-11 15-9 20-7 30-6 90-7 131-3h240l166 4 80 10 30 9 17 10 13 14 8 16 12 45 6 75 4 126v240l-5 151-10 75-9 25-9 15-18 15-24 11-45 8-55 5-251 5z"/><path fill="#e40000" d="M471 3448h1017v-962h-1017zM772 3398l-111-5-41-5-29-6-20-9-15-13-10-15-8-22-8-55-5-90-3-171 1-190 3-106 5-62 9-43 11-26 10-11 15-10 20-8 24-5 67-7 115-4 270-1 191 5 85 8 29 9 18 10 10 10 9 15 7 20 5 25 7 75 3 111 1 225-4 176-4 55-6 35-5 20-10 21-15 16-25 12-30 7-50 5-201 6z"/><path fill="#0606f0" d="M471 2486h4l11-11 20-7 30-5 45-4 156-4 245-2 241 2 155 4 45 4 30 5 20 7 11 11h4v-252h-1017z"/><path fill="#1313f1" d="M471 2486h4l11-11 20-7 30-6 45-4 146-4 250-2 251 1 150 5 45 4 30 6 20 7 11 11h4v-252h-1017z"/><path fill="#2020f2" d="M471 2486h4l11-11 20-7 25-6 45-5 141-5 260-1 266 1 140 5 45 5 25 6 20 7 11 11h4v-252h-1017z"/><path fill="#2d2df3" d="M471 2486h4l11-11 20-8 25-5 45-6 131-5 275-2 271 2 130 5 45 6 25 5 20 8 12 11h3v-252h-1017z"/><path fill="#3939f3" d="M471 2486h3l12-11 30-11 35-6 40-4 151-5 240-2 241 2 145 5 40 4 35 6 30 11 12 11h3v-252h-1017z"/><path fill="#4646f4" d="M471 2486l5-2 10-10 30-11 70-10 141-6 250-2 251 2 140 6 45 4 30 6 30 11 10 10 5 2v-252h-1017z"/><path fill="#5353f5" d="M471 2486l5-2 10-10 30-11 70-11 156-7 235-2 241 2 155 7 70 11 30 11 10 10 5 2v-252h-1017z"/><path fill="#6060f6" d="M471 2486l5-2 10-10 30-12 40-8 45-5 141-6 235-3 236 2 145 7 45 5 40 8 30 12 10 10 5 2v-252h-1017z"/><path fill="#6c6cf6" d="M471 2486l5-2 10-10 25-11 40-10 45-6 156-7 225-3 231 3 155 7 45 6 40 10 25 11 10 10 5 2v-252h-1017z"/><path fill="#7979f7" d="M471 2486l25-18 25-9 30-7 55-8 141-7 235-3 231 3 140 7 55 8 30 7 25 9 25 18v-252h-1017z"/><path fill="#8686f8" d="M471 2486l25-18 25-10 40-10 40-5 151-9 225-3 231 3 150 9 40 5 40 10 25 10 25 18v-252h-1017z"/><path fill="#9393f9" d="M471 2486l25-19 25-10 35-10 55-8 151-10 215-3 216 3 85 4 70 6 55 8 35 10 25 10 25 19v-252h-1017z"/><path fill="#9f9ff9" d="M471 2486l25-19 30-13 40-11 40-6 136-11 235-5 236 5 70 4 70 7 40 6 40 11 30 13 25 19v-252h-1017z"/><path fill="#acacfa" d="M471 2486l25-19 30-14 35-11 55-10 76-8 80-5 205-4 211 4 80 5 75 8 55 10 35 11 30 14 25 19v-252h-1017z"/><path fill="#b9b9fb" d="M471 2486l30-23 30-14 40-12 50-10 71-9 80-5 210-5 206 5 80 5 70 9 50 10 40 12 30 14 30 23v-252h-1017z"/><path fill="#c6c6fc" d="M471 2486l30-23 30-16 45-15 50-11 61-8 80-7 95-5 115-1 195 4 86 7 65 8 45 9 50 15 40 20 30 23v-252h-1017z"/><path fill="#d2d2fc" d="M471 2486l30-24 35-19 45-16 60-15 66-10 85-8 185-5 185 5 86 8 70 10 60 15 45 16 35 19 30 24v-252h-1017z"/><path fill="#dfdffd" d="M471 2486l35-28 35-20 50-20 61-16 60-11 85-9 85-6 95-2 95 2 90 6 86 9 60 11 60 16 50 20 35 20 35 28v-252h-1017z"/><path fill="#ececfe" d="M471 2486l40-33 45-26 50-21 61-18 70-14 75-10 80-7 85-2 85 2 85 7 76 10 70 14 60 18 50 21 45 26 40 33v-252h-1017z"/><path fill="#f9f9ff" d="M471 2486l45-38 50-31 50-25 66-23 65-17 80-14 75-7 80-3 80 3 75 8 76 13 65 17 65 23 50 25 50 31 45 38v-252h-1017z"/><path fill="#fff9f9" d="M471 2486l50-44 55-39 65-37 66-29 65-22 70-16 65-9 70-4 70 3 70 10 71 16 65 22 65 29 65 37 55 39 50 44v-252h-1017z"/><path fill="#ffecec" d="M471 2486l100-89 101-74 50-31 40-22 40-19 46-17h-377zM1482 2481l6 5v-252h-377l46 17 41 19 40 22 50 31 100 74 60 52z"/><path fill="#fedfdf" d="M471 2481v5l82-81 158-171h-240zM1482 2481l6 5v-252h-240l129 141z"/><path fill="#fed2d2" d="M471 2481v4l40-40 54-65 44-65 45-81h-183zM1482 2481l6 4v-251h-182l38 70 43 66 44 55z"/><path fill="#fec6c6" d="M471 2481v4l38-40 23-30 23-35 34-65 30-81h-148zM1482 2481l6 4v-251h-148l31 81 30 60 33 50z"/><path fill="#feb9b9" d="M471 2481v4l33-35 21-30 20-35 29-70 22-81h-125zM1482 2481l6 4v-251h-124l22 81 24 60 31 55z"/><path fill="#fdacac" d="M471 2481v4l28-30 20-30 15-30 25-70 20-91h-108zM1482 2481l6 4v-251h-108l19 86 22 65 29 55z"/><path fill="#fd9f9f" d="M471 2481v3l27-29 15-25 17-35 19-65 17-96h-95zM1483 2481l5 3v-250h-95l13 81 20 70 10 25 16 30z"/><path fill="#fd9393" d="M471 2481v3l6-3 23-31 14-25 10-25 11-35 8-40 13-91h-85zM1483 2481l5 3v-250h-85l12 86 15 65 21 50 15 25z"/><path fill="#fd8686" d="M471 2481v3l5-3 17-21 16-30 10-25 16-65 13-106h-77zM1483 2481l5 3v-250h-77l10 86 15 70 19 50 15 26z"/><path fill="#fc7979" d="M471 2481v3l5-3 19-26 13-25 10-30 14-75 9-91h-70zM1483 2481l5 3v-250h-70l9 91 13 70 16 45 14 26z"/><path fill="#fc6c6c" d="M471 2481v3l5-3 19-26 9-20 10-30 14-75 8-96h-65zM1483 2481l5 3v-250h-64l8 96 12 70 15 45 12 21z"/><path fill="#fc6060" d="M471 2481v2l5-3 18-25 11-25 8-30 11-70 7-96h-60zM1483 2481l5 2v-249h-60l7 96 11 70 14 45 11 21z"/><path fill="#fc5353" d="M471 2481v2l5-3 17-25 16-45 11-70 7-106h-56zM1484 2481l4 2v-249h-56l8 106 9 65 7 25 10 25z"/><path fill="#fb4646" d="M471 2481v2l4-2 9-10 9-16 8-20 7-30 10-75 5-96h-52zM1484 2481l4 2v-249h-52l5 96 10 75 13 45 8 16z"/><path fill="#fb3939" d="M471 2481v2l5-4 14-19 8-20 7-25 9-70 6-111h-49zM1485 2481l3 2v-249h-49l6 111 9 65 11 40 7 16z"/><path fill="#fb2d2d" d="M471 2481v2l5-4 14-19 13-45 9-75 5-106h-46zM1485 2481l3 2v-249h-46l5 101 8 75 10 40 8 16z"/><path fill="#fb2020" d="M471 2481v1l5-4 13-18 9-25 5-25 7-65 5-111h-44zM1485 2481l3 1v-248h-44l5 111 7 65 5 25 9 25z"/><path fill="#fa1313" d="M471 2481v1l3-1 9-10 6-11 11-40 8-75 5-111h-42zM1486 2481l2 1v-248h-41l3 101 7 70 4 25 9 30z"/><path fill="#fa0606" d="M471 2481l12-10 5-11 11-40 8-80 4-106h-40zM1486 2481l2 1v-248h-39l3 101 7 80 12 45z"/><path fill="#e40000" d="M471 2481l11-10 6-11 11-45 6-65 4-116h-38zM1486 2481l2 1v-248h-38l4 116 6 65 11 45 6 11z"/><path fill="#0606f0" d="M1531 3744h245v-254l-104 4-52 5-36 8-20 13-8 9-7 14-9 41-6 70z"/><path fill="#1313f1" d="M1534 3744h242v-252l-91 4-61 5-35 9-22 14-14 20-9 35-6 55z"/><path fill="#2020f2" d="M1537 3744h239v-249l-90 4-56 5-36 10-15 7-10 9-10 14-5 12-9 38-5 65z"/><path fill="#2d2df3" d="M1540 3744h236v-246l-91 4-54 7-35 10-22 15-15 24-10 41-5 50z"/><path fill="#3939f3" d="M1543 3744h233v-243l-86 5-55 7-35 11-21 15-15 23-10 37-7 55z"/><path fill="#4646f4" d="M1547 3744h229v-239l-81 5-55 8-34 11-22 15-15 24-10 36-7 55z"/><path fill="#5353f5" d="M1552 3744h224v-234l-76 5-55 8-31 11-15 9-10 9-15 24-10 35-7 53z"/><path fill="#6060f6" d="M1557 3744h219v-229l-71 5-50 9-36 12-22 18-8 10-10 19-10 36-7 50z"/><path fill="#6c6cf6" d="M1564 3744h212v-223l-71 7-45 9-31 12-25 19-15 23-11 33-9 54z"/><path fill="#7979f7" d="M1571 3744h205v-215l-61 7-45 9-33 14-23 18-15 22-13 35-8 45z"/><path fill="#8686f8" d="M1581 3744h195v-206l-56 8-40 10-30 13-25 20-16 23-12 32-9 40z"/><path fill="#9393f9" d="M1593 3744h183v-194l-49 9-36 10-31 15-20 17-17 23-14 33-10 42z"/><path fill="#9f9ff9" d="M1609 3744h167v-178l-40 9-36 12-25 14-20 18-15 21-14 29-10 35z"/><path fill="#acacfa" d="M1630 3744h146v-156l-35 10-24 11-22 13-19 17-15 20-11 21-10 27z"/><path fill="#b9b9fb" d="M1661 3744h115v-124l-40 19-31 25-25 34z"/><path fill="#c6c6fc" d="M1709 3744h67v-73l-20 14-20 19-15 20z"/><path fill="#0606f0" d="M1488 3448h288v-962h-288v4l11 11 6 15 6 25 5 45 5 135 1 246-1 246-5 135-5 45-6 25-6 15-11 11z"/><path fill="#1313f1" d="M1488 3448h288v-962h-288v4l11 11 7 15 6 25 5 45 5 130 1 251-1 251-5 130-5 45-6 25-7 15-11 12z"/><path fill="#2020f2" d="M1488 3448h288v-962h-288v3l12 12 6 15 6 25 6 40 5 120 2 266-2 266-5 120-6 40-6 25-6 15-12 12z"/><path fill="#2d2df3" d="M1488 3448h288v-962h-288v3l12 12 10 25 6 30 4 40 5 140 2 231-2 231-5 140-4 40-6 30-10 25-12 12z"/><path fill="#3939f3" d="M1488 3448h288v-962h-288v3l12 12 10 25 7 30 4 40 6 130 2 241-2 241-6 130-4 40-7 30-10 25-12 12z"/><path fill="#4646f4" d="M1488 3448h288v-962h-288v3l12 12 11 25 6 25 5 40 7 145 2 231-2 231-7 145-5 40-6 25-11 25-12 12z"/><path fill="#5353f5" d="M1488 3448h288v-962h-288v3l13 12 11 25 8 40 5 40 6 135 2 226-2 226-6 135-5 40-8 40-11 25-13 12z"/><path fill="#6060f6" d="M1488 3448h288v-962h-288v2l13 13 11 25 9 35 5 40 7 125 3 241-3 241-7 125-5 40-9 35-11 25-13 13z"/><path fill="#6c6cf6" d="M1488 3448h288v-962h-288v2l13 13 10 20 10 35 7 40 8 140 3 231-3 231-8 140-7 40-10 35-10 20-13 13z"/><path fill="#7979f7" d="M1488 3448h288v-962h-288l16 20 12 25 10 40 5 40 9 145 2 211-2 211-9 145-5 40-10 40-12 25z"/><path fill="#8686f8" d="M1488 3448h288v-962h-288l17 20 12 25 10 35 7 50 9 130 3 221-3 221-9 130-7 50-10 35-12 25z"/><path fill="#9393f9" d="M1488 3448h288v-962h-288l17 20 13 25 9 30 9 50 6 55 5 80 4 221-4 221-5 80-6 55-9 50-9 30-13 25z"/><path fill="#9f9ff9" d="M1488 3448h288v-962h-288l17 20 16 30 11 35 9 50 6 55 5 80 4 211-4 211-5 80-6 55-9 50-11 35-16 30z"/><path fill="#acacfa" d="M1488 3448h288v-962h-288l18 20 16 30 14 40 9 50 7 55 6 80 4 206-4 206-6 80-7 55-9 50-14 40-16 30z"/><path fill="#b9b9fb" d="M1488 3448h288v-962h-288l18 20 20 35 15 45 10 45 9 70 5 76 5 190-5 191-5 75-9 70-10 45-15 45-20 35z"/><path fill="#c6c6fc" d="M1488 3448h288v-962h-288l22 25 20 35 16 45 11 45 9 60 7 75 4 91 2 105-2 105-4 91-7 75-9 60-11 45-16 45-20 35z"/><path fill="#d2d2fc" d="M1488 3448h288v-962h-288l23 25 24 40 16 40 15 55 10 60 7 71 6 85 2 105-2 105-6 86-7 70-10 60-15 55-16 40-24 40z"/><path fill="#dfdffd" d="M1488 3448h288v-962h-288l27 30 25 40 22 50 14 50 12 60 10 76 5 80 3 95-3 95-5 81-10 75-12 60-14 50-22 50-25 40z"/><path fill="#ececfe" d="M1488 3448h288v-962h-288l32 35 27 40 24 50 20 60 15 65 11 71 6 75 3 85-3 85-6 75-11 71-15 65-20 60-24 50-27 40z"/><path fill="#f9f9ff" d="M1488 3448h288v-962h-288l38 40 35 50 27 50 24 60 19 65 12 66 9 75 2 75-2 75-9 75-12 66-19 65-24 60-27 50-35 50z"/><path fill="#fff9f9" d="M1488 3448h288v-962h-288l48 50 40 50 35 55 33 65 23 60 17 66 11 65 4 70-4 70-11 65-17 66-23 60-33 65-35 55-40 50z"/><path fill="#ffecec" d="M1488 3448h288v-461l-7 50-15 55-24 56-32 55-41 60-44 55-59 65zM1776 2942v5v-461h-288l66 65 59 65 44 55 41 60 32 56 24 55 14 50z"/><path fill="#fedfdf" d="M1488 3448h288v-245l-172 141zM1770 2726l6 5v-245h-288l116 104z"/><path fill="#fed2d2" d="M1488 3448h288v-182l-86 41-76 43-70 50zM1772 2666l4 2v-182h-288l56 48 70 50 76 44z"/><path fill="#fec6c6" d="M1489 3448h287v-146l-91 29-76 33-40 23-30 20-31 23zM1774 2631l2 1v-146h-287l19 18 31 23 30 20 40 23 76 33z"/><path fill="#feb9b9" d="M1489 3448h287v-122l-91 21-81 28-60 31-36 24zM1766 2606l10 2v-122h-287l19 18 26 18 35 21 30 14 76 27z"/><path fill="#fdacac" d="M1489 3448h287v-105l-101 18-81 24-55 26-31 20zM1743 2586l33 5v-105h-287l14 13 26 18 30 17 30 13 66 21z"/><path fill="#fd9f9f" d="M1489 3448h287v-92l-106 15-76 19-30 11-30 14-31 20zM1757 2576l19 2v-92h-287l14 13 31 20 55 24 76 19z"/><path fill="#fd9393" d="M1489 3448h287v-82l-111 13-76 16-30 10-30 14-26 16zM1752 2566l24 2v-82h-287l14 13 26 16 55 22 71 17z"/><path fill="#fd8686" d="M1490 3448h286v-74l-116 11-76 15-55 20-26 15zM1724 2556l52 4v-74h-286l13 13 15 9 51 22 61 14z"/><path fill="#fc7979" d="M1490 3448h286v-67l-111 9-76 12-35 9-25 10-26 15zM1736 2551l40 2v-67h-286l13 13 15 9 26 11 30 10 76 14z"/><path fill="#fc6c6c" d="M1490 3448h286v-62l-116 8-76 11-35 10-26 9-20 12zM1738 2546l38 2v-62h-286l13 12 15 9 46 17 76 14z"/><path fill="#fc6060" d="M1490 3448h286v-57l-131 8-71 11-51 15-20 11zM1726 2541l50 2v-57h-286l13 12 20 11 46 14 66 11z"/><path fill="#fc5353" d="M1491 3448h285v-53l-116 6-81 10-56 15-20 10zM1701 2536l75 3v-53h-285l12 12 10 6 46 15 55 10z"/><path fill="#fb4646" d="M1491 3448h285v-50l-131 7-76 9-30 7-26 10-10 5zM1668 2531l108 5v-50h-285l12 12 10 5 31 11 50 10z"/><path fill="#fb3939" d="M1491 3448h285v-47l-121 5-86 10-25 5-31 10-10 5zM1720 2531l56 2v-47h-285l12 12 10 5 26 9 25 6 55 7z"/><path fill="#fb2d2d" d="M1491 3448h285v-44l-131 5-71 7-30 6-26 8-15 7zM1663 2526l113 4v-44h-285l12 11 10 5 36 12 40 6z"/><path fill="#fb2020" d="M1491 3448h285v-42l-131 5-81 8-30 6-21 7-10 5zM1712 2526l64 2v-42h-285l12 11 10 5 41 12 70 8z"/><path fill="#fa1313" d="M1492 3448h284v-39l-121 3-91 8-30 6-21 6-10 5zM1639 2521l137 4v-39h-284l11 11 31 11 35 7z"/><path fill="#fa0606" d="M1492 3448h284v-37l-136 4-76 6-46 10-15 6zM1674 2521l102 3v-38h-284l11 11 36 12 60 8z"/><path fill="#e40000" d="M1492 3448h284v-36l-126 4-81 5-51 10-15 6zM1731 2521l45 1v-36h-284l11 11 15 6 46 9 71 6z"/><path fill="#0606f0" d="M1668 2440l108 4v-210h-244l7 116 8 35 9 20 15 15 23 10 25 5z"/><path fill="#1313f1" d="M1722 2440l54 2v-208h-241l4 77 5 44 7 30 13 22 17 13 30 10 39 6z"/><path fill="#2020f2" d="M1682 2435l94 4v-205h-238l3 65 5 46 8 33 10 20 15 15 25 11 29 6z"/><path fill="#2d2df3" d="M1746 2435l30 1v-202h-235l4 65 7 51 9 30 13 21 21 14 34 10 41 6z"/><path fill="#3939f3" d="M1717 2430l59 3v-199h-231l4 62 6 44 9 32 14 23 21 15 25 9 36 6z"/><path fill="#4646f4" d="M1707 2425l69 4v-195h-227l5 60 5 37 9 34 12 20 17 15 22 11 41 9z"/><path fill="#5353f5" d="M1709 2420l67 4v-190h-222l5 57 6 39 9 28 13 22 17 15 21 10 40 10z"/><path fill="#6060f6" d="M1720 2415l56 4v-185h-216l5 55 8 41 11 27 12 18 18 15 23 10 38 9z"/><path fill="#6c6cf6" d="M1740 2410l36 3v-179h-209l6 50 7 36 12 30 15 20 21 15 24 10 38 9z"/><path fill="#7979f7" d="M1775 2405l1-171h-201l8 50 9 36 13 25 17 20 24 15 29 10 45 9z"/><path fill="#8686f8" d="M1769 2395l7 1v-162h-190l8 46 10 32 13 23 18 20 23 15 27 10 40 9z"/><path fill="#9393f9" d="M1750 2380l26 4v-150h-177l8 35 11 30 12 21 15 18 20 15 25 12z"/><path fill="#9f9ff9" d="M1760 2365l16 3v-134h-159l7 26 11 25 15 24 14 16 21 14 20 10z"/><path fill="#acacfa" d="M1770 2345l6 1v-112h-134l18 40 26 30 34 23z"/><path fill="#b9b9fb" d="M1764 2309l12 5v-80h-97l16 25 19 20 22 16z"/><path fill="#c6c6fc" d="M1770 2259l6 4v-29h-36z"/></g><path transform="scale(.1)" fill="none" stroke="#2e2e2e" stroke-width="6" d="M428 3744l-3-95-5-65-9-39-5-11-10-14-20-12-37-9-53-6-105-3M425 3744l-3-105-6-56-10-39-14-20-11-9-15-6-35-8-60-6-90-3M423 3744l-4-95-6-60-9-35-7-15-8-10-23-15-40-10-52-5-93-4M420 3744l-4-87-6-58-9-39-8-16-8-10-22-15-35-10-52-7-95-4M416 3744l-4-90-6-51-10-39-15-25-22-15-38-12-60-7-80-4M412 3744l-4-85-7-52-10-37-17-26-23-16-35-11-60-8-75-4M408 3744l-5-80-7-50-12-40-17-25-22-15-34-11-55-9-75-4M402 3744l-6-80-7-45-13-40-15-22-25-17-32-11-53-9-70-5M396 3744l-6-70-9-51-12-34-18-25-25-18-35-11-45-8-65-6M388 3744l-7-68-9-47-12-30-18-25-26-19-32-11-48-10-55-5M378 3744l-7-60-10-45-13-30-17-24-22-16-33-14-45-11-50-6M366 3744l-7-50-10-40-13-30-19-25-21-17-28-13-36-10-51-9M351 3744l-10-49-10-31-15-30-15-19-20-16-30-15-32-10-38-8M329 3744l-8-33-10-27-13-25-17-22-20-17-20-12-25-11-35-10M298 3744l-17-43-25-36-32-26-43-20M250 3744l-14-23-15-19-19-18-21-15M471 3444l-11-11-6-15-6-25-5-45-4-135-2-246 2-246 4-135 5-45 6-25 6-15 11-11M471 3445l-11-12-5-10-7-25-5-45-5-130-2-256 2-256 5-130 5-45 7-25 5-10 11-11M471 3445l-11-12-7-15-5-20-6-45-6-120-2-266 2-266 6-120 6-45 5-20 7-15 11-12M471 3445l-12-12-10-25-5-30-5-40-5-140-2-231 2-231 5-140 5-40 5-30 10-25 12-12M471 3445l-12-12-10-25-11-65-5-130-3-246 3-246 5-130 11-65 10-25 12-12M471 3445l-12-12-11-25-6-25-5-40-7-145-2-231 2-231 7-145 5-40 6-25 11-25 12-12M471 3445l-12-12-11-25-8-35-5-40-7-135-2-231 2-231 7-135 5-40 8-35 11-25 12-12M471 3446l-12-13-10-20-10-35-6-45-7-145-3-221 3-221 7-145 6-45 10-35 10-20 12-13M471 3446l-13-13-14-30-7-30-7-50-7-135-3-221 3-221 7-135 7-50 7-30 14-30 13-13M471 3446l-13-13-14-30-9-35-7-40-8-145-3-216 3-216 8-145 7-40 9-35 14-30 13-13M471 3446l-16-18-12-25-10-35-8-50-8-125-4-226 4-226 8-125 8-50 10-35 12-25 16-18M471 3446l-17-18-14-30-10-35-7-40-6-55-5-80-4-221 4-221 5-80 6-55 7-40 10-35 14-30 17-18M471 3447l-17-19-16-30-10-35-10-50-6-55-5-80-4-211 4-211 5-80 6-55 10-50 10-35 16-30 17-19M471 3447l-18-19-16-30-13-40-10-50-7-55-5-75-5-211 5-211 5-75 7-55 10-50 13-40 16-30 18-19M471 3447l-18-19-20-35-14-40-10-50-9-65-6-75-5-196 5-196 6-75 9-65 10-50 14-40 20-35 18-19M471 3447l-22-24-20-35-15-40-12-50-9-65-7-80-6-186 6-185 7-81 9-65 12-50 15-40 20-35 22-24M471 3447l-23-24-24-40-16-40-14-55-11-65-8-75-5-91-1-90 1-90 5-90 8-76 11-65 14-55 16-40 24-40 23-24M471 3448l-27-30-25-40-20-45-16-55-13-65-8-70-6-86-2-90 2-90 6-85 8-71 13-65 16-55 20-45 25-40 27-29M471 3448l-28-30-31-45-24-50-19-55-15-65-11-70-7-86-3-80 3-80 7-85 11-71 15-65 19-55 24-50 31-45 28-30M471 3448l-37-40-36-50-24-45-25-60-19-65-13-66-9-75-3-80 3-80 9-75 13-66 19-65 25-60 24-45 36-50 37-40M471 3448l-48-50-39-50-36-55-33-65-23-60-18-71-10-65-3-65 3-65 10-65 18-71 23-60 33-65 36-55 39-50 48-50M471 3448l-65-65-63-70-52-65-39-60-32-61-21-55-12-50-4-55 4-55 12-50 21-55 32-61 39-60 52-65 63-70 65-65M471 3448l-115-103-175-144M181 2733l175-144 115-103M471 3448l-55-47-70-50-80-46-85-40M181 2669l85-40 80-46 70-50 55-47M471 3448l-25-22-35-26-60-35-80-35-90-28M181 2632l90-28 80-35 60-35 35-26 25-22M470 3448l-19-17-35-25-60-31-40-15-45-14-90-20M181 2608l90-20 45-14 40-15 60-31 35-24 19-18M470 3448l-19-17-30-20-30-15-35-15-75-21-100-17M181 2591l100-17 75-21 35-14 30-16 30-20 19-17M470 3448l-14-13-30-20-30-14-30-11-80-20-105-14M181 2578l105-14 80-20 30-11 30-14 30-20 14-13M470 3448l-14-13-25-16-30-13-30-11-75-16-115-13M181 2568l115-13 75-16 30-11 30-13 25-16 14-13M470 3448l-14-13-25-15-55-20-80-15-115-11M181 2560l115-11 80-15 55-20 25-15 14-13M469 3448l-13-12-25-15-30-11-30-8-75-12-115-10M181 2554l115-10 75-12 30-8 30-11 25-15 13-12M469 3448l-13-12-20-11-25-10-35-9-75-12-120-8M181 2548l120-8 75-11 35-10 25-10 20-11 13-12M469 3448l-13-12-20-11-50-15-75-11-130-8M181 2543l130-8 75-11 50-15 20-11 13-12M469 3448l-13-12-20-10-55-15-80-10-120-6M181 2539l120-6 80-10 55-15 20-10 13-12M468 3448l-12-12-10-5-25-10-30-7-80-9-130-7M181 2536l130-6 80-10 30-7 25-10 10-5 12-12M468 3448l-12-11-10-6-30-10-25-5-85-9-125-6M181 2533l125-5 85-10 25-5 30-10 10-6 12-11M468 3448l-12-11-15-7-25-8-30-6-70-7-135-5M181 2530l135-5 70-7 30-6 25-8 15-7 12-11M468 3448l-12-11-10-5-20-7-30-6-85-8-130-5M181 2528l130-5 85-8 30-6 20-7 10-5 12-11M468 3448l-12-11-15-7-45-10-90-8-125-3M181 2525l125-3 90-8 45-10 15-7 12-11M467 3448l-11-11-15-6-45-10-75-6-140-4M181 2524l140-5 75-6 45-10 15-6 11-11M467 3448l-11-10-15-7-50-10-80-5-130-4M181 2522l130-4 80-5 50-10 15-6 11-11M181 2444l105-3 55-6 35-9 19-11 14-20 8-30 6-50 4-81M181 2442l90-3 60-6 36-8 24-14 15-21 10-35 5-51 3-70M181 2439l95-4 50-5 40-10 20-12 15-20 10-31 6-42 5-81M181 2436l85-4 55-5 35-9 25-13 15-20 11-30 7-51 4-70M181 2433l75-4 60-6 35-9 25-14 16-20 10-30 8-51 5-65M181 2429l71-4 54-6 36-9 28-15 16-20 11-30 9-51 4-60M181 2425l69-5 51-6 35-10 26-14 17-20 12-29 9-47 5-60M181 2419l65-4 55-9 34-11 21-13 18-22 12-30 8-41 6-55M181 2413l60-5 47-8 33-10 25-15 18-20 12-26 10-42 7-53M181 2405l55-5 50-10 28-10 23-15 18-20 12-25 10-36 7-50M181 2396l50-6 44-10 26-10 24-15 18-20 13-26 10-33 8-42M181 2384l45-7 35-9 30-13 20-14 16-16 14-25 10-27 9-39M181 2368l40-8 25-8 25-11 20-13 15-15 15-21 10-23 11-35M181 2347l53-17 19-10 18-13 15-15 13-18 18-40M181 2315l35-15 25-17 20-20 20-29M181 2265l20-14 18-17M1484 3448l-11 11-15 5-35 7-45 4-155 4-241 2-245-2-156-4-45-4-35-7-15-5-11-11M1484 3448l-11 11-15 6-30 6-50 5-145 5-256 1-250-1-146-5-50-5-30-6-15-6-11-11M1484 3448l-11 11-15 6-30 7-45 5-140 5-261 1-265-1-141-5-45-5-30-7-15-6-11-11M1485 3448l-12 11-15 7-25 6-50 6-125 5-276 2-275-2-131-5-50-6-25-6-15-7-11-11M1485 3448l-12 11-30 11-75 10-145 5-241 2-240-2-151-5-75-10-30-11-12-11M1485 3448l-12 12-30 11-70 10-140 6-251 2-255-2-141-6-70-10-30-11-12-12M1485 3448l-12 12-25 10-30 7-45 5-155 7-241 2-235-2-156-7-45-5-30-7-25-10-12-12M1485 3448l-12 12-25 11-40 9-45 5-140 6-241 3-235-2-146-7-45-5-40-8-30-12-12-12M1486 3448l-13 12-25 11-40 10-45 6-155 7-226 3-230-3-156-7-45-6-40-10-25-11-12-12M1486 3448l-13 12-35 15-30 7-55 8-140 7-236 3-230-3-141-7-55-8-30-7-35-15-12-12M1486 3448l-13 13-35 15-40 10-40 5-150 10-226 2-230-2-151-10-40-5-40-10-35-15-13-13M1486 3448l-13 13-35 16-35 10-55 8-150 10-216 3-215-3-85-4-71-6-55-8-35-10-35-16-13-13M1486 3448l-13 13-30 15-35 11-55 10-75 8-80 4-216 4-220-4-80-4-76-8-55-10-35-11-30-15-13-13M1486 3448l-23 19-30 15-35 10-55 10-70 8-80 5-211 4-210-4-80-5-76-8-55-10-35-10-30-15-23-19M1487 3448l-24 20-35 17-40 12-50 10-70 9-75 5-211 5-210-5-80-5-71-9-50-10-40-12-35-17-23-20M1487 3448l-14 14-15 10-30 15-45 15-60 13-60 8-91 7-190 5-195-5-90-7-61-8-60-13-45-15-30-15-15-10-14-14M1487 3448l-29 24-35 19-45 17-55 13-70 11-81 7-95 5-95 1-95-1-95-4-85-8-66-10-60-14-45-17-35-19-29-24M1487 3448l-14 14-20 14-35 20-50 20-55 15-65 12-81 9-85 5-100 3-100-2-85-6-70-7-75-13-61-16-50-20-35-20-20-14-14-14M1487 3448l-14 14-25 19-45 26-55 23-55 16-70 15-76 10-80 6-85 2-85-2-85-6-75-10-70-15-56-16-55-23-45-26-25-19-14-14M1488 3448l-45 38-50 31-50 25-65 23-65 17-76 13-75 8-80 3-85-3-75-8-75-13-65-17-66-23-50-25-50-31-44-38M1488 3448l-50 44-55 39-60 34-70 32-70 23-66 15-70 10-70 3-65-3-70-10-65-15-70-23-71-32-60-34-55-39-50-44M1488 3448l-70 64-75 60-70 49-60 35-61 29-60 21-55 11-55 5-60-5-55-11-60-21-60-29-60-35-71-49-75-60-70-64M752 3744l-175-190-106-105M1488 3449l-105 105-176 190M674 3744l-45-90-47-75-54-70-57-60M1488 3449l-57 60-54 70-47 75-45 90M632 3744l-33-100-36-75-42-65-25-31-25-24M1488 3449l-25 24-25 31-42 65-36 75-33 100M605 3744l-22-95-29-80-20-40-19-30-20-26-24-24M1488 3449l-24 24-19 26-19 30-21 40-28 80-23 95M586 3744l-18-100-24-80-15-35-20-35-19-26-19-19M1488 3449l-19 19-19 26-20 35-15 35-24 80-17 100M571 3744l-16-115-20-75-12-30-19-35-14-21-19-18M1488 3450l-19 18-14 21-19 35-12 30-19 75-17 115M560 3744l-12-110-9-45-10-40-11-30-15-30-13-21-19-18M1488 3450l-18 18-14 21-15 30-11 30-10 40-8 45-13 110M551 3744l-11-120-15-75-11-35-15-31-14-20-14-13M1488 3450l-14 13-14 20-14 31-12 35-14 75-12 120M544 3744l-10-120-15-85-9-30-12-26-13-20-14-13M1488 3450l-14 13-13 20-11 26-10 30-15 85-10 120M538 3744l-8-120-12-80-8-30-10-25-11-21-18-18M1488 3450l-17 18-11 21-10 25-8 30-13 80-8 120M533 3744l-8-130-11-75-9-35-11-26-10-15-13-12M1488 3451l-13 12-10 15-10 26-10 35-11 75-8 130M529 3744l-6-115-10-85-8-35-9-26-12-20-13-12M1488 3451l-13 12-11 20-10 26-8 35-9 85-6 115M525 3744l-6-130-10-80-5-25-11-31-9-15-13-12M1488 3451l-13 12-8 15-11 31-6 25-9 80-7 130M521 3744l-4-115-9-90-4-25-10-31-10-20-13-12M1488 3451l-12 12-11 20-9 31-5 25-9 90-4 115M519 3744l-5-130-9-85-6-30-10-26-6-10-12-11M1488 3452l-12 11-6 10-9 26-7 30-8 85-5 130M516 3744l-4-125-8-90-6-30-9-26-6-10-12-11M1488 3452l-12 11-6 10-8 26-7 30-7 90-5 125M514 3744l-5-135-6-75-5-30-9-31-6-10-12-11M1488 3452l-12 11-5 10-10 31-5 30-6 75-4 135M511 3744l-3-135-8-90-12-46-5-10-12-11M1488 3452l-11 11-6 10-12 46-7 90-4 135M510 3744l-5-150-5-70-6-30-6-21-6-10-11-11M1488 3452l-11 11-6 10-6 21-5 30-6 70-4 150M932 3158l-45-12-37-19-30-25-23-34-16-41-7-50 3-50 13-45 17-33 23-27 32-23 35-14 45-10 45-2 45 4 45 13 33 17 27 23 21 27 14 32 11 42 2 41-4 40-11 40-16 30-20 25-24 20-28 15-30 11-40 7-40 1zM912 3243l-40-5-35-9-30-10-25-12-21-14-21-20-15-20-13-26-12-35-9-40-5-45-1-50 2-45 7-45 9-35 14-35 25-37 33-29 42-20 60-15 80-8 85 2 68 11 32 10 25 10 37 25 29 33 20 43 15 55 6 70-2 75-11 65-18 50-20 31-25 25-31 19-35 14-46 12-54 7-60 1zM907 3288l-90-11-36-9-34-13-25-15-21-17-19-25-14-25-13-40-10-51-5-60-2-65 3-65 7-55 10-45 15-41 14-22 14-18 17-15 19-12 25-11 25-9 66-13 104-7 110 3 45 5 45 8 36 11 24 10 17 10 19 15 15 16 13 19 12 25 8 26 13 60 7 95-3 100-11 75-9 33-12 28-19 30-24 24-30 18-41 15-55 11-63 7-72 2zM972 3318l-125-5-50-7-45-9-35-12-25-14-22-18-19-25-16-35-13-50-8-61-4-70-1-85 5-80 9-60 13-51 12-25 13-20 16-16 18-14 18-10 26-10 68-15 50-5 65-4 135 1 105 10 41 8 32 10 38 21 17 14 13 16 11 19 11 25 14 61 10 100v125l-9 100-7 38-10 33-18 35-21 25-28 20-33 14-45 12-61 8-70 5zM847 3333l-58-5-42-7-35-8-30-12-21-13-21-20-14-20-12-30-13-50-8-76-4-90 1-100 4-80 8-61 13-50 16-33 13-17 18-16 20-12 25-10 65-15 90-8 150-3 135 7 51 6 35 7 30 10 28 14 17 13 15 16 10 16 11 25 15 60 9 90 2 136-6 125-6 46-8 35-10 30-12 24-20 23-25 18-36 15-49 11-71 8-85 4-100 1zM842 3348l-106-10-44-10-28-10-23-13-17-17-14-20-13-30-12-55-8-81-3-105 1-115 5-85 8-61 11-45 17-35 12-15 18-15 18-10 27-10 71-14 95-7 170-2 145 7 51 6 35 7 30 10 25 13 15 12 15 17 10 18 10 26 12 62 8 91 2 155-6 136-6 47-7 33-10 30-13 25-20 23-28 17-37 13-45 9-71 7-90 4h-110zM807 3358l-100-10-40-10-25-10-21-13-15-17-15-25-8-25-12-62-6-84-3-125 2-125 5-81 7-57 11-43 19-35 13-15 17-12 21-10 27-8 78-12 115-6 175-1 146 7 45 6 35 7 30 9 25 14 15 14 12 17 10 20 8 25 11 70 7 111 1 165-8 136-6 45-6 30-9 25-14 25-20 20-27 15-39 12-53 8-78 6-110 3h-115zM817 3368l-115-9-35-7-29-9-22-11-16-14-14-20-10-25-12-55-8-87-3-124 1-135 4-95 7-71 11-47 15-32 14-16 16-12 20-9 26-8 71-11 99-6 195-2 166 6 50 5 41 7 32 10 22 11 15 13 12 16 10 20 8 25 10 61 6 100 2 180-5 151-6 50-7 40-10 30-10 19-20 21-27 15-33 10-55 9-86 6-95 3h-125zM942 3378l-180-5-95-10-36-9-22-11-19-15-14-20-8-20-7-25-9-65-5-101-2-130 2-130 5-101 9-65 7-25 8-20 10-15 10-11 15-11 20-9 56-12 85-8 200-4 206 4 105 9 31 7 29 11 15 9 15 15 17 30 12 55 8 81 4 180-4 191-9 100-8 35-10 25-15 21-20 16-30 12-35 8-55 6-71 4zM862 3383l-145-6-45-5-41-8-25-9-18-12-16-20-10-20-11-45-8-85-3-126v-160l2-105 6-81 8-50 6-20 10-20 11-15 13-11 18-9 22-7 66-11 105-6 225-2 186 5 55 5 39 6 31 9 20 10 13 11 12 15 9 20 6 20 10 65 5 91 2 200-4 171-10 90-8 33-10 22-17 20-23 14-35 11-40 6-65 6-101 3zM857 3388l-142-5-52-5-32-5-29-10-18-10-15-15-13-25-11-50-7-85-4-136v-170l3-106 6-80 9-50 14-35 12-15 14-10 19-9 23-6 68-9 95-5 235-2 191 5 55 4 40 5 26 7 24 10 13 10 12 14 8 16 7 21 10 64 5 87 2 214-4 186-9 90-9 35-10 20-15 18-21 12-32 10-47 7-65 5-101 3zM917 3393l-190-4-96-10-25-6-25-11-15-14-12-20-13-46-7-69-4-111-1-170 2-139 5-99 8-58 12-36 10-14 10-10 17-10 18-7 51-9 90-6 230-3 231 3 100 8 35 7 25 10 15 11 9 11 9 15 7 20 9 60 5 80 3 211-3 201-9 104-5 26-10 26-14 19-21 14-30 10-34 6-58 5-84 3zM727 3393l-91-7-30-6-20-7-16-10-14-15-10-19-7-26-8-65-4-111-2-175 2-165 4-91 5-48 10-42 13-25 12-11 15-9 20-7 30-6 90-7 131-3h240l166 4 80 10 30 9 17 10 13 14 8 16 12 45 6 75 4 126v240l-5 151-10 75-9 25-9 15-18 15-24 11-45 8-55 5-251 5zM772 3398l-111-5-41-5-29-6-20-9-15-13-10-15-8-22-8-55-5-90-3-171 1-190 3-106 5-62 9-43 11-26 10-11 15-10 20-8 24-5 67-7 115-4 270-1 191 5 85 8 29 9 18 10 10 10 9 15 7 20 5 25 7 75 3 111 1 225-4 176-4 55-6 35-5 20-10 21-15 16-25 12-30 7-50 5-201 6zM475 2486l11-11 20-7 30-5 45-4 156-4 245-2 241 2 155 4 45 4 30 5 20 7 11 11M475 2486l11-11 20-7 30-6 45-4 146-4 250-2 251 1 150 5 45 4 30 6 20 7 11 11M475 2486l11-11 15-6 30-7 45-5 141-5 260-1 266 1 140 5 45 5 30 7 15 6 11 11M475 2486l11-11 15-7 30-6 45-6 131-5 275-2 271 2 130 5 45 6 30 6 15 7 12 11M474 2486l12-11 30-11 35-6 40-4 151-5 240-2 241 2 145 5 40 4 35 6 30 11 12 11M474 2486l12-12 30-11 70-10 141-6 250-2 251 2 140 6 45 4 30 6 30 11 12 12M474 2486l12-12 25-10 30-7 45-5 156-7 235-2 241 2 155 7 45 5 30 7 25 10 12 12M474 2486l12-12 30-12 40-8 45-5 141-6 235-3 236 2 145 7 45 5 40 8 30 12 12 12M474 2486l12-12 25-11 40-10 45-6 156-7 225-3 231 3 155 7 45 6 40 10 25 11 13 12M474 2486l12-12 35-15 30-7 55-8 141-7 235-3 231 3 140 7 55 8 30 7 35 15 13 12M473 2486l13-13 35-15 40-10 40-5 151-9 225-3 231 3 150 9 40 5 40 10 35 15 13 13M473 2486l13-13 35-16 35-10 55-8 151-10 215-3 216 3 85 4 70 6 55 8 35 10 35 16 13 13M473 2486l13-13 30-15 35-11 55-10 136-11 235-5 236 5 70 4 70 7 55 10 35 11 30 15 13 13M473 2486l23-19 30-14 35-11 55-10 76-8 80-5 205-4 211 4 80 5 75 8 55 10 35 11 30 14 23 19M473 2486l23-20 35-17 40-12 50-10 71-9 80-5 210-5 206 5 80 5 70 9 50 10 40 12 35 17 24 20M472 2486l14-14 15-9 30-16 45-15 50-11 61-8 80-7 95-5 115-1 115 1 101 5 80 7 60 8 50 11 45 15 30 16 15 9 14 14M472 2486l29-24 35-19 45-16 60-15 66-10 85-8 185-5 185 5 86 8 70 10 60 15 45 16 35 19 29 24M472 2486l14-14 20-14 35-20 50-20 61-16 60-11 85-9 85-6 95-2 95 2 90 6 86 9 60 11 60 16 50 20 35 20 20 14 14 14M472 2486l14-14 25-19 45-26 50-21 61-18 70-14 75-10 80-7 85-2 85 2 85 7 76 10 70 14 60 18 50 21 45 26 25 19 14 14M472 2486l44-38 50-31 50-25 66-23 65-17 80-14 75-7 80-3 80 3 75 8 76 13 65 17 65 23 50 25 50 31 45 38M471 2486l50-44 55-39 65-37 66-29 65-22 70-16 65-9 70-4 70 3 70 10 71 16 65 22 65 29 65 37 55 39 50 44M471 2486l100-89 101-74 50-31 40-22 40-19 46-17M1111 2234l46 17 41 19 40 22 50 31 100 74 100 89M471 2486l101-101 139-151M1248 2234l139 151 101 101M471 2485l49-50 48-60 47-71 39-70M1306 2234l38 70 47 71 48 60 49 50M471 2485l42-45 42-60 34-65 30-81M1340 2234l31 81 33 65 42 60 42 45M471 2485l36-40 21-30 17-30 29-70 22-81M1364 2234l22 81 29 70 16 30 21 30 36 40M471 2485l19-19 19-26 30-55 22-65 18-86M1380 2234l19 86 22 65 29 55 19 26 19 19M471 2484l19-18 14-21 26-50 19-65 17-96M1393 2234l17 96 20 65 25 50 14 21 19 18M471 2484l19-18 10-16 14-25 10-25 11-35 8-40 13-91M1403 2234l13 91 9 40 10 35 11 25 13 25 11 16 18 18M471 2484l14-13 14-21 15-30 8-25 16-70 10-91M1411 2234l11 91 15 70 9 25 14 30 14 21 14 13M471 2484l14-13 13-21 12-25 8-25 14-75 9-91M1418 2234l9 91 14 75 9 25 11 25 13 21 14 13M471 2484l14-13 10-16 9-20 10-30 14-75 8-96M1424 2234l8 96 13 75 10 30 10 20 10 16 13 13M471 2483l13-12 10-16 11-25 8-30 11-70 7-96M1428 2234l7 96 11 70 9 30 10 25 10 16 13 12M471 2483l13-12 9-16 16-45 11-70 7-106M1432 2234l8 106 10 70 16 45 9 16 13 12M471 2483l13-12 9-16 8-20 7-30 10-75 5-96M1436 2234l5 96 10 75 8 30 7 20 9 16 13 12M471 2483l13-12 6-11 8-20 7-25 9-70 6-111M1439 2234l6 111 10 70 6 25 8 20 7 11 12 12M471 2483l12-12 7-11 9-25 5-25 9-75 4-101M1442 2234l5 101 8 75 6 25 9 25 6 11 12 12M471 2482l12-11 6-11 9-25 5-25 7-65 5-111M1444 2234l5 111 7 65 5 25 9 25 6 11 12 11M471 2482l12-11 6-11 11-40 8-75 5-111M1447 2234l4 111 8 75 11 40 6 11 12 11M471 2482l12-11 5-11 11-40 8-80 4-106M1449 2234l3 106 8 80 11 40 6 11 11 11M471 2482l11-11 6-11 11-45 6-65 4-116M1450 2234l4 116 6 65 11 45 6 11 11 11M1776 3490l-104 4-52 5-36 8-20 13-8 9-7 14-9 41-6 70-3 90M1776 3492l-91 4-61 5-35 9-22 14-14 20-9 35-6 55-4 110M1776 3495l-90 4-56 5-36 10-15 7-10 9-10 14-5 12-9 38-5 65-3 85M1776 3498l-91 4-54 7-35 10-22 15-15 24-10 41-5 50-4 95M1776 3501l-86 5-55 7-35 11-21 15-15 23-10 37-7 55-4 90M1776 3505l-81 5-55 8-34 11-22 15-15 24-10 36-7 55-5 85M1776 3510l-76 5-55 8-31 11-15 9-10 9-15 24-10 35-7 53-5 80M1776 3515l-71 5-50 9-36 12-22 18-8 10-10 19-10 36-7 50-5 70M1776 3521l-71 7-45 9-31 12-25 19-15 23-11 33-9 54-5 66M1776 3529l-61 7-45 9-33 14-23 18-15 22-13 35-8 45-7 65M1776 3538l-56 8-40 10-30 13-25 20-16 23-12 32-9 40-7 60M1776 3550l-49 9-36 10-31 15-20 17-17 23-14 33-10 42-6 45M1776 3566l-40 9-36 12-25 14-20 18-15 21-14 29-10 35-7 40M1776 3588l-35 10-24 11-22 13-19 17-15 20-11 21-10 27-10 37M1776 3620l-40 19-31 25-25 34-19 46M1776 3671l-20 14-20 19-15 20-12 20M1488 2490l11 11 6 15 6 25 5 45 5 135 1 246-1 246-5 135-5 45-6 25-6 15-11 11M1488 2490l11 11 7 15 6 25 5 45 5 130 1 251-1 251-5 130-5 45-6 25-7 15-11 12M1488 2489l12 12 6 15 6 25 6 40 5 120 2 266-2 266-5 120-6 40-6 25-6 15-12 12M1488 2489l12 12 10 25 6 30 4 40 5 140 2 231-2 231-5 140-4 40-6 30-10 25-12 12M1488 2489l12 12 10 25 7 30 4 40 6 130 2 241-2 241-6 130-4 40-7 30-10 25-12 12M1488 2489l12 12 11 25 6 25 5 40 7 145 2 231-2 231-7 145-5 40-6 25-11 25-12 12M1488 2489l13 12 11 25 8 40 5 40 6 135 2 226-2 226-6 135-5 40-8 40-11 25-13 12M1488 2488l13 13 11 25 9 35 5 40 7 125 3 241-3 241-7 125-5 40-9 35-11 25-13 13M1488 2488l13 13 10 20 10 35 7 40 8 140 3 231-3 231-8 140-7 40-10 35-10 20-13 13M1488 2488l13 13 15 30 9 35 6 40 9 145 2 216-2 216-9 145-6 40-9 35-15 30-13 13M1488 2488l13 13 16 30 10 35 7 50 9 130 3 221-3 221-9 130-7 50-10 35-16 30-13 13M1488 2488l17 18 13 25 9 30 9 50 6 55 5 80 4 221-4 221-5 80-6 55-9 50-9 30-13 25-17 18M1488 2487l17 19 16 30 11 35 9 50 6 55 5 80 4 211-4 211-5 80-6 55-9 50-11 35-16 30-17 19M1488 2487l18 19 16 30 14 40 9 50 7 55 6 80 4 206-4 206-6 80-7 55-9 50-14 40-16 30-18 19M1488 2487l18 19 20 35 15 45 10 45 9 70 5 76 5 190-5 191-5 75-9 70-10 45-15 45-20 35-18 19M1488 2487l22 24 20 35 16 45 11 45 9 60 7 75 4 91 2 105-2 105-4 91-7 75-9 60-11 45-16 45-20 35-22 24M1488 2487l23 24 24 40 16 40 15 55 10 60 7 71 6 85 2 105-2 105-6 86-7 70-10 60-15 55-16 40-24 40-23 24M1488 2487l27 29 25 40 22 50 14 50 12 60 10 76 5 80 3 95-3 95-5 81-10 75-12 60-14 50-22 50-25 40-27 30M1488 2486l28 30 31 45 24 50 20 60 15 65 11 71 6 75 3 85-3 85-6 75-11 71-15 65-20 60-24 50-31 45-28 30M1488 2486l38 40 35 50 27 50 24 60 19 65 12 66 9 75 2 75-2 75-9 75-12 66-19 65-24 60-27 50-35 50-38 40M1488 2486l44 45 44 55 35 55 33 65 23 60 17 66 11 65 4 70-4 70-11 65-17 66-23 60-33 65-35 55-44 55-44 45M1776 2987l-7 50-15 55-24 56-32 55-41 60-44 55-59 65-66 65M1488 2486l66 65 59 65 44 55 41 60 32 56 24 55 15 55 7 50M1776 3203l-172 141-116 104M1488 2486l116 104 172 141M1776 3266l-86 41-76 43-70 50-56 48M1488 2486l56 48 70 50 76 44 86 40M1776 3302l-91 29-76 33-40 23-30 20-31 23-19 18M1489 2486l19 18 31 23 30 20 40 23 76 33 91 29M1776 3326l-91 21-81 28-60 31-36 24-19 18M1489 2486l19 18 36 24 60 32 81 27 91 21M1776 3343l-101 18-81 24-55 26-31 20-19 17M1489 2486l19 17 31 20 55 26 81 24 101 18M1776 3356l-106 15-76 19-30 11-30 14-31 20-14 13M1489 2486l14 13 31 20 30 14 30 11 76 19 106 15M1776 3366l-111 13-76 16-30 10-30 14-26 16-14 13M1489 2486l14 13 26 16 30 14 30 10 76 16 111 13M1776 3374l-116 11-76 15-55 20-26 15-13 13M1490 2486l13 13 26 15 55 20 76 15 116 11M1776 3381l-111 9-76 12-35 9-25 10-26 15-13 12M1490 2486l13 13 26 14 25 10 35 9 76 13 111 8M1776 3386l-116 8-76 11-35 10-26 9-20 12-13 12M1490 2486l13 12 20 12 26 9 35 10 76 11 116 8M1776 3391l-131 8-71 11-51 15-20 11-13 12M1490 2486l13 12 20 11 51 15 71 11 131 8M1776 3395l-116 6-81 10-56 15-20 10-12 12M1491 2486l12 12 20 10 56 16 81 9 116 6M1776 3398l-131 7-76 9-30 7-26 10-10 5-12 12M1491 2486l12 12 10 5 26 10 30 7 76 9 131 7M1776 3401l-121 5-86 10-25 5-31 10-10 5-12 12M1491 2486l12 12 10 5 31 10 25 6 86 9 121 5M1776 3404l-131 5-71 7-30 6-26 8-15 7-12 11M1491 2486l12 11 15 8 26 7 30 6 71 7 131 5M1776 3406l-131 5-81 8-30 6-21 7-10 5-12 11M1491 2486l12 11 10 5 21 7 30 6 81 8 131 5M1776 3409l-121 3-91 8-30 6-21 6-10 5-11 11M1492 2486l11 11 10 5 21 6 30 6 91 8 121 3M1776 3411l-136 4-76 6-46 10-15 6-11 11M1492 2486l11 11 15 6 46 10 76 6 136 5M1776 3412l-126 4-81 5-51 10-15 6-11 11M1492 2486l11 11 15 6 51 10 81 6 126 3M1532 2234l4 81 6 50 9 30 14 20 19 12 35 8 51 5 106 4M1535 2234l4 77 5 44 10 36 15 21 24 13 37 8 60 6 86 3M1538 2234l4 81 7 44 10 31 15 19 20 12 39 9 49 5 94 4M1541 2234l4 70 8 51 10 30 16 20 20 12 36 9 55 6 86 4M1545 2234l4 65 8 51 11 30 16 20 25 14 36 9 55 6 76 4M1549 2234l5 63 8 48 11 30 16 20 25 14 36 9 55 7 71 4M1554 2234l5 60 10 50 11 26 17 20 27 15 36 9 49 6 67 4M1560 2234l5 55 9 43 11 28 19 23 20 12 36 11 50 8 66 5M1567 2234l7 58 10 38 11 25 18 20 25 15 33 10 44 7 61 6M1575 2234l8 50 9 36 13 25 17 20 24 15 29 10 45 9 56 6M1586 2234l8 46 10 32 13 23 18 20 23 15 27 10 46 10 45 6M1599 2234l10 40 10 29 14 22 17 18 20 13 30 12 31 8 45 8M1617 2234l9 30 11 25 13 20 15 16 20 14 22 11 31 10 38 8M1642 2234l18 40 15 20 15 14 36 22 50 16M1679 2234l16 25 25 25 26 17 30 13M1740 2234l16 15 20 14"/><path d="M18.10 248.50H177.60" stroke="#4a4a4a" stroke-width="0.8"/><path d="M18.10 344.50H177.60" stroke="#4a4a4a" stroke-width="0.8"/><path d="M47.50 223.40V374.40" stroke="#4a4a4a" stroke-width="0.8"/><path d="M148.50 223.40V374.40" stroke="#4a4a4a" stroke-width="0.8"/><ellipse cx="97.96" cy="296.70" rx="71.91" ry="68.08" fill="none" stroke="#000" stroke-width="1.5"/><rect x="84.56" y="225.29" width="26.58" height="9.44" fill="none" stroke="#6a2cb8" stroke-width="1"/><rect x="163.64" y="282.79" width="10.23" height="24.29" fill="none" stroke="#6a2cb8" stroke-width="1"/></g><path d="M18.10 374.40v2.3M24.75 374.40v1.3M31.39 374.40v2.3M38.04 374.40v1.3M44.68 374.40v2.3M51.33 374.40v1.3M57.98 374.40v2.3M64.62 374.40v1.3M71.27 374.40v2.3M77.91 374.40v1.3M84.56 374.40v2.3M91.20 374.40v1.3M97.85 374.40v2.3M104.50 374.40v1.3M111.14 374.40v2.3M117.79 374.40v1.3M124.43 374.40v2.3M131.08 374.40v1.3M137.72 374.40v2.3M144.37 374.40v1.3M151.02 374.40v2.3M157.66 374.40v1.3M164.31 374.40v2.3M170.95 374.40v1.3M177.60 374.40v2.3M18.10 374.40h-2.3M18.10 368.11h-1.3M18.10 361.82h-2.3M18.10 355.52h-1.3M18.10 349.23h-2.3M18.10 342.94h-1.3M18.10 336.65h-2.3M18.10 330.36h-1.3M18.10 324.07h-2.3M18.10 317.77h-1.3M18.10 311.48h-2.3M18.10 305.19h-1.3M18.10 298.90h-2.3M18.10 292.61h-1.3M18.10 286.32h-2.3M18.10 280.02h-1.3M18.10 273.73h-2.3M18.10 267.44h-1.3M18.10 261.15h-2.3M18.10 254.86h-1.3M18.10 248.57h-2.3M18.10 242.28h-1.3M18.10 235.98h-2.3M18.10 229.69h-1.3M18.10 223.40h-2.3" stroke="#444" stroke-width=".8" fill="none"/><rect x="18.10" y="223.40" width="159.50" height="151.00" fill="none" stroke="#999" stroke-width=".8"/><text x="15.58" y="384.40" font-size="6.90" textLength="5.03" lengthAdjust="spacingAndGlyphs">-3</text><text x="28.88" y="384.40" font-size="6.90" textLength="5.03" lengthAdjust="spacingAndGlyphs">-2</text><text x="42.17" y="384.40" font-size="6.90" textLength="5.03" lengthAdjust="spacingAndGlyphs">-1</text><text x="56.40" y="384.40" font-size="6.90" textLength="3.15" lengthAdjust="spacingAndGlyphs">0</text><text x="69.69" y="384.40" font-size="6.90" textLength="3.15" lengthAdjust="spacingAndGlyphs">1</text><text x="82.98" y="384.40" font-size="6.90" textLength="3.15" lengthAdjust="spacingAndGlyphs">2</text><text x="96.28" y="384.40" font-size="6.90" textLength="3.15" lengthAdjust="spacingAndGlyphs">3</text><text x="109.57" y="384.40" font-size="6.90" textLength="3.15" lengthAdjust="spacingAndGlyphs">4</text><text x="122.86" y="384.40" font-size="6.90" textLength="3.15" lengthAdjust="spacingAndGlyphs">5</text><text x="136.15" y="384.40" font-size="6.90" textLength="3.15" lengthAdjust="spacingAndGlyphs">6</text><text x="149.44" y="384.40" font-size="6.90" textLength="3.15" lengthAdjust="spacingAndGlyphs">7</text><text x="162.73" y="384.40" font-size="6.90" textLength="3.15" lengthAdjust="spacingAndGlyphs">8</text><text x="176.03" y="384.40" font-size="6.90" textLength="3.15" lengthAdjust="spacingAndGlyphs">9</text><text x="6.02" y="376.50" font-size="6.90" textLength="8.18" lengthAdjust="spacingAndGlyphs">-10</text><text x="9.17" y="363.92" font-size="6.90" textLength="5.03" lengthAdjust="spacingAndGlyphs">-9</text><text x="9.17" y="351.33" font-size="6.90" textLength="5.03" lengthAdjust="spacingAndGlyphs">-8</text><text x="9.17" y="338.75" font-size="6.90" textLength="5.03" lengthAdjust="spacingAndGlyphs">-7</text><text x="9.17" y="326.17" font-size="6.90" textLength="5.03" lengthAdjust="spacingAndGlyphs">-6</text><text x="9.17" y="313.58" font-size="6.90" textLength="5.03" lengthAdjust="spacingAndGlyphs">-5</text><text x="9.17" y="301.00" font-size="6.90" textLength="5.03" lengthAdjust="spacingAndGlyphs">-4</text><text x="9.17" y="288.42" font-size="6.90" textLength="5.03" lengthAdjust="spacingAndGlyphs">-3</text><text x="9.17" y="275.83" font-size="6.90" textLength="5.03" lengthAdjust="spacingAndGlyphs">-2</text><text x="9.17" y="263.25" font-size="6.90" textLength="5.03" lengthAdjust="spacingAndGlyphs">-1</text><text x="11.05" y="250.67" font-size="6.90" textLength="3.15" lengthAdjust="spacingAndGlyphs">0</text><text x="11.05" y="238.08" font-size="6.90" textLength="3.15" lengthAdjust="spacingAndGlyphs">1</text><text x="11.05" y="225.50" font-size="6.90" textLength="3.15" lengthAdjust="spacingAndGlyphs">2</text><text x="97.8" y="391.5" font-size="7.6" text-anchor="middle" textLength="28.6" lengthAdjust="spacingAndGlyphs"><tspan font-size="8.8">Δ</tspan><tspan font-size="5.4" dy="2.0">B</tspan><tspan dy="-2.0"> (GHz)</tspan></text><text transform="translate(5.6 298.9) rotate(-90)" font-size="7.6" text-anchor="middle" textLength="29.6" lengthAdjust="spacingAndGlyphs"><tspan font-size="8.8">Δ</tspan><tspan font-size="5.4" dy="2.0">A</tspan><tspan dy="-2.0"> (GHz)</tspan></text><rect x="189.80" y="225.10" width="11.40" height="2.10" fill="#e40000"/><rect x="189.80" y="226.90" width="11.40" height="2.10" fill="#e40000"/><rect x="189.80" y="228.70" width="11.40" height="2.10" fill="#fa0303"/><rect x="189.80" y="230.50" width="11.40" height="2.10" fill="#fa0a0a"/><rect x="189.80" y="232.30" width="11.40" height="2.10" fill="#fa1010"/><rect x="189.80" y="234.09" width="11.40" height="2.10" fill="#fa1616"/><rect x="189.80" y="235.89" width="11.40" height="2.10" fill="#fb1d1d"/><rect x="189.80" y="237.69" width="11.40" height="2.10" fill="#fb2323"/><rect x="189.80" y="239.49" width="11.40" height="2.10" fill="#fb2929"/><rect x="189.80" y="241.29" width="11.40" height="2.10" fill="#fb3030"/><rect x="189.80" y="243.09" width="11.40" height="2.10" fill="#fb3636"/><rect x="189.80" y="244.89" width="11.40" height="2.10" fill="#fb3d3d"/><rect x="189.80" y="246.69" width="11.40" height="2.10" fill="#fb4343"/><rect x="189.80" y="248.48" width="11.40" height="2.10" fill="#fb4949"/><rect x="189.80" y="250.28" width="11.40" height="2.10" fill="#fc5050"/><rect x="189.80" y="252.08" width="11.40" height="2.10" fill="#fc5656"/><rect x="189.80" y="253.88" width="11.40" height="2.10" fill="#fc5c5c"/><rect x="189.80" y="255.68" width="11.40" height="2.10" fill="#fc6363"/><rect x="189.80" y="257.48" width="11.40" height="2.10" fill="#fc6969"/><rect x="189.80" y="259.28" width="11.40" height="2.10" fill="#fc7070"/><rect x="189.80" y="261.08" width="11.40" height="2.10" fill="#fc7676"/><rect x="189.80" y="262.88" width="11.40" height="2.10" fill="#fc7c7c"/><rect x="189.80" y="264.67" width="11.40" height="2.10" fill="#fd8383"/><rect x="189.80" y="266.47" width="11.40" height="2.10" fill="#fd8989"/><rect x="189.80" y="268.27" width="11.40" height="2.10" fill="#fd8f8f"/><rect x="189.80" y="270.07" width="11.40" height="2.10" fill="#fd9696"/><rect x="189.80" y="271.87" width="11.40" height="2.10" fill="#fd9c9c"/><rect x="189.80" y="273.67" width="11.40" height="2.10" fill="#fda3a3"/><rect x="189.80" y="275.47" width="11.40" height="2.10" fill="#fda9a9"/><rect x="189.80" y="277.27" width="11.40" height="2.10" fill="#fdafaf"/><rect x="189.80" y="279.06" width="11.40" height="2.10" fill="#feb6b6"/><rect x="189.80" y="280.86" width="11.40" height="2.10" fill="#febcbc"/><rect x="189.80" y="282.66" width="11.40" height="2.10" fill="#fec2c2"/><rect x="189.80" y="284.46" width="11.40" height="2.10" fill="#fec9c9"/><rect x="189.80" y="286.26" width="11.40" height="2.10" fill="#fecfcf"/><rect x="189.80" y="288.06" width="11.40" height="2.10" fill="#fed6d6"/><rect x="189.80" y="289.86" width="11.40" height="2.10" fill="#fedcdc"/><rect x="189.80" y="291.66" width="11.40" height="2.10" fill="#fee2e2"/><rect x="189.80" y="293.45" width="11.40" height="2.10" fill="#ffe9e9"/><rect x="189.80" y="295.25" width="11.40" height="2.10" fill="#ffefef"/><rect x="189.80" y="297.05" width="11.40" height="2.10" fill="#fff5f5"/><rect x="189.80" y="298.85" width="11.40" height="2.10" fill="#fffcfc"/><rect x="189.80" y="300.65" width="11.40" height="2.10" fill="#fcfcff"/><rect x="189.80" y="302.45" width="11.40" height="2.10" fill="#f5f5fe"/><rect x="189.80" y="304.25" width="11.40" height="2.10" fill="#efeffe"/><rect x="189.80" y="306.05" width="11.40" height="2.10" fill="#e9e9fe"/><rect x="189.80" y="307.85" width="11.40" height="2.10" fill="#e2e2fd"/><rect x="189.80" y="309.64" width="11.40" height="2.10" fill="#dcdcfd"/><rect x="189.80" y="311.44" width="11.40" height="2.10" fill="#d6d6fd"/><rect x="189.80" y="313.24" width="11.40" height="2.10" fill="#cfcffc"/><rect x="189.80" y="315.04" width="11.40" height="2.10" fill="#c9c9fc"/><rect x="189.80" y="316.84" width="11.40" height="2.10" fill="#c2c2fb"/><rect x="189.80" y="318.64" width="11.40" height="2.10" fill="#bcbcfb"/><rect x="189.80" y="320.44" width="11.40" height="2.10" fill="#b6b6fb"/><rect x="189.80" y="322.24" width="11.40" height="2.10" fill="#afaffa"/><rect x="189.80" y="324.03" width="11.40" height="2.10" fill="#a9a9fa"/><rect x="189.80" y="325.83" width="11.40" height="2.10" fill="#a3a3fa"/><rect x="189.80" y="327.63" width="11.40" height="2.10" fill="#9c9cf9"/><rect x="189.80" y="329.43" width="11.40" height="2.10" fill="#9696f9"/><rect x="189.80" y="331.23" width="11.40" height="2.10" fill="#8f8ff8"/><rect x="189.80" y="333.03" width="11.40" height="2.10" fill="#8989f8"/><rect x="189.80" y="334.83" width="11.40" height="2.10" fill="#8383f8"/><rect x="189.80" y="336.63" width="11.40" height="2.10" fill="#7c7cf7"/><rect x="189.80" y="338.42" width="11.40" height="2.10" fill="#7676f7"/><rect x="189.80" y="340.22" width="11.40" height="2.10" fill="#7070f7"/><rect x="189.80" y="342.02" width="11.40" height="2.10" fill="#6969f6"/><rect x="189.80" y="343.82" width="11.40" height="2.10" fill="#6363f6"/><rect x="189.80" y="345.62" width="11.40" height="2.10" fill="#5c5cf5"/><rect x="189.80" y="347.42" width="11.40" height="2.10" fill="#5656f5"/><rect x="189.80" y="349.22" width="11.40" height="2.10" fill="#5050f5"/><rect x="189.80" y="351.02" width="11.40" height="2.10" fill="#4949f4"/><rect x="189.80" y="352.82" width="11.40" height="2.10" fill="#4343f4"/><rect x="189.80" y="354.61" width="11.40" height="2.10" fill="#3d3df4"/><rect x="189.80" y="356.41" width="11.40" height="2.10" fill="#3636f3"/><rect x="189.80" y="358.21" width="11.40" height="2.10" fill="#3030f3"/><rect x="189.80" y="360.01" width="11.40" height="2.10" fill="#2929f2"/><rect x="189.80" y="361.81" width="11.40" height="2.10" fill="#2323f2"/><rect x="189.80" y="363.61" width="11.40" height="2.10" fill="#1d1df2"/><rect x="189.80" y="365.41" width="11.40" height="2.10" fill="#1616f1"/><rect x="189.80" y="367.21" width="11.40" height="2.10" fill="#1010f1"/><rect x="189.80" y="369.00" width="11.40" height="2.10" fill="#0a0af1"/><rect x="189.80" y="370.80" width="11.40" height="2.10" fill="#0303f0"/><rect x="189.80" y="372.60" width="11.40" height="2.10" fill="#0000d7"/><rect x="189.80" y="374.40" width="11.40" height="2.10" fill="#0000d7"/><rect x="189.80" y="225.10" width="11.40" height="151.10" fill="none" stroke="#777" stroke-width=".6"/><text x="204.50" y="230.90" font-size="6.90" textLength="7.87" lengthAdjust="spacingAndGlyphs">4.0</text><text x="204.50" y="248.89" font-size="6.90" textLength="7.87" lengthAdjust="spacingAndGlyphs">3.0</text><text x="204.50" y="266.87" font-size="6.90" textLength="7.87" lengthAdjust="spacingAndGlyphs">2.0</text><text x="204.50" y="284.86" font-size="6.90" textLength="7.87" lengthAdjust="spacingAndGlyphs">1.0</text><text x="204.50" y="302.85" font-size="6.90" textLength="7.87" lengthAdjust="spacingAndGlyphs">0.0</text><text x="204.50" y="320.84" font-size="6.90" textLength="9.75" lengthAdjust="spacingAndGlyphs">-1.0</text><text x="204.50" y="338.83" font-size="6.90" textLength="9.75" lengthAdjust="spacingAndGlyphs">-2.0</text><text x="204.50" y="356.81" font-size="6.90" textLength="9.75" lengthAdjust="spacingAndGlyphs">-3.0</text><text x="204.50" y="374.80" font-size="6.90" textLength="9.75" lengthAdjust="spacingAndGlyphs">-4.0</text><path d="M201.20 228.70h1.6M201.20 246.69h1.6M201.20 264.67h1.6M201.20 282.66h1.6M201.20 300.65h1.6M201.20 318.64h1.6M201.20 336.63h1.6M201.20 354.61h1.6M201.20 372.60h1.6" stroke="#555" stroke-width=".6"/><g clip-path="url(#ce)"><rect x="244.10" y="223.40" width="161.50" height="150.20" fill="#ffffff"/><g transform="scale(.1)"><path fill="#ffdfdf" d="M2447 3731l4 5h583l17-14 17-11 23-10 25-8 60-10 75-4 75 4 60 11 45 17 16 10 18 15h583l8-9v-592l-15-30-12-40-8-50-2-55 2-50 8-50 12-40 15-29v-557h-675l-60 10-70 4-73-4-59-10h-678v554l17 32 12 40 7 45 3 55-2 55-7 50-12 40-18 34v585zM3216 3195l-70-8-27-7-26-10-22-12-17-13-13-15-13-20-12-26-9-34-5-35-3-40 1-40 4-40 7-35 10-30 20-34 25-24 35-19 45-14 65-8h75l65 8 50 15 35 20 25 25 17 31 13 40 8 55 1 65-8 60-13 45-13 25-20 24-21 16-30 15-34 10-45 8-50 3z"/><path fill="#ffbfbf" d="M2525 3736h424l13-30 18-25 21-17 30-14 40-11 50-8 60-4 70-2 70 2 60 4 50 8 40 12 30 15 20 17 16 23 14 30h423l12-30 20-28 20-17 30-16v-411l-26-14-19-16-15-21-13-28-9-35-7-45-5-110 5-110 6-45 9-35 13-30 14-20 22-20 25-13v-411l-35-19-15-13-12-15h-465l-14 15-20 15-24 12-30 9-35 7-45 5-110 4-115-4-45-6-35-7-30-9-22-11-18-13-15-17h-466l-14 17-15 13-35 18v409l25 13 20 16 18 25 12 26 10 38 6 41 4 50 2 65-2 64-4 51-7 40-9 35-14 30-15 20-21 17-25 13v409l33 17 22 20 17 25zM3216 3255l-105-7-40-7-30-8-25-11-20-13-18-19-13-20-13-35-9-45-6-55-2-65 1-65 6-60 9-50 12-35 12-20 11-14 30-22 45-17 60-10 105-6 110 2 85 10 26 7 28 10 31 20 15 15 10 15 16 40 11 55 6 95-2 100-10 75-6 25-10 26-15 25-19 19-25 15-31 12-40 9-55 6-65 3z"/><path fill="#ff9f9f" d="M2561 3736h349l11-41 15-31 21-23 29-17 44-13 51-7 75-5 95-2 90 1 75 5 53 8 42 12 30 17 20 21 16 30 12 45h349l8-33 8-22 11-20 11-15 12-10 18-11 22-9 28-8v-334l-40-13-25-14-20-20-15-28-10-34-9-55-4-65-2-80 1-80 5-70 8-50 11-38 15-27 20-21 26-14 39-13v-334l-40-12-30-17-20-21-17-34h-372l-12 25-19 23-25 17-26 10-44 10-47 5-73 4-80 2-85-2-70-4-50-6-40-8-30-12-25-18-17-21-12-25h-372l-14 30-23 25-32 18-40 12v333l40 12 25 14 20 19 16 28 11 35 9 50 4 65 2 90-2 85-4 65-8 50-11 35-17 30-20 19-30 15-35 10v334l30 8 20 8 20 12 12 10 13 17 10 19zM3211 3285l-120-5-45-6-38-9-26-10-21-13-17-17-12-20-13-35-9-50-5-70-2-90 2-90 5-65 10-50 12-35 9-15 13-15 13-10 19-11 47-14 68-9 135-5 140 3 85 10 30 7 25 9 17 10 13 11 21 29 14 40 10 64 5 116-3 130-9 80-7 30-9 25-17 25-17 15-28 15-34 10-46 8-55 5z"/><path fill="#ff8080" d="M2583 3736h305l9-50 14-39 20-25 26-16 39-12 55-9 80-5 120-1 115 1 80 5 55 8 40 12 15 8 15 12 19 26 13 35 9 50h304l7-40 8-30 10-22 13-18 17-14 22-11 28-8 35-7v-289l-50-11-30-13-25-22-15-26-11-35-8-55-4-75-2-95 2-95 4-75 8-55 12-40 14-25 25-22 32-13 48-11v-289l-55-12-22-9-15-10-13-12-12-18-9-20-7-25h-319l-11 35-15 25-22 19-30 14-40 9-60 7-175 5-175-5-60-7-40-8-31-14-24-20-15-25-11-35h-319l-7 25-9 20-9 15-15 15-16 10-24 10-55 12v288l50 10 30 13 25 20 17 28 12 40 7 50 4 75 2 100-2 105-5 74-8 51-12 35-16 25-26 20-33 13-45 9v289l35 6 30 9 20 10 19 15 12 15 11 25 9 30zM3091 3301l-85-10-25-6-26-10-19-12-15-15-11-18-9-25-10-50-6-70-2-110 1-110 4-70 8-54 10-35 14-26 14-15 14-10 38-15 60-11 100-6 165-1 130 6 72 12 28 9 18 11 12 10 12 15 8 15 8 25 11 60 5 85 1 145-5 115-11 70-9 26-11 19-19 20-25 14-35 11-40 6-70 6-95 2h-110z"/><path fill="#ff6060" d="M2598 3736h274l8-60 13-40 18-26 10-9 19-10 41-12 65-8 90-4 115-2 115 2 90 4 65 8 40 12 17 10 12 10 17 25 12 40 8 60h274l5-44 8-36 10-25 14-20 18-15 22-10 33-9 45-6v-259l-55-8-38-14-16-10-10-10-15-25-11-35-8-60-4-80-2-105 2-110 4-80 8-59 11-36 9-16 10-12 24-17 36-12 55-9v-259l-66-11-27-10-17-11-14-14-11-19-9-26-6-30h-284l-9 40-14 30-19 20-29 15-42 10-58 7-80 3-120 2-120-2-85-4-56-6-41-10-29-15-20-20-14-30-9-40h-284l-7 35-7 20-12 20-15 15-16 10-26 10-69 12v258l55 8 38 13 16 10 11 9 15 23 12 38 8 56 5 84 1 110-1 105-5 85-8 55-12 39-18 26-27 18-40 12-50 8v258l45 6 35 9 22 10 18 14 15 21 9 25 8 35zM3101 3316l-100-8-35-7-25-8-20-12-15-14-11-17-9-24-10-51-5-70-3-120 2-125 3-75 7-55 10-40 12-25 13-15 14-10 40-15 67-10 95-5 190-1 140 5 70 11 29 10 18 10 13 12 10 14 9 19 6 21 9 64 5 85 1 155-5 130-10 70-10 30-10 18-20 20-25 12-35 10-40 5-75 5-85 3z"/><path fill="#ff4040" d="M2610 3736h250l7-65 12-45 17-27 10-9 16-9 39-12 65-8 95-4 130-2 125 2 95 4 65 8 41 12 17 10 11 10 16 27 11 43 7 65h250l5-50 7-38 10-29 15-21 20-15 25-10 31-7 54-6v-236l-60-8-40-11-25-15-10-11-10-17-11-37-8-60-4-85-1-115 1-120 4-85 8-60 11-36 17-24 12-10 16-9 42-11 58-7v-237l-45-4-35-7-25-9-19-12-16-18-10-21-7-26-6-35h-258l-8 45-11 30-10 15-10 10-28 15-40 10-57 6-85 4-135 2-135-2-85-3-60-7-40-10-27-15-18-20-14-35-8-45h-258l-6 35-8 30-11 20-15 16-20 12-25 9-35 6-45 5v235l61 8 39 10 18 10 12 9 17 26 12 40 7 50 4 80 2 130-2 129-5 81-8 55-11 35-10 15-9 10-25 15-37 11-65 8v236l50 5 30 6 29 10 22 15 14 19 10 26 9 40zM3081 3326l-95-8-30-5-26-8-20-10-16-15-13-20-7-20-9-50-5-80-3-130 2-140 3-70 6-55 8-35 15-31 10-11 15-11 17-7 23-7 61-9 108-5h206l140 5 45 4 34 7 21 6 20 11 10 9 11 14 9 19 6 21 9 60 5 90 1 180-5 135-5 45-6 30-6 20-11 20-18 19-21 11-34 10-40 6-75 4-95 3z"/><path fill="#ff2020" d="M2619 3736h232l7-75 5-25 8-24 9-16 11-12 15-10 20-8 45-9 60-5 220-4 215 4 60 5 47 9 18 7 15 9 13 14 9 15 8 23 5 25 7 77h232l5-60 6-36 10-30 15-22 20-15 30-11 37-6 53-5v-218l-69-8-24-5-22-7-15-9-14-14-10-15-6-16-9-44-5-55-4-195 4-200 5-55 9-43 7-17 10-15 10-10 16-10 22-9 25-5 70-7v-219l-55-5-35-6-25-8-19-12-16-18-10-22-7-30-5-40h-239l-9 58-5 17-10 19-10 12-12 9-18 9-22 6-38 6-60 5-210 4-210-4-60-4-41-7-19-5-20-10-13-10-9-10-8-15-7-20-10-60h-238l-5 38-8 32-12 25-14 15-16 10-30 11-35 6-55 4v219l75 7 25 6 19 8 16 9 10 11 10 15 8 20 7 35 6 60 4 200-4 200-5 55-8 35-7 20-9 15-12 12-15 9-25 9-23 5-72 8v218l55 5 35 6 28 9 23 15 14 20 11 30 8 45zM3156 3336l-145-5-45-5-30-6-25-8-15-9-15-15-10-18-11-40-7-70-4-110v-150l2-100 5-75 9-50 12-30 19-22 15-8 20-8 50-9 85-5 210-3 190 4 85 9 25 7 22 10 13 10 10 12 14 33 8 50 5 80 3 190-5 165-9 80-6 23-10 21-15 16-20 13-30 9-40 6-135 7z"/><path fill="#ff0000" d="M2626 3736h218l7-85 11-45 9-18 11-12 16-10 18-7 38-8 62-6 235-4 240 5 55 5 40 8 16 7 15 10 13 15 8 15 7 25 4 25 7 80h217l4-60 7-45 9-30 13-20 20-15 28-10 42-7 60-5v-204l-80-8-44-12-16-9-11-11-9-12-7-18-8-35-5-55-5-215 5-220 5-54 8-36 7-16 10-15 11-9 18-11 46-11 75-6v-205l-50-3-45-7-27-8-23-14-15-19-9-22-6-30-5-45h-223l-8 60-5 20-9 20-10 13-10 8-18 9-17 6-45 7-60 5-220 3-220-3-60-4-45-8-20-6-15-7-10-8-12-15-8-15-6-20-9-65h-222l-5 45-8 34-10 22-15 17-21 12-29 9-45 6-50 3v205l80 7 43 10 17 9 13 12 10 15 7 18 8 42 5 55 4 210-4 205-4 55-9 44-7 16-9 15-14 13-15 8-45 12-80 7v204l60 4 45 8 27 10 18 13 15 21 10 31 6 40zM3071 3341l-105-7-35-5-25-8-20-11-10-10-10-15-9-25-9-55-4-80-2-150 1-155 3-71 5-54 9-40 13-25 9-10 14-10 20-9 25-5 60-7 105-4 230-1 155 4 75 9 26 7 19 11 12 10 8 11 8 19 6 20 7 55 4 95 1 210-4 145-9 75-8 25-10 18-15 14-25 12-30 7-45 5-175 6z"/><path fill="#de0000" d="M2632 3736h206l5-85 11-50 7-15 12-15 14-10 19-8 35-8 65-5 245-4 245 4 64 6 36 8 16 7 14 10 12 15 8 17 10 48 6 85h205l4-69 6-41 9-32 15-22 20-14 30-10 45-6 60-4v-192l-75-6-50-10-19-10-11-8-10-13-8-19-8-35-6-60-4-220 4-220 5-55 8-40 5-15 10-15 14-14 15-7 20-7 30-5 80-6v-193l-62-4-37-5-31-9-20-11-15-17-10-23-7-35-5-50h-209l-8 65-11 37-9 13-11 11-16 9-19 6-45 8-60 4-230 3-235-3-60-4-45-8-17-6-17-10-11-11-8-14-12-40-6-60h-210l-4 46-8 39-11 25-14 15-22 12-29 8-37 5-64 4v193l80 6 50 11 15 7 12 10 11 15 7 15 9 40 5 60 4 220-4 215-5 60-9 42-9 18-11 14-15 10-15 6-50 10-75 6v192l65 4 45 7 30 10 20 16 13 21 9 30 6 45zM3046 3346l-90-6-31-5-24-6-18-9-12-10-11-15-9-25-9-55-4-85-2-155 1-165 4-80 5-50 8-35 12-23 12-12 13-8 41-13 64-6 105-4h245l155 4 75 8 28 8 17 11 11 10 9 14 11 36 7 65 3 100 1 210-4 145-8 71-7 24-11 20-17 15-22 10-33 8-50 5-195 5z"/><path fill="#de0000" d="M2639 3736h193l2-60 4-45 6-25 9-25 8-10 20-17 10-5 20-6 30-5 65-5 245-2 240 2 70 5 45 10 20 11 8 7 9 10 10 20 5 20 5 35 6 85h193l1-60 6-50 9-35 16-25 17-13 30-10 30-5 85-6v-181l-70-3-35-5-35-10-10-6-18-17-9-15-5-15-5-25-6-55-4-235 4-240 6-55 9-35 11-20 12-13 30-14 25-6 45-5 55-2v-182l-50-1-50-5-25-6-30-14-16-18-11-25-6-25-5-65h-198l-1 40-6 35-9 30-5 10-14 15-9 7-25 10-30 6-55 5-260 5-265-5-55-5-25-5-15-5-20-11-12-12-6-10-10-25-4-20-6-65h-197l-2 45-6 35-11 30-16 20-20 13-40 10-50 5-50 1v182l50 2 50 5 40 10 10 5 15 13 8 10 9 20 11 55 4 80 2 190-2 185-4 80-10 55-6 15-12 17-15 11-20 10-60 10-70 3v181l90 6 30 5 30 12 15 12 13 19 10 30 5 35zM3046 3351l-80-3-40-5-25-5-25-11-13-12-10-15-10-25-5-30-5-75-3-210 3-210 5-70 6-30 5-15 11-20 11-12 20-11 40-10 60-6 170-3 160-1 195 5 50 5 25 5 20 6 15 9 17 18 10 20 5 20 6 45 5 110v275l-5 130-6 45-5 20-13 25-19 18-20 9-25 6-45 5-180 6h-230z"/></g><path transform="scale(.1)" fill="none" stroke="#2a2a2a" stroke-width="4.5" d="M3034 3736l17-14 17-11 23-10 25-8 60-10 75-4 75 4 60 11 45 17 16 10 18 15M4048 3736l8-9M2441 3724l10 12M3216 3195l-70-8-27-7-26-10-22-12-17-13-13-15-13-20-12-26-9-34-5-35-3-40 1-40 4-40 7-35 10-30 20-34 25-24 35-19 45-14 65-8h75l65 8 50 15 35 20 25 25 17 31 13 40 8 55 1 65-8 60-13 45-13 25-20 24-21 16-30 15-34 10-45 8-50 3zM4056 3135l-15-30-12-40-8-50-2-50 2-55 8-50 12-40 15-29M2441 2788l17 32 12 40 8 50 2 55-3 55-6 45-12 40-18 34M3381 2234l-60 10-70 4-73-4-59-10M2949 3736l13-30 18-25 21-17 30-14 40-11 50-8 60-4 70-2 70 2 60 4 50 8 40 12 30 15 20 17 16 23 14 30M3974 3736l12-30 20-28 20-17 30-16M2441 3644l33 17 22 20 17 25 12 30M3216 3255l-105-7-40-7-30-8-25-11-20-13-18-19-13-20-13-35-9-45-6-55-2-65 1-65 6-60 9-50 12-35 12-20 11-14 30-22 45-17 60-10 105-6 110 2 85 10 26 7 28 10 31 20 15 15 10 15 16 40 11 55 6 95-2 100-10 75-6 25-10 26-15 25-19 19-25 15-31 12-40 9-55 6-65 3zM4056 3234l-26-14-19-16-15-21-13-28-9-35-7-45-5-110 5-110 6-45 9-35 13-30 14-20 22-20 25-13M2441 2691l25 13 20 16 18 25 12 26 10 38 6 41 4 50 2 65-2 64-4 51-7 40-9 35-14 30-15 20-21 17-25 13M4056 2281l-35-19-15-13-12-15M2505 2234l-14 17-15 13-35 18M3529 2234l-14 15-20 15-24 12-30 9-35 7-45 5-110 4-115-4-45-6-35-7-30-9-22-11-18-13-15-17M2910 3736l11-41 15-31 21-23 29-17 44-13 51-7 75-5 95-2 90 1 75 5 53 8 42 12 30 17 20 21 16 30 12 45M3938 3736l8-33 8-22 11-20 11-15 12-10 18-11 22-9 28-8M2441 3608l30 8 20 8 20 12 12 10 13 17 10 19 15 54M3211 3285l-120-5-45-6-38-9-26-10-21-13-17-17-12-20-13-35-9-50-5-70-2-90 2-90 5-65 10-50 12-35 9-15 13-15 13-10 19-11 47-14 68-9 135-5 140 3 85 10 30 7 25 9 17 10 13 11 21 29 14 40 10 64 5 116-3 130-9 80-7 30-9 25-17 25-17 15-28 15-34 10-46 8-55 5zM4056 3274l-40-13-25-14-20-20-15-28-10-34-9-55-4-65-2-80 1-80 5-70 8-50 11-38 15-27 20-21 26-14 39-13M2441 2652l40 12 25 14 20 19 16 28 11 35 9 50 4 65 2 90-2 85-4 65-8 50-11 35-17 30-20 19-30 15-35 10M4056 2318l-40-12-30-17-20-21-17-34M2550 2234l-14 30-23 25-32 18-40 12M3577 2234l-12 25-19 23-25 17-26 10-44 10-47 5-73 4-80 2-85-2-70-4-50-6-40-8-30-12-25-18-17-21-12-25M2888 3736l9-50 14-39 20-25 26-16 39-12 55-9 80-5 120-1 115 1 80 5 55 8 40 12 15 8 15 12 19 26 13 35 9 50M3916 3736l7-40 8-30 10-22 13-18 17-14 22-11 28-8 35-7M2441 3586l35 6 30 9 20 10 19 15 12 15 11 25 9 30 6 40M3091 3301l-85-10-25-6-26-10-19-12-15-15-11-18-9-25-10-50-6-70-2-110 1-110 4-70 8-54 10-35 14-26 14-15 14-10 38-15 60-11 100-6 165-1 130 6 72 12 28 9 18 11 12 10 12 15 8 15 8 25 11 60 5 85 1 145-5 115-11 70-9 26-11 19-19 20-25 14-35 11-40 6-70 6-95 2h-110zM4056 3297l-50-11-30-13-25-22-15-26-11-35-8-55-4-75-2-95 2-95 4-75 8-55 12-40 14-25 25-22 32-13 48-11M2441 2629l50 10 30 13 25 20 17 28 12 40 7 50 4 75 2 100-2 105-5 74-8 51-12 35-16 25-26 20-33 13-45 9M4056 2340l-55-12-22-9-15-10-13-12-12-18-9-20-7-25M2576 2234l-7 25-9 20-9 15-15 15-16 10-24 10-55 12M3604 2234l-11 35-15 25-22 19-30 14-40 9-60 7-175 5-175-5-60-7-40-8-31-14-24-20-15-25-11-35M2872 3736l8-60 13-40 18-26 10-9 19-10 41-12 65-8 90-4 115-2 115 2 90 4 65 8 40 12 17 10 12 10 17 25 12 40 8 60M3901 3736l5-44 8-36 10-25 14-20 18-15 22-10 33-9 45-6M2441 3571l45 6 35 9 22 10 18 14 15 21 9 25 8 35 5 45M3101 3316l-100-8-35-7-25-8-20-12-15-14-11-17-9-24-10-51-5-70-3-120 2-125 3-75 7-55 10-40 12-25 13-15 14-10 40-15 67-10 95-5 190-1 140 5 70 11 29 10 18 10 13 12 10 14 9 19 6 21 9 64 5 85 1 155-5 130-10 70-10 30-10 18-20 20-25 12-35 10-40 5-75 5-85 3zM4056 3312l-55-8-38-14-16-10-10-10-15-25-11-35-8-60-4-80-2-105 2-110 4-80 8-59 11-36 9-16 10-12 24-17 36-12 55-9M2441 2614l55 8 38 13 16 10 11 9 15 23 12 38 8 56 5 84 1 110-1 105-5 85-8 55-12 39-18 26-27 18-40 12-50 8M4056 2355l-66-11-27-10-17-11-14-14-11-19-9-26-6-30M2593 2234l-7 35-7 20-12 20-15 15-16 10-26 10-69 12M3622 2234l-9 40-14 30-19 20-29 15-42 10-58 7-80 3-120 2-120-2-85-4-56-6-41-10-29-15-20-20-14-30-9-40M2860 3736l7-65 12-45 17-27 10-9 16-9 39-12 65-8 95-4 130-2 125 2 95 4 65 8 41 12 17 10 11 10 16 27 11 43 7 65M3889 3736l5-50 7-38 10-29 15-21 20-15 25-10 31-7 54-6M2441 3560l50 5 30 6 29 10 22 15 14 19 10 26 9 40 5 55M3081 3326l-95-8-30-5-26-8-20-10-16-15-13-20-7-20-9-50-5-80-3-130 2-140 3-70 6-55 8-35 15-31 10-11 15-11 17-7 23-7 61-9 108-5h206l140 5 45 4 34 7 21 6 20 11 10 9 11 14 9 19 6 21 9 60 5 90 1 180-5 135-5 45-6 30-6 20-11 20-18 19-21 11-34 10-40 6-75 4-95 3zM4056 3324l-60-8-40-11-25-15-10-11-10-17-11-37-8-60-4-85-1-115 1-120 4-85 8-60 11-36 17-24 12-10 16-9 42-11 58-7M2441 2602l61 8 39 10 18 10 12 9 17 26 12 40 7 50 4 80 2 130-2 129-5 81-8 55-11 35-10 15-9 10-25 15-37 11-65 8M4056 2366l-45-4-35-7-25-9-19-12-16-18-10-21-7-26-6-35M2606 2234l-6 35-8 30-11 20-15 16-20 12-25 9-35 6-45 5M3635 2234l-8 45-11 30-10 15-10 10-28 15-40 10-57 6-85 4-135 2-135-2-85-3-60-7-40-10-27-15-18-20-14-35-8-45M2851 3736l6-70 10-45 9-19 8-11 12-11 15-8 36-11 64-8 95-4 145-1 140 1 95 4 65 7 36 11 17 10 11 10 16 27 10 43 7 75M3880 3736l5-60 6-36 10-30 15-22 20-15 30-11 37-6 53-5M2441 3551l55 5 35 6 28 9 23 15 14 20 11 30 8 45 4 55M3156 3336l-145-5-45-5-30-6-25-8-15-9-15-15-10-18-11-40-7-70-4-110v-150l2-100 5-75 9-50 12-30 19-22 15-8 20-8 50-9 85-5 210-3 190 4 85 9 25 7 22 10 13 10 10 12 14 33 8 50 5 80 3 190-5 165-9 80-6 23-10 21-15 16-20 13-30 9-40 6-135 7zM4056 3333l-69-8-40-10-26-15-10-11-9-14-11-36-7-59-4-85-2-130 2-130 3-85 7-60 11-36 10-17 10-11 15-10 15-6 44-11 61-5M2441 2594l63 5 44 11 28 15 10 10 10 15 13 40 7 58 4 92 1 125-1 125-4 88-7 57-12 40-9 15-10 10-27 16-40 10-70 7M4056 2375l-55-5-35-6-25-8-19-12-16-18-10-22-7-30-5-40M2616 2234l-5 38-8 32-12 25-14 15-16 10-30 11-35 6-55 4M3645 2234l-7 50-12 35-10 15-10 10-29 15-46 10-56 5-224 5-227-5-58-5-45-10-28-15-12-12-8-13-12-35-7-50M2844 3736l5-75 9-45 15-30 9-10 16-10 38-12 65-8 100-3 150-2 145 1 100 4 65 7 40 12 15 10 10 10 15 30 10 51 5 70M3873 3736l4-60 7-45 9-30 13-20 20-15 28-10 42-7 60-5M2441 3544l60 4 45 8 27 10 18 13 15 21 10 31 6 40 4 65M3071 3341l-105-7-35-5-25-8-20-11-10-10-10-15-9-25-9-55-4-80-2-150 1-155 3-71 5-54 9-40 13-25 9-10 14-10 20-9 25-5 60-7 105-4 230-1 155 4 75 9 26 7 19 11 12 10 8 11 8 19 6 20 7 55 4 95 1 210-4 145-9 75-8 25-10 18-15 14-25 12-30 7-45 5-175 6zM4056 3340l-65-6-46-9-30-15-10-10-10-15-12-40-7-58-4-92-1-130 1-130 4-95 7-60 13-40 10-15 10-10 30-14 45-9 65-5M2441 2587l75 6 45 10 15 7 13 10 9 10 8 14 10 36 7 60 4 85 1 140-1 145-4 85-7 54-12 36-8 14-10 10-15 10-15 6-45 9-70 6M4056 2382l-50-3-45-7-27-8-23-14-15-19-9-22-6-30-5-45M2624 2234l-5 45-8 34-10 22-15 17-21 12-29 9-45 6-50 3M3653 2234l-7 55-10 35-9 15-9 10-25 15-39 10-58 6-105 4-140 1-140-1-105-4-61-6-39-10-25-15-10-11-8-14-10-35-7-55M2838 3736l4-75 9-51 5-14 10-18 10-10 15-9 40-12 58-6 107-4 155-1 155 1 104 4 61 7 20 4 20 8 15 10 9 11 13 30 9 45 5 80M3867 3736l4-69 6-41 9-32 15-22 20-14 30-10 45-6 60-4M2441 3538l65 4 45 7 30 10 20 16 13 21 9 30 6 45 3 65M3046 3346l-90-6-31-5-24-6-18-9-12-10-11-15-9-25-9-55-4-85-2-155 1-165 4-80 5-50 8-35 12-23 12-12 13-8 41-13 64-6 105-4h245l155 4 75 8 28 8 17 11 11 10 9 14 11 36 7 65 3 100 1 210-4 145-8 71-7 24-11 20-17 15-22 10-33 8-50 5-195 5zM4056 3346l-72-6-48-9-15-6-15-9-17-21-11-35-7-55-4-100-2-140 2-140 3-100 6-51 11-39 9-15 10-10 15-9 15-6 50-9 70-5M2441 2581l70 4 51 9 14 6 16 10 11 10 8 13 11 37 7 60 4 90 1 145-1 145-4 90-7 60-11 34-17 21-28 16-50 9-75 6M4056 2388l-62-4-37-5-31-9-20-11-15-17-10-23-7-35-5-50M2630 2234l-4 46-8 39-11 25-14 15-22 12-29 8-37 5-64 4M3660 2234l-6 55-10 40-8 15-8 10-12 9-15 8-35 9-65 6-90 3-160 1-160-1-95-3-65-7-35-9-25-16-15-23-10-37-6-60M2832 3736l2-60 4-45 6-25 9-25 13-16 15-11 30-11 25-4 65-6 250-2 245 2 65 5 30 6 25 9 10 6 17 17 11 25 9 50 6 85M3862 3736l1-60 6-50 9-35 16-25 17-13 30-10 30-5 85-6M2441 3532l90 6 30 5 30 12 15 12 13 19 10 30 5 35 5 85M3046 3351l-80-3-40-5-25-5-25-11-13-12-10-15-10-25-5-30-5-75-3-210 3-210 5-70 6-30 5-15 11-20 11-12 20-11 40-10 60-6 170-3 160-1 195 5 50 5 25 5 20 6 15 9 17 18 10 20 5 20 6 45 5 110v275l-5 130-6 45-5 20-13 25-19 18-20 9-25 6-45 5-180 6h-230zM4056 3351l-70-3-55-10-15-5-15-10-13-13-9-15-10-40-6-55-4-235 4-240 6-55 6-25 8-20 6-10 12-13 20-10 15-5 65-10 55-2M2441 2575l55 2 45 5 25 5 25 10 9 7 14 16 5 10 10 30 5 40 5 100 1 165-1 165-5 95-5 40-11 35-17 22-30 16-60 10-70 3M4056 2393l-50-1-50-5-25-6-30-14-16-18-11-25-6-25-5-65M2636 2234l-2 45-6 35-11 30-16 20-20 13-40 10-50 5-50 1M3665 2234l-1 40-11 55-9 20-8 9-15 13-10 5-40 11-55 5-265 5-265-5-55-5-40-10-25-16-7-7-11-20-10-40-5-60"/><path d="M244.10 248.50H405.60" stroke="#000" stroke-width="1.3"/><path d="M244.10 344.50H405.60" stroke="#000" stroke-width="1.3"/><path d="M273.50 223.40V373.60" stroke="#000" stroke-width="1.3"/><path d="M376.50 223.40V373.60" stroke="#000" stroke-width="1.3"/><ellipse cx="324.96" cy="296.32" rx="72.81" ry="67.72" fill="none" stroke="#000" stroke-width="1.5"/><ellipse cx="324.96" cy="296.32" rx="72.81" ry="67.72" fill="none" stroke="#66e040" stroke-width="1.5" stroke-dasharray="4.5 2.2"/><path d="M349.53 223.40L511.03 373.60" stroke="#66e040" stroke-width="1.5" stroke-dasharray="4.5 2.2"/><path d="M244.10 316.87L405.60 467.07" stroke="#66e040" stroke-width="1.5" stroke-dasharray="4.5 2.2"/><rect x="311.39" y="225.28" width="26.92" height="9.39" fill="none" stroke="#6a2cb8" stroke-width="1"/><rect x="391.47" y="282.48" width="10.36" height="24.16" fill="none" stroke="#6a2cb8" stroke-width="1"/></g><path d="M244.10 373.60v2.3M250.83 373.60v1.3M257.56 373.60v2.3M264.29 373.60v1.3M271.02 373.60v2.3M277.75 373.60v1.3M284.48 373.60v2.3M291.20 373.60v1.3M297.93 373.60v2.3M304.66 373.60v1.3M311.39 373.60v2.3M318.12 373.60v1.3M324.85 373.60v2.3M331.58 373.60v1.3M338.31 373.60v2.3M345.04 373.60v1.3M351.77 373.60v2.3M358.50 373.60v1.3M365.23 373.60v2.3M371.95 373.60v1.3M378.68 373.60v2.3M385.41 373.60v1.3M392.14 373.60v2.3M398.87 373.60v1.3M405.60 373.60v2.3M244.10 373.60h-2.3M244.10 367.34h-1.3M244.10 361.08h-2.3M244.10 354.83h-1.3M244.10 348.57h-2.3M244.10 342.31h-1.3M244.10 336.05h-2.3M244.10 329.79h-1.3M244.10 323.53h-2.3M244.10 317.28h-1.3M244.10 311.02h-2.3M244.10 304.76h-1.3M244.10 298.50h-2.3M244.10 292.24h-1.3M244.10 285.98h-2.3M244.10 279.73h-1.3M244.10 273.47h-2.3M244.10 267.21h-1.3M244.10 260.95h-2.3M244.10 254.69h-1.3M244.10 248.43h-2.3M244.10 242.18h-1.3M244.10 235.92h-2.3M244.10 229.66h-1.3M244.10 223.40h-2.3" stroke="#444" stroke-width=".8" fill="none"/><rect x="244.10" y="223.40" width="161.50" height="150.20" fill="none" stroke="#999" stroke-width=".8"/><text x="241.58" y="383.60" font-size="6.90" textLength="5.03" lengthAdjust="spacingAndGlyphs">-3</text><text x="255.04" y="383.60" font-size="6.90" textLength="5.03" lengthAdjust="spacingAndGlyphs">-2</text><text x="268.50" y="383.60" font-size="6.90" textLength="5.03" lengthAdjust="spacingAndGlyphs">-1</text><text x="282.90" y="383.60" font-size="6.90" textLength="3.15" lengthAdjust="spacingAndGlyphs">0</text><text x="296.36" y="383.60" font-size="6.90" textLength="3.15" lengthAdjust="spacingAndGlyphs">1</text><text x="309.82" y="383.60" font-size="6.90" textLength="3.15" lengthAdjust="spacingAndGlyphs">2</text><text x="323.28" y="383.60" font-size="6.90" textLength="3.15" lengthAdjust="spacingAndGlyphs">3</text><text x="336.73" y="383.60" font-size="6.90" textLength="3.15" lengthAdjust="spacingAndGlyphs">4</text><text x="350.19" y="383.60" font-size="6.90" textLength="3.15" lengthAdjust="spacingAndGlyphs">5</text><text x="363.65" y="383.60" font-size="6.90" textLength="3.15" lengthAdjust="spacingAndGlyphs">6</text><text x="377.11" y="383.60" font-size="6.90" textLength="3.15" lengthAdjust="spacingAndGlyphs">7</text><text x="390.57" y="383.60" font-size="6.90" textLength="3.15" lengthAdjust="spacingAndGlyphs">8</text><text x="404.03" y="383.60" font-size="6.90" textLength="3.15" lengthAdjust="spacingAndGlyphs">9</text><text x="232.02" y="375.70" font-size="6.90" textLength="8.18" lengthAdjust="spacingAndGlyphs">-10</text><text x="235.17" y="363.18" font-size="6.90" textLength="5.03" lengthAdjust="spacingAndGlyphs">-9</text><text x="235.17" y="350.67" font-size="6.90" textLength="5.03" lengthAdjust="spacingAndGlyphs">-8</text><text x="235.17" y="338.15" font-size="6.90" textLength="5.03" lengthAdjust="spacingAndGlyphs">-7</text><text x="235.17" y="325.63" font-size="6.90" textLength="5.03" lengthAdjust="spacingAndGlyphs">-6</text><text x="235.17" y="313.12" font-size="6.90" textLength="5.03" lengthAdjust="spacingAndGlyphs">-5</text><text x="235.17" y="300.60" font-size="6.90" textLength="5.03" lengthAdjust="spacingAndGlyphs">-4</text><text x="235.17" y="288.08" font-size="6.90" textLength="5.03" lengthAdjust="spacingAndGlyphs">-3</text><text x="235.17" y="275.57" font-size="6.90" textLength="5.03" lengthAdjust="spacingAndGlyphs">-2</text><text x="235.17" y="263.05" font-size="6.90" textLength="5.03" lengthAdjust="spacingAndGlyphs">-1</text><text x="237.05" y="250.53" font-size="6.90" textLength="3.15" lengthAdjust="spacingAndGlyphs">0</text><text x="237.05" y="238.02" font-size="6.90" textLength="3.15" lengthAdjust="spacingAndGlyphs">1</text><text x="237.05" y="225.50" font-size="6.90" textLength="3.15" lengthAdjust="spacingAndGlyphs">2</text><text x="324.9" y="391.5" font-size="7.6" text-anchor="middle" textLength="28.6" lengthAdjust="spacingAndGlyphs"><tspan font-size="8.8">Δ</tspan><tspan font-size="5.4" dy="2.0">B</tspan><tspan dy="-2.0"> (GHz)</tspan></text><text transform="translate(231.6 298.5) rotate(-90)" font-size="7.6" text-anchor="middle" textLength="29.6" lengthAdjust="spacingAndGlyphs"><tspan font-size="8.8">Δ</tspan><tspan font-size="5.4" dy="2.0">A</tspan><tspan dy="-2.0"> (GHz)</tspan></text><rect x="419.20" y="360.40" width="11.60" height="15.20" fill="#ffffff"/><rect x="419.20" y="345.40" width="11.60" height="15.20" fill="#ffdfdf"/><rect x="419.20" y="330.40" width="11.60" height="15.20" fill="#ffbfbf"/><rect x="419.20" y="315.40" width="11.60" height="15.20" fill="#ff9f9f"/><rect x="419.20" y="300.40" width="11.60" height="15.20" fill="#ff8080"/><rect x="419.20" y="285.40" width="11.60" height="15.20" fill="#ff6060"/><rect x="419.20" y="270.40" width="11.60" height="15.20" fill="#ff4040"/><rect x="419.20" y="255.40" width="11.60" height="15.20" fill="#ff2020"/><rect x="419.20" y="240.40" width="11.60" height="15.20" fill="#ff0000"/><rect x="419.20" y="225.40" width="11.60" height="15.20" fill="#de0000"/><rect x="419.20" y="225.40" width="11.60" height="150.00" fill="none" stroke="#777" stroke-width=".6"/><text x="434.00" y="377.60" font-size="6.90" textLength="3.15" lengthAdjust="spacingAndGlyphs">5</text><text x="434.00" y="362.60" font-size="6.90" textLength="6.29" lengthAdjust="spacingAndGlyphs">10</text><text x="434.00" y="347.60" font-size="6.90" textLength="6.29" lengthAdjust="spacingAndGlyphs">15</text><text x="434.00" y="332.60" font-size="6.90" textLength="6.29" lengthAdjust="spacingAndGlyphs">20</text><text x="434.00" y="317.60" font-size="6.90" textLength="6.29" lengthAdjust="spacingAndGlyphs">25</text><text x="434.00" y="302.60" font-size="6.90" textLength="6.29" lengthAdjust="spacingAndGlyphs">30</text><text x="434.00" y="287.60" font-size="6.90" textLength="6.29" lengthAdjust="spacingAndGlyphs">35</text><text x="434.00" y="272.60" font-size="6.90" textLength="6.29" lengthAdjust="spacingAndGlyphs">40</text><text x="434.00" y="257.60" font-size="6.90" textLength="6.29" lengthAdjust="spacingAndGlyphs">45</text><text x="434.00" y="242.60" font-size="6.90" textLength="6.29" lengthAdjust="spacingAndGlyphs">50</text><path d="M430.80 375.40h1.6M430.80 360.40h1.6M430.80 345.40h1.6M430.80 330.40h1.6M430.80 315.40h1.6M430.80 300.40h1.6M430.80 285.40h1.6M430.80 270.40h1.6M430.80 255.40h1.6M430.80 240.40h1.6" stroke="#555" stroke-width=".6"/><g clip-path="url(#cf)"><rect x="470.90" y="223.40" width="163.80" height="150.00" fill="#ffffff"/><g transform="scale(.1)"><path fill="#ffe3e3" d="M4709 3734h1638v-1500h-1638zM5005 2719l-73-109-98-125 10-23 18-27 17-23 22-22 48-37 56-27h5l140 92 116 67-41 18-40 22-38 25-32 27-29 28-26 30-27 40-23 43zM6051 3600l-135-89-120-68v-5l50-23 45-27 30-21 30-26 30-32 26-32 23-35 21-41 67 102 49 65 56 70 1 5-30 50-20 25-21 20-46 35z"/><path fill="#ffc6c6" d="M4709 3734h1638v-275l-13 54-21 50-26 41-35 35-40 28-48 22-52 15-61 10-95-58-90-49-85-42-80-35-80-29-85-26-81-19-79-13 1-5 83-13 78-17 63-19 54-21 53-25 52-30 46-33 44-38 41-43 35-45 30-47 29-55 22-55 19-63 15-63 10-67 15 77 20 75 26 76 32 75 41 80 43 75 56 86 63 89v-1203h-1302l90 52 85 46 85 40 75 31 75 26 76 22 70 17 94 17-73 10-71 14-66 18-60 21-55 24-55 29-50 34-45 37-40 39-35 42-33 48-28 50-22 50-20 55-19 71-13 75-5 3-14-68-20-76-27-75-33-75-38-75-47-81-56-85-61-85 7-45 13-43 17-38 23-35 25-28 30-24 35-21 40-17h-190z"/><path fill="#ffaaaa" d="M4709 3734h286v-140l10-132 5 6 5 85 2 91v90h922l-118-63-105-49-110-46-111-39-105-32-105-25-115-21-133-16-8-5 107-15 121-25 93-27 92-33 87-40 79-46 72-50 65-55 61-63 53-67 47-73 41-78 34-82 30-94 23-95 17-108 14 103 20 106 26 100 34 105 38 96 47 100 55 100 62 103v-807l-145-1-140-7 40-6 85-5 160-2v-238h-283l-2 125-11 124-8-124-2-125h-841l105 52 105 46 105 40 96 31 105 28 100 21 95 16 132 17-112 15-102 20-98 26-99 34-86 38-77 42-75 51-69 56-60 59-55 67-50 74-43 80-37 86-30 92-25 104-15 91-5-3-18-119-23-111-26-90-31-90-39-96-46-95-55-100-58-95v810l185 2 82 5 3 5-130 8-140 1z"/><path fill="#ff8e8e" d="M4709 3734h186l51-151 31-75 28-62 5 5 20 87 19 101 16 95h753l-97-49-95-44-95-41-101-39-90-31-95-30-110-30-116-27-5-5 83-35 86-40 87-45 77-46 78-50 71-50 70-55 70-61 65-63 60-64 55-66 55-72 55-80 50-83 55-103 15-30 2-5-2-3-70 28-98 45-86 45-78 45-79 51-70 50-71 55-69 60-65 63-60 64-55 65-55 71-50 73-45 72-45 81-40 79-5-4-32-112-31-96-61-155-39-86-40-80-46-85-47-81v655l210 33 76 15 5 5-136 48-155 46zM6345 3182l2 4v-652l-160-24-131-25-4 5 41 140 32 96 39 100 40 90 41 86 45 85zM6032 2480l14 5 5-5-25-106-26-140h-673l173 79 171 65 170 54 95 26zM6055 2480l1 3 41-16 85-30 165-49v-154h-197l-41 115z"/><path fill="#ff7171" d="M5099 3729l1 5h625l-169-83-171-75-155-61-214-72-6-5-6-5-72-181-64-140-75-146-84-146v540l204 53 86 25 6 5 5 5 34 100zM6345 3097l2 4v-537l-153-39-138-40-4 5 38 95 40 95 43 96 81 160zM6037 2480l9 4 5-4-40-112-41-134h-550l156 73 155 65 145 54z"/><path fill="#ff5555" d="M5128 3734h528l-161-82-160-76-160-69-160-64-11-10-77-161-75-145-71-125-72-120v455l153 51 138 50 10 10 25 55 50 121zM6346 3037l1 2v-452l-140-47-151-54-3 4 67 140 54 106 85 155zM6040 2480l6 4 4-4-48-111-55-135h-461l135 67 135 62 140 60z"/><path fill="#ff3939" d="M5149 3734h457l-146-78-150-76-145-69-150-67-11-11-82-151-80-140-133-215v392l149 59 142 59 11 11 29 56zM6346 2992l1 2v-389l-151-60-140-59-3 4 122 221 80 135zM6042 2480l4 3 4-3-59-116-62-130h-396l253 128z"/><path fill="#ff1c1c" d="M5164 3729l3 5h400l-272-149-145-75-135-66-12-11-141-236-153-236v343l291 133 11 11 29 50zM6345 2956l2 4v-341l-291-132-3 3 121 201 85 135zM6042 2480l4 3 3-3-135-246h-346l238 128z"/><path fill="#ff0000" d="M5178 3729l3 5h357l-268-153-255-136-16-17-137-216-153-225v305l291 144 15 17zM6345 2931l2 3v-303l-291-144-2 3 115 180zM6043 2480l3 3 3-3-147-246h-307l226 127z"/><path fill="#de0000" d="M5193 3734h321l-259-154-240-135-16-17-142-211-148-210v275l291 154 16 17zM6345 2911l2 3v-272l-291-155-2 3 105 155zM6043 2480l3 2 3-2-157-246h-276l210 123z"/><path fill="#de0000" d="M5203 3734h292l-265-163-215-125-3 2 10 15zM5007 3443l3 2 2-2-2-2zM5002 3438l3 2 2-2-2-2zM4994 3433l6 2 2-2-141-201-152-209v250zM6346 2896l1 2v-248l-291-162-1 2 109 155zM6044 2480l2 2 2-2-165-246h-250l203 124z"/></g><path transform="scale(.1)" fill="none" stroke="#111" stroke-width="5" d="M6051 3600l-135-89-120-68v-5l50-23 45-27 30-21 30-26 30-32 26-32 23-35 21-41 67 102 49 65 56 70 1 5-30 50-20 25-21 20-46 35zM5005 2719l-73-109-98-125 10-23 18-27 17-23 22-22 48-37 56-27h5l140 92 116 67-41 18-40 22-38 25-32 27-29 28-26 30-27 40-23 43zM6347 3459l-13 54-21 50-26 41-35 35-40 28-48 22-52 15-61 10-95-58-90-49-85-42-80-35-80-29-85-26-81-19-79-13 1-5 83-13 78-17 63-19 54-21 53-25 52-30 46-33 44-38 41-43 35-45 30-47 29-55 22-55 19-63 15-63 10-67 15 77 20 75 26 76 32 75 41 80 43 75 56 86 63 89M5045 2234l90 52 85 46 85 40 75 31 75 26 76 22 70 17 94 17-73 10-71 14-66 18-60 21-55 24-55 29-50 34-45 37-40 39-35 42-33 48-28 50-22 50-20 55-19 71-13 75-5 3-14-68-20-76-27-75-33-75-38-75-47-81-56-85-61-85 7-45 13-43 17-38 23-35 25-28 30-24 35-21 40-17M4995 3734v-140l10-132 5 6 5 85 2 91v90M5939 3734l-118-63-105-49-110-46-111-39-105-32-105-25-115-21-133-16-8-5 107-15 121-25 93-27 92-33 87-40 79-46 72-50 65-55 61-63 53-67 47-73 41-78 34-82 30-94 23-95 17-108 14 103 20 106 26 100 34 105 38 96 47 100 55 100 62 103M4709 3431l185 2 82 5 3 5-130 8-140 1M6347 2493l-145-1-140-7 40-6 85-5 160-2M5200 2234l105 52 105 46 105 40 96 31 105 28 100 21 95 16 132 17-112 15-102 20-98 26-99 34-86 38-77 42-75 51-69 56-60 59-55 67-50 74-43 80-37 86-30 92-25 104-15 91-5-3-18-119-23-111-26-90-31-90-39-96-46-95-55-100-58-95M6064 2234l-2 125-11 124-8-124-2-125M4895 3734l51-151 31-75 28-62 5 5 20 87 19 101 16 95M5818 3734l-97-49-95-44-95-41-101-39-90-31-95-30-110-30-116-27-5-5 83-35 86-40 87-45 77-46 78-50 71-50 70-55 70-61 65-63 60-64 55-66 55-72 55-80 50-83 55-103 15-30 2-5-2-3-70 28-98 45-86 45-78 45-79 51-70 50-71 55-69 60-65 63-60 64-55 65-55 71-50 73-45 72-45 81-40 79-5-4-32-112-31-96-61-155-39-86-40-80-46-85-47-81M4709 3390l210 33 76 15 5 5-136 48-155 46M6347 2534l-160-24-126-25h-5l-4 5 31 110 26 80 31 86 35 85 38 85 42 86 43 80 49 84M5327 2234l173 79 86 34 95 35 160 50 205 53 5-5-25-106-26-140M6150 2234l-45 125-49 114-1 7 1 3 41-16 85-30 165-49M5725 3734l-169-83-171-75-155-61-214-72-6-5-6-5-72-181-64-140-75-146-84-146M4709 3360l204 53 86 25 6 5 5 5 34 100 56 186M6347 2564l-153-39-133-39-5-1-4 5 67 165 66 146 74 145 88 155M5420 2234l146 68 155 66 145 55 180 61 5-4-40-112-41-134M5656 3734l-161-82-160-76-160-69-160-64-11-10-77-161-75-145-71-125-72-120M4709 3337l153 51 138 50 10 10 25 55 50 121 43 110M6347 2587l-155-52-131-48-5-1-3 4 77 160 65 126 70 125 82 138M5486 2234l135 67 135 62 125 54 165 67 4-4-48-111-55-135M5606 3734l-146-78-150-76-145-69-150-67-11-11-82-151-80-140-133-215M4709 3319l149 59 142 59 11 11 29 56 109 230M6347 2605l-175-70-111-48-5-1-3 4 151 271 143 233M5533 2234l243 124 270 125 4-3-59-116-62-130M5567 3734l-272-149-145-75-135-66-12-11-141-236-153-236M4709 3304l291 133 11 11 29 50 127 236M6347 2619l-166-74-120-57-5-1-3 3 152 251 142 219M5568 2234l228 123 250 126 3-3-135-246M5538 3734l-268-153-255-136-16-17-137-216-153-225M4709 3292l291 144 15 17 166 281M6347 2631l-286-142-5-2-2 3 155 241 138 203M5595 2234l201 114 250 135 3-3-147-246M5514 3734l-259-154-240-135-16-17-142-211-148-210M4709 3282l291 154 16 17 177 281M6347 2642l-286-153-5-2-2 3 150 221 143 203M5616 2234l200 118 230 130 3-2-9-15-148-231M5495 3734l-265-163-215-125-3 2 10 15 181 271M5007 3443l3 2 2-2-2-2zM5002 3438l3 2 2-2-2-2zM4709 3273l281 158 10 4 2-2-141-201-152-209M6347 2650l-281-158-10-4-1 2 159 226 133 182M5633 2234l193 118 220 130 2-2-9-15-156-231"/><rect x="539.15" y="225.28" width="27.30" height="9.38" fill="none" stroke="#6a2cb8" stroke-width="1"/><rect x="620.37" y="282.40" width="10.51" height="24.12" fill="none" stroke="#6a2cb8" stroke-width="1"/></g><path d="M470.90 373.40v2.3M477.72 373.40v1.3M484.55 373.40v2.3M491.38 373.40v1.3M498.20 373.40v2.3M505.02 373.40v1.3M511.85 373.40v2.3M518.67 373.40v1.3M525.50 373.40v2.3M532.33 373.40v1.3M539.15 373.40v2.3M545.98 373.40v1.3M552.80 373.40v2.3M559.62 373.40v1.3M566.45 373.40v2.3M573.27 373.40v1.3M580.10 373.40v2.3M586.93 373.40v1.3M593.75 373.40v2.3M600.58 373.40v1.3M607.40 373.40v2.3M614.23 373.40v1.3M621.05 373.40v2.3M627.88 373.40v1.3M634.70 373.40v2.3M470.90 373.40h-2.3M470.90 367.15h-1.3M470.90 360.90h-2.3M470.90 354.65h-1.3M470.90 348.40h-2.3M470.90 342.15h-1.3M470.90 335.90h-2.3M470.90 329.65h-1.3M470.90 323.40h-2.3M470.90 317.15h-1.3M470.90 310.90h-2.3M470.90 304.65h-1.3M470.90 298.40h-2.3M470.90 292.15h-1.3M470.90 285.90h-2.3M470.90 279.65h-1.3M470.90 273.40h-2.3M470.90 267.15h-1.3M470.90 260.90h-2.3M470.90 254.65h-1.3M470.90 248.40h-2.3M470.90 242.15h-1.3M470.90 235.90h-2.3M470.90 229.65h-1.3M470.90 223.40h-2.3" stroke="#444" stroke-width=".8" fill="none"/><rect x="470.90" y="223.40" width="163.80" height="150.00" fill="none" stroke="#999" stroke-width=".8"/><text x="468.38" y="383.40" font-size="6.90" textLength="5.03" lengthAdjust="spacingAndGlyphs">-3</text><text x="482.03" y="383.40" font-size="6.90" textLength="5.03" lengthAdjust="spacingAndGlyphs">-2</text><text x="495.68" y="383.40" font-size="6.90" textLength="5.03" lengthAdjust="spacingAndGlyphs">-1</text><text x="510.28" y="383.40" font-size="6.90" textLength="3.15" lengthAdjust="spacingAndGlyphs">0</text><text x="523.93" y="383.40" font-size="6.90" textLength="3.15" lengthAdjust="spacingAndGlyphs">1</text><text x="537.58" y="383.40" font-size="6.90" textLength="3.15" lengthAdjust="spacingAndGlyphs">2</text><text x="551.23" y="383.40" font-size="6.90" textLength="3.15" lengthAdjust="spacingAndGlyphs">3</text><text x="564.88" y="383.40" font-size="6.90" textLength="3.15" lengthAdjust="spacingAndGlyphs">4</text><text x="578.53" y="383.40" font-size="6.90" textLength="3.15" lengthAdjust="spacingAndGlyphs">5</text><text x="592.18" y="383.40" font-size="6.90" textLength="3.15" lengthAdjust="spacingAndGlyphs">6</text><text x="605.83" y="383.40" font-size="6.90" textLength="3.15" lengthAdjust="spacingAndGlyphs">7</text><text x="619.48" y="383.40" font-size="6.90" textLength="3.15" lengthAdjust="spacingAndGlyphs">8</text><text x="633.13" y="383.40" font-size="6.90" textLength="3.15" lengthAdjust="spacingAndGlyphs">9</text><text x="458.82" y="375.50" font-size="6.90" textLength="8.18" lengthAdjust="spacingAndGlyphs">-10</text><text x="461.97" y="363.00" font-size="6.90" textLength="5.03" lengthAdjust="spacingAndGlyphs">-9</text><text x="461.97" y="350.50" font-size="6.90" textLength="5.03" lengthAdjust="spacingAndGlyphs">-8</text><text x="461.97" y="338.00" font-size="6.90" textLength="5.03" lengthAdjust="spacingAndGlyphs">-7</text><text x="461.97" y="325.50" font-size="6.90" textLength="5.03" lengthAdjust="spacingAndGlyphs">-6</text><text x="461.97" y="313.00" font-size="6.90" textLength="5.03" lengthAdjust="spacingAndGlyphs">-5</text><text x="461.97" y="300.50" font-size="6.90" textLength="5.03" lengthAdjust="spacingAndGlyphs">-4</text><text x="461.97" y="288.00" font-size="6.90" textLength="5.03" lengthAdjust="spacingAndGlyphs">-3</text><text x="461.97" y="275.50" font-size="6.90" textLength="5.03" lengthAdjust="spacingAndGlyphs">-2</text><text x="461.97" y="263.00" font-size="6.90" textLength="5.03" lengthAdjust="spacingAndGlyphs">-1</text><text x="463.85" y="250.50" font-size="6.90" textLength="3.15" lengthAdjust="spacingAndGlyphs">0</text><text x="463.85" y="238.00" font-size="6.90" textLength="3.15" lengthAdjust="spacingAndGlyphs">1</text><text x="463.85" y="225.50" font-size="6.90" textLength="3.15" lengthAdjust="spacingAndGlyphs">2</text><text x="552.8" y="391.5" font-size="7.6" text-anchor="middle" textLength="28.6" lengthAdjust="spacingAndGlyphs"><tspan font-size="8.8">Δ</tspan><tspan font-size="5.4" dy="2.0">B</tspan><tspan dy="-2.0"> (GHz)</tspan></text><text transform="translate(458.5 298.4) rotate(-90)" font-size="7.6" text-anchor="middle" textLength="29.6" lengthAdjust="spacingAndGlyphs"><tspan font-size="8.8">Δ</tspan><tspan font-size="5.4" dy="2.0">A</tspan><tspan dy="-2.0"> (GHz)</tspan></text><rect x="644.00" y="349.03" width="10.80" height="25.07" fill="#ffffff"/><rect x="644.00" y="336.60" width="10.80" height="12.63" fill="#ffe3e3"/><rect x="644.00" y="324.17" width="10.80" height="12.63" fill="#ffc6c6"/><rect x="644.00" y="311.73" width="10.80" height="12.63" fill="#ffaaaa"/><rect x="644.00" y="299.30" width="10.80" height="12.63" fill="#ff8e8e"/><rect x="644.00" y="286.87" width="10.80" height="12.63" fill="#ff7171"/><rect x="644.00" y="274.43" width="10.80" height="12.63" fill="#ff5555"/><rect x="644.00" y="262.00" width="10.80" height="12.63" fill="#ff3939"/><rect x="644.00" y="249.57" width="10.80" height="12.63" fill="#ff1c1c"/><rect x="644.00" y="237.13" width="10.80" height="12.63" fill="#ff0000"/><rect x="644.00" y="224.70" width="10.80" height="12.63" fill="#de0000"/><rect x="644.00" y="224.70" width="10.80" height="149.20" fill="none" stroke="#777" stroke-width=".6"/><text x="658.00" y="363.67" font-size="6.90" textLength="7.87" lengthAdjust="spacingAndGlyphs">0.0</text><text x="658.00" y="351.23" font-size="6.90" textLength="7.87" lengthAdjust="spacingAndGlyphs">0.2</text><text x="658.00" y="338.80" font-size="6.90" textLength="7.87" lengthAdjust="spacingAndGlyphs">0.4</text><text x="658.00" y="326.37" font-size="6.90" textLength="7.87" lengthAdjust="spacingAndGlyphs">0.6</text><text x="658.00" y="313.93" font-size="6.90" textLength="7.87" lengthAdjust="spacingAndGlyphs">0.8</text><text x="658.00" y="301.50" font-size="6.90" textLength="7.87" lengthAdjust="spacingAndGlyphs">1.0</text><text x="658.00" y="289.07" font-size="6.90" textLength="7.87" lengthAdjust="spacingAndGlyphs">1.2</text><text x="658.00" y="276.63" font-size="6.90" textLength="7.87" lengthAdjust="spacingAndGlyphs">1.4</text><text x="658.00" y="264.20" font-size="6.90" textLength="7.87" lengthAdjust="spacingAndGlyphs">1.6</text><text x="658.00" y="251.77" font-size="6.90" textLength="7.87" lengthAdjust="spacingAndGlyphs">1.8</text><text x="658.00" y="239.33" font-size="6.90" textLength="7.87" lengthAdjust="spacingAndGlyphs">2.0</text><path d="M654.80 361.47h1.6M654.80 349.03h1.6M654.80 336.60h1.6M654.80 324.17h1.6M654.80 311.73h1.6M654.80 299.30h1.6M654.80 286.87h1.6M654.80 274.43h1.6M654.80 262.00h1.6M654.80 249.57h1.6M654.80 237.13h1.6" stroke="#555" stroke-width=".6"/><text x="8.5" y="9.2" font-size="11.00" textLength="197.5" lengthAdjust="spacingAndGlyphs" fill="#000">(a) Energy level diagram for spinor TAI</text><text x="246.2" y="9.1" font-size="11.00" textLength="13.6" lengthAdjust="spacingAndGlyphs" fill="#000">(b)</text><text x="263.8" y="9.1" font-size="11.00" textLength="131.1" lengthAdjust="spacingAndGlyphs" fill="#000">Light shift for |F=1, m = 0</text><path d="M399.0 0.3L402.3 5.0L399.0 9.6" fill="none" stroke="#000" stroke-width="0.9"/><text x="405.2" y="9.1" font-size="11.00" textLength="11.8" lengthAdjust="spacingAndGlyphs" fill="#000">, S</text><text x="417.6" y="11.4" font-size="7.00" textLength="3.4" lengthAdjust="spacingAndGlyphs" fill="#000">1</text><text x="470.3" y="9.1" font-size="11.00" textLength="14.5" lengthAdjust="spacingAndGlyphs" fill="#000">(c)</text><text x="488.8" y="9.1" font-size="11.00" textLength="131.1" lengthAdjust="spacingAndGlyphs" fill="#000">Light shift for |F=2, m = 0</text><path d="M624.0 0.3L627.3 5.0L624.0 9.6" fill="none" stroke="#000" stroke-width="0.9"/><text x="630.2" y="9.1" font-size="11.00" textLength="11.8" lengthAdjust="spacingAndGlyphs" fill="#000">, S</text><text x="642.6" y="11.4" font-size="7.00" textLength="3.4" lengthAdjust="spacingAndGlyphs" fill="#000">2</text><text x="30.2" y="212.2" font-size="11.00" textLength="128.8" lengthAdjust="spacingAndGlyphs" fill="#000">(d) Light shift difference,</text><text x="162.6" y="212.2" font-size="11.00" textLength="4.9" lengthAdjust="spacingAndGlyphs" fill="#000">S</text><text x="168.0" y="214.4" font-size="7.00" textLength="2.9" lengthAdjust="spacingAndGlyphs" fill="#000">2</text><text x="171.2" y="212.2" font-size="11.00" textLength="2.7" lengthAdjust="spacingAndGlyphs" fill="#000">-</text><text x="175.5" y="212.2" font-size="11.00" textLength="4.7" lengthAdjust="spacingAndGlyphs" fill="#000">S</text><text x="182.5" y="214.4" font-size="7.00" textLength="3.0" lengthAdjust="spacingAndGlyphs" fill="#000">1</text><text x="247.1" y="212.6" font-size="11.00" textLength="157.7" lengthAdjust="spacingAndGlyphs" fill="#000">(e) Average decoherence rate,</text><text x="406.6" y="212.6" font-size="11.00" textLength="6.0" lengthAdjust="spacingAndGlyphs" fill="#000">γ</text><text x="413.0" y="214.8" font-size="6.50" textLength="7.6" lengthAdjust="spacingAndGlyphs" fill="#000">Av</text><text x="519.5" y="212.8" font-size="11.00" textLength="80.9" lengthAdjust="spacingAndGlyphs" fill="#000">(f) Selectivity, η</text><text transform="translate(411.6 95.6) rotate(-90)" font-size="8.20" text-anchor="middle"><tspan>S</tspan><tspan font-size="5.58" dy="1.6">1</tspan><tspan dy="-1.6"></tspan><tspan> (kHz)</tspan></text><text transform="translate(637.4 95.8) rotate(-90)" font-size="8.20" text-anchor="middle"><tspan>S</tspan><tspan font-size="5.58" dy="1.6">2</tspan><tspan dy="-1.6"></tspan><tspan> (kHz)</tspan></text><text transform="translate(182.6 298.9) rotate(-90)" font-size="7.60" text-anchor="middle"><tspan>(S</tspan><tspan font-size="5.17" dy="1.6">2</tspan><tspan dy="-1.6"></tspan><tspan>-S</tspan><tspan font-size="5.17" dy="1.6">1</tspan><tspan dy="-1.6"></tspan><tspan>) (kHz)</tspan></text><text transform="translate(413.4 298.6) rotate(-90)" font-size="7.60" text-anchor="middle"><tspan>γ</tspan><tspan font-size="5.17" dy="1.6">Av</tspan><tspan dy="-1.6"></tspan><tspan> (10</tspan><tspan font-size="5.17" dy="-2.6">6</tspan><tspan dy="2.6"></tspan><tspan>s</tspan><tspan font-size="5.17" dy="-2.6">-1</tspan><tspan dy="2.6"></tspan><tspan>)</tspan></text><text transform="translate(642.4 298.4) rotate(-90)" font-size="8.50" text-anchor="middle"><tspan>η</tspan></text><g transform="translate(274.6 140.6) rotate(0)"><text x="0" y="0" font-size="7.0">2</text><path d="M4.0 -2.3H11.0" stroke="#000" stroke-width=".8"/><path d="M12.4 -2.3L9.6 -3.9L9.6 -0.7z" fill="#000"/><text x="13.4" y="0" font-size="7.0">1′</text></g><g transform="translate(271.9 170.4) rotate(-90)"><text x="0" y="0" font-size="7.0">2</text><path d="M4.0 -2.3H11.0" stroke="#000" stroke-width=".8"/><path d="M12.4 -2.3L9.6 -3.9L9.6 -0.7z" fill="#000"/><text x="13.4" y="0" font-size="7.0">1′</text></g><g transform="translate(385.3 43.9) rotate(0)"><text x="0" y="0" font-size="7.0">1</text><path d="M4.0 -2.3H11.0" stroke="#000" stroke-width=".8"/><path d="M12.4 -2.3L9.6 -3.9L9.6 -0.7z" fill="#000"/><text x="13.4" y="0" font-size="7.0">2′</text></g><g transform="translate(376.9 21.3) rotate(90)"><text x="0" y="0" font-size="7.0">1</text><path d="M4.0 -2.3H11.0" stroke="#000" stroke-width=".8"/><path d="M12.4 -2.3L9.6 -3.9L9.6 -0.7z" fill="#000"/><text x="13.4" y="0" font-size="7.0">2′</text></g><path d="M84.0 55.5L127.3 55.5" stroke="#111" stroke-width="1.3" fill="none"/><path d="M144.3 55.5L187.7 55.5" stroke="#111" stroke-width="1.3" fill="none"/><path d="M84.0 63.9L127.3 63.9" stroke="#111" stroke-width="1.3" fill="none"/><path d="M144.3 63.9L187.7 63.9" stroke="#111" stroke-width="1.3" fill="none"/><path d="M84.1 151.7L126.6 151.7" stroke="#111" stroke-width="1.3" fill="none"/><path d="M144.6 151.7L187.7 151.7" stroke="#111" stroke-width="1.3" fill="none"/><path d="M84.1 180.3L126.6 180.3" stroke="#111" stroke-width="1.3" fill="none"/><path d="M144.6 180.3L187.7 180.3" stroke="#111" stroke-width="1.3" fill="none"/><path d="M84.0 21.3L107.2 21.3" stroke="#777" stroke-width="1" fill="none" stroke-dasharray="2.6 1.6"/><path d="M104.4 32.7L127.3 32.7" stroke="#777" stroke-width="1" fill="none" stroke-dasharray="2.6 1.6"/><path d="M144.3 44.1L187.7 44.1" stroke="#777" stroke-width="1" fill="none" stroke-dasharray="2.6 1.6"/><path d="M85.8 25.0L85.8 51.6" stroke="#888" stroke-width="1.1" fill="none"/><path d="M85.8 21.6l-2.3 4.2h4.6z" fill="#111"/><path d="M85.8 55.0l-2.3 -4.2h4.6z" fill="#111"/><path d="M115.9 36.4L115.9 51.6" stroke="#888" stroke-width="1.1" fill="none"/><path d="M115.9 33.0l-2.3 4.2h4.6z" fill="#111"/><path d="M115.9 55.0l-2.3 -4.2h4.6z" fill="#111"/><path d="M166.1 47.0L166.1 52.4" stroke="#888" stroke-width="1.1" fill="none"/><path d="M166.1 44.4l-1.6 3.2h3.2z" fill="#111"/><path d="M166.1 55.0l-1.6 -3.2h3.2z" fill="#111"/><path d="M95.6 180.3L95.6 30.0" stroke="#ff2020" stroke-width="1" fill="none"/><path d="M105.7 151.7L105.7 41.0" stroke="#ff2020" stroke-width="1" fill="none"/><path d="M95.6 21.5L98.5 32.6L92.7 32.6z" fill="#ff0000"/><path d="M105.7 32.9L108.6 44.3L102.8 44.3z" fill="#ff0000"/><path d="M118.2 151.7L152.6 54.6" stroke="#ff2020" stroke-width="1" fill="none"/><path d="M116.4 180.3L153.0 54.6" stroke="#ff2020" stroke-width="1" fill="none"/><path d="M155.9 44.6L149.7 53.4L156.1 55.5z" fill="#ff0000"/><text x="73.3" y="39.5" font-size="10.60" textLength="6.8" lengthAdjust="spacingAndGlyphs" fill="#000">Δ</text><text x="80.7" y="41.8" font-size="6.20" textLength="4.0" lengthAdjust="spacingAndGlyphs" fill="#000">A</text><text x="117.4" y="46.5" font-size="10.60" textLength="6.6" lengthAdjust="spacingAndGlyphs" fill="#000">Δ</text><text x="124.2" y="48.2" font-size="6.20" textLength="4.4" lengthAdjust="spacingAndGlyphs" fill="#000">B</text><text x="168.9" y="52.3" font-size="9.20" textLength="5.5" lengthAdjust="spacingAndGlyphs" fill="#000">Δ</text><text x="175.3" y="54.8" font-size="6.40" textLength="5.0" lengthAdjust="spacingAndGlyphs" fill="#000">R</text><text x="25.9" y="55.6" font-size="10.00" textLength="10.9" lengthAdjust="spacingAndGlyphs" fill="#000">5P</text><text x="37.7" y="57.9" font-size="6.60" textLength="11.2" lengthAdjust="spacingAndGlyphs" fill="#000">1/2</text><text x="49.1" y="55.6" font-size="10.00" textLength="31.7" lengthAdjust="spacingAndGlyphs" fill="#000">, F’ = 2’</text><text x="25.9" y="64.5" font-size="10.00" textLength="10.9" lengthAdjust="spacingAndGlyphs" fill="#000">5P</text><text x="37.7" y="66.8" font-size="6.60" textLength="11.2" lengthAdjust="spacingAndGlyphs" fill="#000">1/2</text><text x="49.1" y="64.5" font-size="10.00" textLength="31.7" lengthAdjust="spacingAndGlyphs" fill="#000">, F’ = 1’</text><text x="33.1" y="153.8" font-size="10.00" textLength="10.4" lengthAdjust="spacingAndGlyphs" fill="#000">5S</text><text x="43.9" y="156.1" font-size="6.60" textLength="12.2" lengthAdjust="spacingAndGlyphs" fill="#000">1/2</text><text x="56.1" y="153.8" font-size="10.00" textLength="26.7" lengthAdjust="spacingAndGlyphs" fill="#000">, F = 2</text><text x="33.1" y="182.6" font-size="10.00" textLength="10.4" lengthAdjust="spacingAndGlyphs" fill="#000">5S</text><text x="43.9" y="184.9" font-size="6.60" textLength="12.2" lengthAdjust="spacingAndGlyphs" fill="#000">1/2</text><text x="56.1" y="182.6" font-size="10.00" textLength="26.7" lengthAdjust="spacingAndGlyphs" fill="#000">, F = 1</text><text x="93.5" y="190.7" font-size="10.00" textLength="25.6" lengthAdjust="spacingAndGlyphs" fill="#000">m = 0</text><text x="153.9" y="190.7" font-size="10.00" textLength="25.1" lengthAdjust="spacingAndGlyphs" fill="#000">m = 1</text><text transform="translate(92.8 123.3) rotate(-90)" font-size="8.80" textLength="40.0" lengthAdjust="spacingAndGlyphs" fill="#ff1a1a" class="r">Laser A, π</text><text transform="translate(109.3 84.3) rotate(90)" font-size="8.80" textLength="39.0" lengthAdjust="spacingAndGlyphs" fill="#ff1a1a" class="r">Laser B, π</text><text transform="translate(126.2 120.0) rotate(-70)" font-size="8.80" textLength="49.8" lengthAdjust="spacingAndGlyphs" fill="#ff1a1a" class="r">Laser RB, σ+</text><text transform="translate(136.6 139.6) rotate(-71.5)" font-size="8.80" textLength="50.6" lengthAdjust="spacingAndGlyphs" fill="#ff1a1a" class="r">Laser RA, σ+</text></svg></body></html>
